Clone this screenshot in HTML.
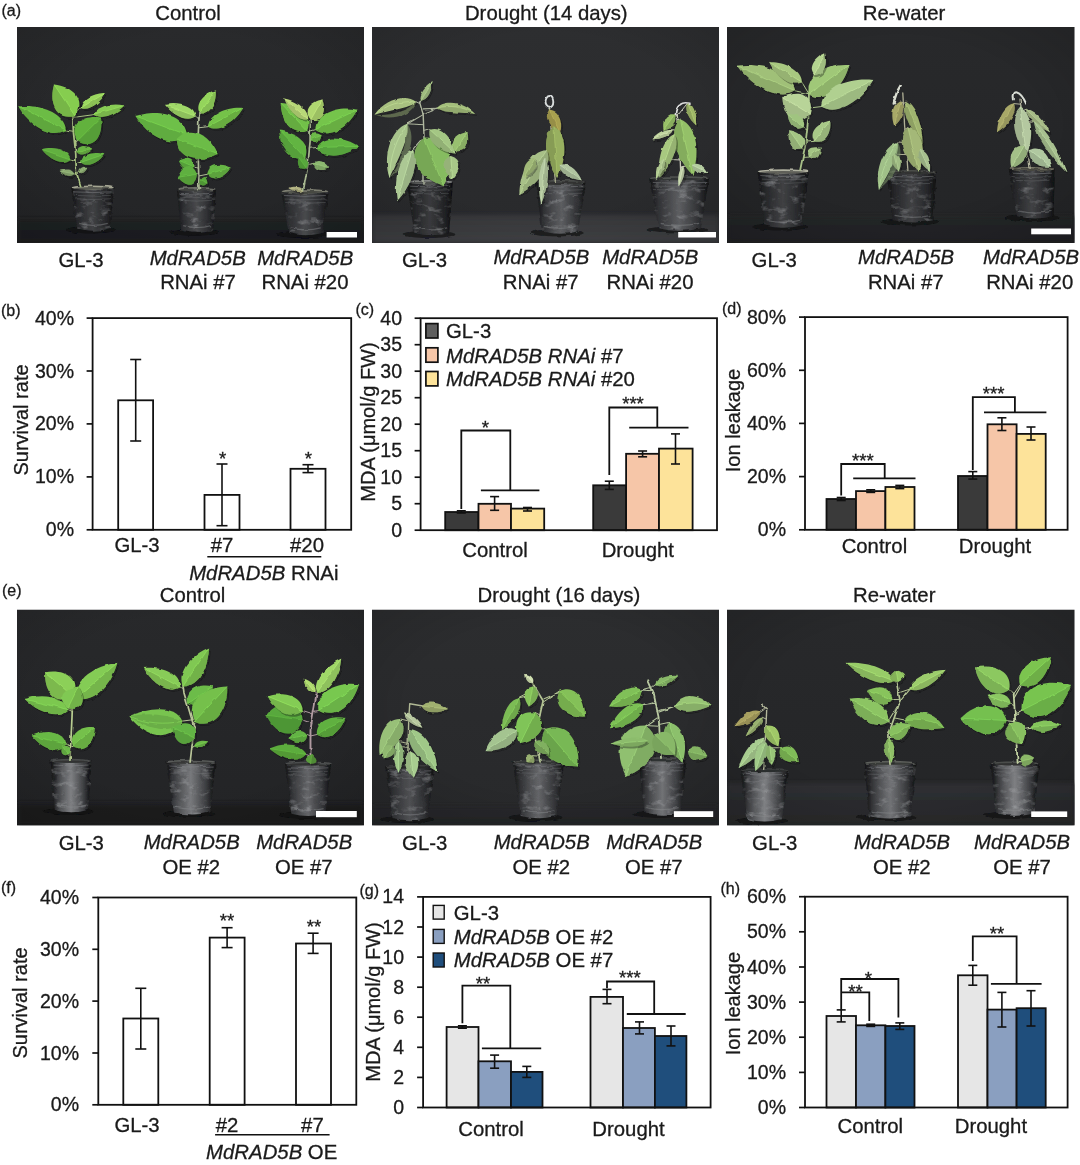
<!DOCTYPE html>
<html lang="en"><head><meta charset="utf-8"><title>MdRAD5B drought figure</title>
<style>html,body{margin:0;padding:0;background:#fff}body{width:1080px;height:1165px;overflow:hidden}svg{display:block}text{font-family:'Liberation Sans', Arial, Helvetica, sans-serif;fill:#1a1a1a;stroke:#1a1a1a;stroke-width:.3px}</style>
</head><body>
<svg width="1080" height="1165" viewBox="0 0 1080 1165">
<defs>
<filter id="soft" x="-5%" y="-5%" width="110%" height="110%"><feTurbulence type="fractalNoise" baseFrequency="0.11" numOctaves="2" seed="3" result="t"/><feDisplacementMap in="SourceGraphic" in2="t" scale="3.2" xChannelSelector="R" yChannelSelector="G" result="d"/><feGaussianBlur in="d" stdDeviation="0.7"/></filter>
<filter id="soft2" x="-2%" y="-20%" width="104%" height="140%"><feGaussianBlur stdDeviation="2.2"/></filter>
<filter id="crinkle" x="0" y="0" width="100%" height="100%"><feTurbulence type="fractalNoise" baseFrequency="0.09 0.16" numOctaves="3" seed="7" result="n"/><feColorMatrix in="n" type="matrix" values="0 0 0 0 0.62  0 0 0 0 0.63  0 0 0 0 0.65  2.4 0 0 0 -1.3" result="m"/><feComposite in="m" in2="SourceGraphic" operator="in"/></filter>
<linearGradient id="pot" x1="0" x2="1" y1="0" y2="0"><stop offset="0" stop-color="#151617"/><stop offset="0.15" stop-color="#2b2c2f"/><stop offset="0.5" stop-color="#48494c"/><stop offset="0.82" stop-color="#2a2b2e"/><stop offset="1" stop-color="#111213"/></linearGradient>
<linearGradient id="potHi" x1="0" x2="1" y1="0" y2="0"><stop offset="0.08" stop-color="#c8cacd" stop-opacity="0"/><stop offset="0.3" stop-color="#c8cacd" stop-opacity="0.3"/><stop offset="0.5" stop-color="#d0d2d5" stop-opacity="0.5"/><stop offset="0.72" stop-color="#c8cacd" stop-opacity="0.25"/><stop offset="0.94" stop-color="#c8cacd" stop-opacity="0"/></linearGradient>
<radialGradient id="vg" cx="0.5" cy="0.45" r="0.75"><stop offset="0.55" stop-color="#000" stop-opacity="0"/><stop offset="1" stop-color="#000" stop-opacity="0.16"/></radialGradient>
<linearGradient id="bg1" x1="0" x2="0" y1="0" y2="1"><stop offset="0" stop-color="#292a2c"/><stop offset="1" stop-color="#242527"/></linearGradient>
<linearGradient id="fl1" x1="0" x2="0" y1="0" y2="1"><stop offset="0" stop-color="#202123"/><stop offset="1" stop-color="#1d1e1f"/></linearGradient>
<clipPath id="cp1"><rect x="17" y="27" width="347" height="216"/></clipPath>
<linearGradient id="bg2" x1="0" x2="0" y1="0" y2="1"><stop offset="0" stop-color="#2d2e30"/><stop offset="1" stop-color="#292a2c"/></linearGradient>
<linearGradient id="fl2" x1="0" x2="0" y1="0" y2="1"><stop offset="0" stop-color="#37383b"/><stop offset="1" stop-color="#424346"/></linearGradient>
<clipPath id="cp2"><rect x="372" y="27" width="347" height="216"/></clipPath>
<linearGradient id="bg3" x1="0" x2="0" y1="0" y2="1"><stop offset="0" stop-color="#28292b"/><stop offset="1" stop-color="#242527"/></linearGradient>
<linearGradient id="fl3" x1="0" x2="0" y1="0" y2="1"><stop offset="0" stop-color="#252628"/><stop offset="1" stop-color="#212224"/></linearGradient>
<clipPath id="cp3"><rect x="727" y="27" width="347.7" height="216"/></clipPath>
<linearGradient id="bg4" x1="0" x2="0" y1="0" y2="1"><stop offset="0" stop-color="#28292b"/><stop offset="1" stop-color="#232426"/></linearGradient>
<linearGradient id="fl4" x1="0" x2="0" y1="0" y2="1"><stop offset="0" stop-color="#1e1f20"/><stop offset="1" stop-color="#1b1c1d"/></linearGradient>
<clipPath id="cp4"><rect x="17" y="609.5" width="347" height="216"/></clipPath>
<linearGradient id="bg5" x1="0" x2="0" y1="0" y2="1"><stop offset="0" stop-color="#2c2d2f"/><stop offset="1" stop-color="#28292b"/></linearGradient>
<linearGradient id="fl5" x1="0" x2="0" y1="0" y2="1"><stop offset="0" stop-color="#28292c"/><stop offset="1" stop-color="#232426"/></linearGradient>
<clipPath id="cp5"><rect x="372" y="609.5" width="347" height="216"/></clipPath>
<linearGradient id="bg6" x1="0" x2="0" y1="0" y2="1"><stop offset="0" stop-color="#28292b"/><stop offset="1" stop-color="#242527"/></linearGradient>
<linearGradient id="fl6" x1="0" x2="0" y1="0" y2="1"><stop offset="0" stop-color="#2e2f32"/><stop offset="1" stop-color="#28292b"/></linearGradient>
<clipPath id="cp6"><rect x="727" y="609.5" width="347.7" height="216"/></clipPath>
</defs>
<rect width="1080" height="1165" fill="#fff"/>
<g clip-path="url(#cp1)">
<rect x="17" y="27" width="347" height="216" fill="url(#bg1)"/>
<rect x="17" y="219" width="347" height="24" fill="url(#fl1)" filter="url(#soft2)"/>
<rect x="17" y="27" width="347" height="216" fill="url(#vg)"/>
<g filter="url(#soft)">
<ellipse cx="90.5" cy="229.9" rx="25.3" ry="3.4" fill="#0c0d0e" opacity="0.7"/>
<path d="M71.2 187.3L114.3 187.3L109.8 228.4Q93.5 232.9 77.1 228.4Z" fill="url(#pot)"/>
<path d="M71.2 187.3L114.3 187.3L109.8 228.4Q93.5 232.9 77.1 228.4Z" fill="#000" opacity="0.1"/>
<path d="M71.2 187.3L114.3 187.3L109.8 228.4Q93.5 232.9 77.1 228.4Z" fill="#808080" filter="url(#crinkle)" opacity="0.45"/>
<path d="M74 191.8Q92.7 193.4 111.5 191.8" stroke="#85878a" stroke-width="0.9" fill="none" opacity="0.55"/>
<path d="M74.6 195.3Q92.7 196.9 110.8 195.3" stroke="#6a6c70" stroke-width="0.9" fill="none" opacity="0.45"/>
<path d="M75.3 198.8Q92.7 200.4 110.2 198.8" stroke="#77797c" stroke-width="0.9" fill="none" opacity="0.4"/>
<path d="M79.1 223.4Q93.5 227.4 107.8 223.4" stroke="#8a8c8f" stroke-width="1.3" fill="none" opacity="0.45"/>
<ellipse cx="92.7" cy="187.6" rx="21" ry="2.1" fill="#a4a592"/>
<ellipse cx="92.7" cy="188.3" rx="18.5" ry="1.2" fill="#1c1d1e" opacity="0.55"/>
<path d="M80.9 186.6 L76.4 172.5 L75.7 153.2 L73.4 132.4 L72.7 116" fill="none" stroke="#a8c080" stroke-width="1.7" stroke-linecap="round" stroke-linejoin="round"/>
<path d="M73.3 131.3L66 130.1" stroke="#a8c080" stroke-width="1" fill="none" stroke-linecap="round"/>
<path d="M72.7 117.6L74.9 116" stroke="#a8c080" stroke-width="1" fill="none" stroke-linecap="round"/>
<path d="M72.7 117.5L80.9 107.9" stroke="#a8c080" stroke-width="1" fill="none" stroke-linecap="round"/>
<path d="M72.7 117.5L94.2 114.6" stroke="#a8c080" stroke-width="1" fill="none" stroke-linecap="round"/>
<path d="M74.4 143.1L77.1 141.3" stroke="#a8c080" stroke-width="1" fill="none" stroke-linecap="round"/>
<path d="M75.9 160.4L70.5 159.1" stroke="#a8c080" stroke-width="1" fill="none" stroke-linecap="round"/>
<path d="M76 164.1L80.9 162.4" stroke="#a8c080" stroke-width="1" fill="none" stroke-linecap="round"/>
<path d="M76.6 174.7L74.2 174" stroke="#a8c080" stroke-width="1" fill="none" stroke-linecap="round"/>
<path d="M76.7 174.8L79.4 172.5" stroke="#a8c080" stroke-width="1" fill="none" stroke-linecap="round"/>
<path d="M66 130.1C64.5 111.8 37.7 103.7 18.5 106.4C27.8 123.3 50.4 139.9 66 130.1Z" fill="#101112" opacity="0.35" transform="translate(1.6 2)"/>
<path d="M66 130.1C64.5 111.8 37.7 103.7 18.5 106.4C27.8 123.3 50.4 139.9 66 130.1Z" fill="#6cbc45"/>
<path d="M66 130.1C50.4 139.9 27.8 123.3 18.5 106.4C34.6 114.5 50.3 122.3 66 130.1Z" fill="#569637" opacity="0.55"/>
<path d="M66 130.1C50.3 122.3 34.6 114.5 18.5 106.4" stroke="#87eb56" stroke-opacity="0.7" stroke-width="0.6" fill="none"/>
<path d="M74.9 116C87.5 99.6 71.8 86.4 54.1 84.6C48.9 101.6 54.8 121.2 74.9 116Z" fill="#101112" opacity="0.35" transform="translate(1.6 2)"/>
<path d="M74.9 116C87.5 99.6 71.8 86.4 54.1 84.6C48.9 101.6 54.8 121.2 74.9 116Z" fill="#86cd50"/>
<path d="M74.9 116C54.8 121.2 48.9 101.6 54.1 84.6C61.2 95.3 68.1 105.6 74.9 116Z" fill="#6ba440" opacity="0.55"/>
<path d="M74.9 116C68.1 105.6 61.2 95.3 54.1 84.6" stroke="#a8ff64" stroke-opacity="0.7" stroke-width="0.6" fill="none"/>
<path d="M80.9 107.9C89.2 111.7 100.9 102 105.7 93C95.5 92.9 81.4 98.7 80.9 107.9Z" fill="#101112" opacity="0.35" transform="translate(1.6 2)"/>
<path d="M80.9 107.9C89.2 111.7 100.9 102 105.7 93C95.5 92.9 81.4 98.7 80.9 107.9Z" fill="#9cd860"/>
<path d="M80.9 107.9C89.2 111.7 100.9 102 105.7 93C97.2 98.1 89 103 80.9 107.9Z" fill="#7dad4d" opacity="0.55"/>
<path d="M80.9 107.9C89 103 97.2 98.1 105.7 93" stroke="#c3ff78" stroke-opacity="0.7" stroke-width="0.6" fill="none"/>
<path d="M94.2 114.6C101.9 120.7 116.8 113.8 124.2 105.6C113.6 102.9 97.3 105.2 94.2 114.6Z" fill="#101112" opacity="0.35" transform="translate(1.6 2)"/>
<path d="M94.2 114.6C101.9 120.7 116.8 113.8 124.2 105.6C113.6 102.9 97.3 105.2 94.2 114.6Z" fill="#88cc54"/>
<path d="M94.2 114.6C101.9 120.7 116.8 113.8 124.2 105.6C114 108.7 104.1 111.6 94.2 114.6Z" fill="#6da343" opacity="0.55"/>
<path d="M94.2 114.6C104.1 111.6 114 108.7 124.2 105.6" stroke="#aaff69" stroke-opacity="0.7" stroke-width="0.6" fill="none"/>
<path d="M77.1 141.3C95.3 150.9 103.5 134.4 100.9 117.5C84.1 115 67.6 123.1 77.1 141.3Z" fill="#101112" opacity="0.35" transform="translate(1.6 2)"/>
<path d="M77.1 141.3C95.3 150.9 103.5 134.4 100.9 117.5C84.1 115 67.6 123.1 77.1 141.3Z" fill="#62b23e"/>
<path d="M77.1 141.3C95.3 150.9 103.5 134.4 100.9 117.5C92.8 125.6 85 133.4 77.1 141.3Z" fill="#4e8e32" opacity="0.55"/>
<path d="M77.1 141.3C85 133.4 92.8 125.6 100.9 117.5" stroke="#7ade4e" stroke-opacity="0.7" stroke-width="0.6" fill="none"/>
<path d="M70.5 159.1C68.4 148.5 52.6 146.1 42 149.5C48.4 158.6 62.3 166.3 70.5 159.1Z" fill="#101112" opacity="0.35" transform="translate(1.6 2)"/>
<path d="M70.5 159.1C68.4 148.5 52.6 146.1 42 149.5C48.4 158.6 62.3 166.3 70.5 159.1Z" fill="#62b040"/>
<path d="M70.5 159.1C62.3 166.3 48.4 158.6 42 149.5C51.6 152.7 61.1 155.9 70.5 159.1Z" fill="#4e8d33" opacity="0.55"/>
<path d="M70.5 159.1C61.1 155.9 51.6 152.7 42 149.5" stroke="#7adc50" stroke-opacity="0.7" stroke-width="0.6" fill="none"/>
<path d="M76.4 151.4C80.4 157.4 88.8 154 93 148.7C87.3 145 78.4 144.5 76.4 151.4Z" fill="#101112" opacity="0.35" transform="translate(1.6 2)"/>
<path d="M76.4 151.4C80.4 157.4 88.8 154 93 148.7C87.3 145 78.4 144.5 76.4 151.4Z" fill="#6ab444"/>
<path d="M76.4 151.4C80.4 157.4 88.8 154 93 148.7C87.4 149.6 81.9 150.5 76.4 151.4Z" fill="#559036" opacity="0.55"/>
<path d="M76.4 151.4C81.9 150.5 87.4 149.6 93 148.7" stroke="#84e155" stroke-opacity="0.7" stroke-width="0.6" fill="none"/>
<path d="M80.9 162.4C87.7 168.6 99 162.1 104.2 154.4C95.3 151.4 82.4 153.3 80.9 162.4Z" fill="#101112" opacity="0.35" transform="translate(1.6 2)"/>
<path d="M80.9 162.4C87.7 168.6 99 162.1 104.2 154.4C95.3 151.4 82.4 153.3 80.9 162.4Z" fill="#64b242"/>
<path d="M80.9 162.4C87.7 168.6 99 162.1 104.2 154.4C96.3 157.1 88.6 159.7 80.9 162.4Z" fill="#508e35" opacity="0.55"/>
<path d="M80.9 162.4C88.6 159.7 96.3 157.1 104.2 154.4" stroke="#7dde52" stroke-opacity="0.7" stroke-width="0.6" fill="none"/>
<path d="M74.2 174C72.5 168.8 64.8 168.7 59.8 171C63.4 175.1 70.6 178 74.2 174Z" fill="#101112" opacity="0.35" transform="translate(1.6 2)"/>
<path d="M74.2 174C72.5 168.8 64.8 168.7 59.8 171C63.4 175.1 70.6 178 74.2 174Z" fill="#8aa870"/>
<path d="M74.2 174C70.6 178 63.4 175.1 59.8 171C64.7 172 69.4 173 74.2 174Z" fill="#6e865a" opacity="0.55"/>
<path d="M74.2 174C69.4 173 64.7 172 59.8 171" stroke="#acd28c" stroke-opacity="0.7" stroke-width="0.6" fill="none"/>
<path d="M79.4 172.5C82.5 174.6 86 171.4 87.1 168C83.6 167.3 79.1 168.7 79.4 172.5Z" fill="#101112" opacity="0.35" transform="translate(1.6 2)"/>
<path d="M79.4 172.5C82.5 174.6 86 171.4 87.1 168C83.6 167.3 79.1 168.7 79.4 172.5Z" fill="#8aa870"/>
<path d="M79.4 172.5C82.5 174.6 86 171.4 87.1 168C84.5 169.5 81.9 171 79.4 172.5Z" fill="#6e865a" opacity="0.55"/>
<path d="M79.4 172.5C81.9 171 84.5 169.5 87.1 168" stroke="#acd28c" stroke-opacity="0.7" stroke-width="0.6" fill="none"/>
<ellipse cx="194.2" cy="232.1" rx="25" ry="3.4" fill="#0c0d0e" opacity="0.7"/>
<path d="M176.8 188.8L216.1 188.8L213.1 230.6Q197.2 235.1 181.2 230.6Z" fill="url(#pot)"/>
<path d="M176.8 188.8L216.1 188.8L213.1 230.6Q197.2 235.1 181.2 230.6Z" fill="#808080" filter="url(#crinkle)" opacity="0.45"/>
<path d="M179.6 193.3Q196.4 194.9 213.3 193.3" stroke="#85878a" stroke-width="0.9" fill="none" opacity="0.55"/>
<path d="M180.2 196.8Q196.4 198.4 212.7 196.8" stroke="#6a6c70" stroke-width="0.9" fill="none" opacity="0.45"/>
<path d="M180.8 200.3Q196.4 201.9 212 200.3" stroke="#77797c" stroke-width="0.9" fill="none" opacity="0.4"/>
<path d="M183.2 225.6Q197.2 229.6 211.1 225.6" stroke="#8a8c8f" stroke-width="1.3" fill="none" opacity="0.45"/>
<ellipse cx="196.4" cy="189.1" rx="19.2" ry="2.1" fill="#6e6f68"/>
<ellipse cx="196.4" cy="189.8" rx="16.7" ry="1.2" fill="#1c1d1e" opacity="0.55"/>
<path d="M199 188.8 L198.3 159.1 L198.3 132.4 L199 117.5" fill="none" stroke="#b0bc98" stroke-width="1.7" stroke-linecap="round" stroke-linejoin="round"/>
<path d="M198.3 136.8L187.1 135.3" stroke="#b0bc98" stroke-width="1" fill="none" stroke-linecap="round"/>
<path d="M199 119L195.6 116.3" stroke="#b0bc98" stroke-width="1" fill="none" stroke-linecap="round"/>
<path d="M199 119L199.8 113.4" stroke="#b0bc98" stroke-width="1" fill="none" stroke-linecap="round"/>
<path d="M198.6 127.8L207.9 126.7" stroke="#b0bc98" stroke-width="1" fill="none" stroke-linecap="round"/>
<path d="M198.3 140.6L176.8 139.1" stroke="#b0bc98" stroke-width="1" fill="none" stroke-linecap="round"/>
<path d="M198.5 168.2L194.1 166.8" stroke="#b0bc98" stroke-width="1" fill="none" stroke-linecap="round"/>
<path d="M198.7 175.7L197.1 174.3" stroke="#b0bc98" stroke-width="1" fill="none" stroke-linecap="round"/>
<path d="M198.7 176L207.2 174.3" stroke="#b0bc98" stroke-width="1" fill="none" stroke-linecap="round"/>
<path d="M187.1 135.3C184.7 113.5 155.9 109 135.6 116C146.3 134.7 171 150.2 187.1 135.3Z" fill="#101112" opacity="0.35" transform="translate(1.6 2)"/>
<path d="M187.1 135.3C184.7 113.5 155.9 109 135.6 116C146.3 134.7 171 150.2 187.1 135.3Z" fill="#6ec048"/>
<path d="M187.1 135.3C171 150.2 146.3 134.7 135.6 116C153.1 122.6 170.1 129 187.1 135.3Z" fill="#589a3a" opacity="0.55"/>
<path d="M187.1 135.3C170.1 129 153.1 122.6 135.6 116" stroke="#8af05a" stroke-opacity="0.7" stroke-width="0.6" fill="none"/>
<path d="M195.6 116.3C193.5 105.5 176.7 102.2 165.3 104.9C172.1 114.5 186.8 123.1 195.6 116.3Z" fill="#101112" opacity="0.35" transform="translate(1.6 2)"/>
<path d="M195.6 116.3C193.5 105.5 176.7 102.2 165.3 104.9C172.1 114.5 186.8 123.1 195.6 116.3Z" fill="#a0d868"/>
<path d="M195.6 116.3C186.8 123.1 172.1 114.5 165.3 104.9C175.6 108.8 185.6 112.6 195.6 116.3Z" fill="#80ad53" opacity="0.55"/>
<path d="M195.6 116.3C185.6 112.6 175.6 108.8 165.3 104.9" stroke="#c8ff82" stroke-opacity="0.7" stroke-width="0.6" fill="none"/>
<path d="M199.8 113.4C211 115.1 216.8 101.4 215.7 90.5C205 93.3 194.3 103.4 199.8 113.4Z" fill="#101112" opacity="0.35" transform="translate(1.6 2)"/>
<path d="M199.8 113.4C211 115.1 216.8 101.4 215.7 90.5C205 93.3 194.3 103.4 199.8 113.4Z" fill="#94d45c"/>
<path d="M199.8 113.4C211 115.1 216.8 101.4 215.7 90.5C210.3 98.3 205 105.8 199.8 113.4Z" fill="#76aa4a" opacity="0.55"/>
<path d="M199.8 113.4C205 105.8 210.3 98.3 215.7 90.5" stroke="#b9ff73" stroke-opacity="0.7" stroke-width="0.6" fill="none"/>
<path d="M207.9 126.7C219.7 133.5 236.4 120.6 243.1 107.9C228.8 106.4 208.8 113.2 207.9 126.7Z" fill="#101112" opacity="0.35" transform="translate(1.6 2)"/>
<path d="M207.9 126.7C219.7 133.5 236.4 120.6 243.1 107.9C228.8 106.4 208.8 113.2 207.9 126.7Z" fill="#74c24a"/>
<path d="M207.9 126.7C219.7 133.5 236.4 120.6 243.1 107.9C231.2 114.3 219.6 120.5 207.9 126.7Z" fill="#5d9b3b" opacity="0.55"/>
<path d="M207.9 126.7C219.6 120.5 231.2 114.3 243.1 107.9" stroke="#91f25c" stroke-opacity="0.7" stroke-width="0.6" fill="none"/>
<path d="M176.8 139.1C177.2 160.8 200.5 162.8 217.6 153.9C210.2 136.1 191 122.7 176.8 139.1Z" fill="#101112" opacity="0.35" transform="translate(1.6 2)"/>
<path d="M176.8 139.1C177.2 160.8 200.5 162.8 217.6 153.9C210.2 136.1 191 122.7 176.8 139.1Z" fill="#6cbc46"/>
<path d="M176.8 139.1C177.2 160.8 200.5 162.8 217.6 153.9C203.7 148.9 190.2 144 176.8 139.1Z" fill="#569638" opacity="0.55"/>
<path d="M176.8 139.1C190.2 144 203.7 148.9 217.6 153.9" stroke="#87eb58" stroke-opacity="0.7" stroke-width="0.6" fill="none"/>
<path d="M194.1 166.8C194.5 158.2 185.5 157 178.7 160.3C181.1 167.5 188.2 173.1 194.1 166.8Z" fill="#101112" opacity="0.35" transform="translate(1.6 2)"/>
<path d="M194.1 166.8C194.5 158.2 185.5 157 178.7 160.3C181.1 167.5 188.2 173.1 194.1 166.8Z" fill="#62b442"/>
<path d="M194.1 166.8C188.2 173.1 181.1 167.5 178.7 160.3C183.9 162.5 189 164.7 194.1 166.8Z" fill="#4e9035" opacity="0.55"/>
<path d="M194.1 166.8C189 164.7 183.9 162.5 178.7 160.3" stroke="#7ae152" stroke-opacity="0.7" stroke-width="0.6" fill="none"/>
<path d="M197.1 174.3C191.4 160.3 182.1 166.2 177.9 177.2C185.3 186.5 195.9 189.3 197.1 174.3Z" fill="#101112" opacity="0.35" transform="translate(1.6 2)"/>
<path d="M197.1 174.3C191.4 160.3 182.1 166.2 177.9 177.2C185.3 186.5 195.9 189.3 197.1 174.3Z" fill="#5fb040"/>
<path d="M197.1 174.3C195.9 189.3 185.3 186.5 177.9 177.2C184.5 176.2 190.8 175.2 197.1 174.3Z" fill="#4c8d33" opacity="0.55"/>
<path d="M197.1 174.3C190.8 175.2 184.5 176.2 177.9 177.2" stroke="#77dc50" stroke-opacity="0.7" stroke-width="0.6" fill="none"/>
<path d="M207.2 174.3C214.1 182.9 225.4 176.6 230.5 167.7C221.6 162.8 208.6 163.3 207.2 174.3Z" fill="#101112" opacity="0.35" transform="translate(1.6 2)"/>
<path d="M207.2 174.3C214.1 182.9 225.4 176.6 230.5 167.7C221.6 162.8 208.6 163.3 207.2 174.3Z" fill="#66b644"/>
<path d="M207.2 174.3C214.1 182.9 225.4 176.6 230.5 167.7C222.6 169.9 214.9 172.1 207.2 174.3Z" fill="#529236" opacity="0.55"/>
<path d="M207.2 174.3C214.9 172.1 222.6 169.9 230.5 167.7" stroke="#80e455" stroke-opacity="0.7" stroke-width="0.6" fill="none"/>
<path d="M199.8 179.9C198.5 186.7 203.3 186.6 207.5 183.2C207 177.8 203.8 174.2 199.8 179.9Z" fill="#101112" opacity="0.35" transform="translate(1.6 2)"/>
<path d="M199.8 179.9C198.5 186.7 203.3 186.6 207.5 183.2C207 177.8 203.8 174.2 199.8 179.9Z" fill="#5aa83c"/>
<path d="M199.8 179.9C198.5 186.7 203.3 186.6 207.5 183.2C204.9 182.1 202.3 181 199.8 179.9Z" fill="#488630" opacity="0.55"/>
<path d="M199.8 179.9C202.3 181 204.9 182.1 207.5 183.2" stroke="#70d24b" stroke-opacity="0.7" stroke-width="0.6" fill="none"/>
<ellipse cx="302.6" cy="234.4" rx="26.1" ry="3.4" fill="#0c0d0e" opacity="0.7"/>
<path d="M281.1 191L328.7 191L322.7 232.9Q305.6 237.4 288.6 232.9Z" fill="url(#pot)"/>
<path d="M281.1 191L328.7 191L322.7 232.9Q305.6 237.4 288.6 232.9Z" fill="#808080" filter="url(#crinkle)" opacity="0.45"/>
<path d="M283.9 195.5Q304.9 197.1 325.8 195.5" stroke="#85878a" stroke-width="0.9" fill="none" opacity="0.55"/>
<path d="M284.6 199Q304.9 200.6 325.2 199" stroke="#6a6c70" stroke-width="0.9" fill="none" opacity="0.45"/>
<path d="M285.2 202.5Q304.9 204.1 324.6 202.5" stroke="#77797c" stroke-width="0.9" fill="none" opacity="0.4"/>
<path d="M290.6 227.9Q305.6 231.9 320.7 227.9" stroke="#8a8c8f" stroke-width="1.3" fill="none" opacity="0.45"/>
<ellipse cx="304.9" cy="191.3" rx="23.3" ry="2.1" fill="#7c7d70"/>
<ellipse cx="304.9" cy="192" rx="20.8" ry="1.2" fill="#1c1d1e" opacity="0.55"/>
<path d="M303.4 190.3 L307.9 165 L310.1 141.3 L310.1 120.5" fill="none" stroke="#a8b890" stroke-width="1.7" stroke-linecap="round" stroke-linejoin="round"/>
<path d="M310.1 132.4L307.1 130.9" stroke="#a8b890" stroke-width="1" fill="none" stroke-linecap="round"/>
<path d="M310.1 122L308.2 119.3" stroke="#a8b890" stroke-width="1" fill="none" stroke-linecap="round"/>
<path d="M310.1 131.2L315.3 129.7" stroke="#a8b890" stroke-width="1" fill="none" stroke-linecap="round"/>
<path d="M308.5 159.7L305.2 157.9" stroke="#a8b890" stroke-width="1" fill="none" stroke-linecap="round"/>
<path d="M309.6 148.3L316.8 147.5" stroke="#a8b890" stroke-width="1" fill="none" stroke-linecap="round"/>
<path d="M308.1 164.5L313.8 163.6" stroke="#a8b890" stroke-width="1" fill="none" stroke-linecap="round"/>
<path d="M307.1 130.9C314 114.9 296.8 103.7 280.8 103C280.6 119 290.8 136.8 307.1 130.9Z" fill="#101112" opacity="0.35" transform="translate(1.6 2)"/>
<path d="M307.1 130.9C314 114.9 296.8 103.7 280.8 103C280.6 119 290.8 136.8 307.1 130.9Z" fill="#72c04a"/>
<path d="M307.1 130.9C290.8 136.8 280.6 119 280.8 103C289.8 112.5 298.4 121.7 307.1 130.9Z" fill="#5b9a3b" opacity="0.55"/>
<path d="M307.1 130.9C298.4 121.7 289.8 112.5 280.8 103" stroke="#8ef05c" stroke-opacity="0.7" stroke-width="0.6" fill="none"/>
<path d="M308.2 119.3C309.2 109.5 295.3 100.5 284.4 98.5C287.8 109 298.5 121.7 308.2 119.3Z" fill="#101112" opacity="0.35" transform="translate(1.6 2)"/>
<path d="M308.2 119.3C309.2 109.5 295.3 100.5 284.4 98.5C287.8 109 298.5 121.7 308.2 119.3Z" fill="#b8d878"/>
<path d="M308.2 119.3C298.5 121.7 287.8 109 284.4 98.5C292.5 105.6 300.3 112.4 308.2 119.3Z" fill="#93ad60" opacity="0.55"/>
<path d="M308.2 119.3C300.3 112.4 292.5 105.6 284.4 98.5" stroke="#e6ff96" stroke-opacity="0.7" stroke-width="0.6" fill="none"/>
<path d="M310.8 119.8C323.4 122 326.2 109.6 322.3 99.4C311.5 101.4 302.4 110.2 310.8 119.8Z" fill="#101112" opacity="0.35" transform="translate(1.6 2)"/>
<path d="M310.8 119.8C323.4 122 326.2 109.6 322.3 99.4C311.5 101.4 302.4 110.2 310.8 119.8Z" fill="#b0d870"/>
<path d="M310.8 119.8C323.4 122 326.2 109.6 322.3 99.4C318.4 106.3 314.6 113 310.8 119.8Z" fill="#8dad5a" opacity="0.55"/>
<path d="M310.8 119.8C314.6 113 318.4 106.3 322.3 99.4" stroke="#dcff8c" stroke-opacity="0.7" stroke-width="0.6" fill="none"/>
<path d="M315.3 129.7C329.7 140.5 349.5 125.9 357.3 109.8C339.9 105.7 316 111.7 315.3 129.7Z" fill="#101112" opacity="0.35" transform="translate(1.6 2)"/>
<path d="M315.3 129.7C329.7 140.5 349.5 125.9 357.3 109.8C339.9 105.7 316 111.7 315.3 129.7Z" fill="#74c44c"/>
<path d="M315.3 129.7C329.7 140.5 349.5 125.9 357.3 109.8C343 116.6 329.2 123.1 315.3 129.7Z" fill="#5d9d3d" opacity="0.55"/>
<path d="M315.3 129.7C329.2 123.1 343 116.6 357.3 109.8" stroke="#91f55f" stroke-opacity="0.7" stroke-width="0.6" fill="none"/>
<path d="M305.2 157.9C311.2 142.9 294.5 131.8 279.3 130.6C279.7 145.8 289.9 163.1 305.2 157.9Z" fill="#101112" opacity="0.35" transform="translate(1.6 2)"/>
<path d="M305.2 157.9C311.2 142.9 294.5 131.8 279.3 130.6C279.7 145.8 289.9 163.1 305.2 157.9Z" fill="#62b442"/>
<path d="M305.2 157.9C289.9 163.1 279.7 145.8 279.3 130.6C288.1 139.9 296.7 148.9 305.2 157.9Z" fill="#4e9035" opacity="0.55"/>
<path d="M305.2 157.9C296.7 148.9 288.1 139.9 279.3 130.6" stroke="#7ae152" stroke-opacity="0.7" stroke-width="0.6" fill="none"/>
<path d="M316.8 147.5C324.6 160.7 346.3 156.1 358.7 146.5C345.9 137.5 324 134 316.8 147.5Z" fill="#101112" opacity="0.35" transform="translate(1.6 2)"/>
<path d="M316.8 147.5C324.6 160.7 346.3 156.1 358.7 146.5C345.9 137.5 324 134 316.8 147.5Z" fill="#62b643"/>
<path d="M316.8 147.5C324.6 160.7 346.3 156.1 358.7 146.5C344.4 146.8 330.6 147.2 316.8 147.5Z" fill="#4e9236" opacity="0.55"/>
<path d="M316.8 147.5C330.6 147.2 344.4 146.8 358.7 146.5" stroke="#7ae454" stroke-opacity="0.7" stroke-width="0.6" fill="none"/>
<path d="M310.8 140.1C315.9 146.4 320.5 141.8 321.5 135.3C316.1 131.8 309.6 132.1 310.8 140.1Z" fill="#101112" opacity="0.35" transform="translate(1.6 2)"/>
<path d="M310.8 140.1C315.9 146.4 320.5 141.8 321.5 135.3C316.1 131.8 309.6 132.1 310.8 140.1Z" fill="#6cba48"/>
<path d="M310.8 140.1C315.9 146.4 320.5 141.8 321.5 135.3C317.9 137 314.4 138.5 310.8 140.1Z" fill="#56953a" opacity="0.55"/>
<path d="M310.8 140.1C314.4 138.5 317.9 137 321.5 135.3" stroke="#87e85a" stroke-opacity="0.7" stroke-width="0.6" fill="none"/>
<path d="M306.4 168.3C311.4 161.8 305.5 157.5 298.7 157.3C296.5 163.8 298.6 170.8 306.4 168.3Z" fill="#101112" opacity="0.35" transform="translate(1.6 2)"/>
<path d="M306.4 168.3C311.4 161.8 305.5 157.5 298.7 157.3C296.5 163.8 298.6 170.8 306.4 168.3Z" fill="#58a83c"/>
<path d="M306.4 168.3C298.6 170.8 296.5 163.8 298.7 157.3C301.3 161.1 303.8 164.7 306.4 168.3Z" fill="#468630" opacity="0.55"/>
<path d="M306.4 168.3C303.8 164.7 301.3 161.1 298.7 157.3" stroke="#6ed24b" stroke-opacity="0.7" stroke-width="0.6" fill="none"/>
<path d="M313.8 163.6C314.5 170.9 323 171.4 329 168.3C325.8 162.4 318.6 157.9 313.8 163.6Z" fill="#101112" opacity="0.35" transform="translate(1.6 2)"/>
<path d="M313.8 163.6C314.5 170.9 323 171.4 329 168.3C325.8 162.4 318.6 157.9 313.8 163.6Z" fill="#8cb870"/>
<path d="M313.8 163.6C314.5 170.9 323 171.4 329 168.3C323.8 166.7 318.8 165.1 313.8 163.6Z" fill="#70935a" opacity="0.55"/>
<path d="M313.8 163.6C318.8 165.1 323.8 166.7 329 168.3" stroke="#afe68c" stroke-opacity="0.7" stroke-width="0.6" fill="none"/>
<path d="M303.4 190.3C301.3 186 293.4 186 288.6 188.1C292.6 191.5 300.2 193.8 303.4 190.3Z" fill="#101112" opacity="0.35" transform="translate(1.6 2)"/>
<path d="M303.4 190.3C301.3 186 293.4 186 288.6 188.1C292.6 191.5 300.2 193.8 303.4 190.3Z" fill="#b0b080"/>
<path d="M303.4 190.3C300.2 193.8 292.6 191.5 288.6 188.1C293.6 188.8 298.5 189.6 303.4 190.3Z" fill="#8d8d66" opacity="0.55"/>
<path d="M303.4 190.3C298.5 189.6 293.6 188.8 288.6 188.1" stroke="#dcdca0" stroke-opacity="0.7" stroke-width="0.6" fill="none"/>
</g>
<rect x="326.6" y="232" width="30.4" height="5.5" fill="#fff"/>
</g>
<g clip-path="url(#cp2)">
<rect x="372" y="27" width="347" height="216" fill="url(#bg2)"/>
<rect x="372" y="215" width="347" height="28" fill="url(#fl2)" filter="url(#soft2)"/>
<rect x="372" y="27" width="347" height="216" fill="url(#vg)"/>
<g filter="url(#soft)">
<ellipse cx="428.8" cy="234.4" rx="26.5" ry="3.4" fill="#0c0d0e" opacity="0.7"/>
<path d="M406.9 181.7L452.9 181.7L449.2 232.9Q431.8 237.4 414.3 232.9Z" fill="url(#pot)"/>
<path d="M406.9 181.7L452.9 181.7L449.2 232.9Q431.8 237.4 414.3 232.9Z" fill="#000" opacity="0.2"/>
<path d="M406.9 181.7L452.9 181.7L449.2 232.9Q431.8 237.4 414.3 232.9Z" fill="#808080" filter="url(#crinkle)" opacity="0.45"/>
<path d="M409.7 186.2Q429.9 187.8 450.1 186.2" stroke="#85878a" stroke-width="0.9" fill="none" opacity="0.55"/>
<path d="M410.3 189.7Q429.9 191.3 449.5 189.7" stroke="#6a6c70" stroke-width="0.9" fill="none" opacity="0.45"/>
<path d="M411 193.2Q429.9 194.8 448.9 193.2" stroke="#77797c" stroke-width="0.9" fill="none" opacity="0.4"/>
<path d="M416.3 227.9Q431.8 231.9 447.2 227.9" stroke="#8a8c8f" stroke-width="1.3" fill="none" opacity="0.45"/>
<ellipse cx="429.9" cy="182" rx="22.5" ry="2.1" fill="#8a8c8a"/>
<ellipse cx="429.9" cy="182.7" rx="20" ry="1.2" fill="#1c1d1e" opacity="0.55"/>
<path d="M424 182.9 L424 136.8 L423.2 114.6 L419.5 101.9" fill="none" stroke="#b0b8a0" stroke-width="1.4" stroke-linecap="round" stroke-linejoin="round"/>
<path d="M423.2 114.6 L407.6 123.8" fill="none" stroke="#b0b8a0" stroke-width="1.1" stroke-linecap="round"/>
<path d="M423.2 108.9 L437.3 108.3" fill="none" stroke="#b0b8a0" stroke-width="1.1" stroke-linecap="round"/>
<path d="M421 139.8 L412.1 150.2" fill="none" stroke="#b0b8a0" stroke-width="1.1" stroke-linecap="round"/>
<path d="M419.5 103.4L416.3 101.9" stroke="#b0b8a0" stroke-width="1" fill="none" stroke-linecap="round"/>
<path d="M419.5 103.4L421 100.7" stroke="#b0b8a0" stroke-width="1" fill="none" stroke-linecap="round"/>
<path d="M422.6 113.8L436.6 108.2" stroke="#b0b8a0" stroke-width="1" fill="none" stroke-linecap="round"/>
<path d="M423.5 124.7L407.3 123.8" stroke="#b0b8a0" stroke-width="1" fill="none" stroke-linecap="round"/>
<path d="M424 151.4L412.4 149.9" stroke="#b0b8a0" stroke-width="1" fill="none" stroke-linecap="round"/>
<path d="M423.7 131.4L429.9 129.7" stroke="#b0b8a0" stroke-width="1" fill="none" stroke-linecap="round"/>
<path d="M416.3 101.9C405.4 93.1 383.9 100.1 374.7 114.6C387.1 110.6 410 108.1 416.3 101.9Z" fill="#101112" opacity="0.35" transform="translate(1.6 2)"/>
<path d="M416.3 101.9C405.4 93.1 383.9 100.1 374.7 114.6C387.1 110.6 410 108.1 416.3 101.9Z" fill="#a8c080"/>
<path d="M416.3 101.9C412.1 115.3 390.4 121.4 374.7 114.6C390.6 116.1 404.3 111.8 416.3 101.9Z" fill="#869a66" opacity="0.55"/>
<path d="M416.3 101.9C400.8 100.4 387 104.4 374.7 114.6" stroke="#d2f0a0" stroke-opacity="0.7" stroke-width="0.6" fill="none"/>
<path d="M421 100.7C427.7 100.3 432.3 89.9 432.4 82.3C425.8 85.8 418.4 94.5 421 100.7Z" fill="#101112" opacity="0.35" transform="translate(1.6 2)"/>
<path d="M421 100.7C427.7 100.3 432.3 89.9 432.4 82.3C425.8 85.8 418.4 94.5 421 100.7Z" fill="#a0bc80"/>
<path d="M421 100.7C427.7 100.3 432.3 89.9 432.4 82.3C428.6 88.6 424.8 94.7 421 100.7Z" fill="#809666" opacity="0.55"/>
<path d="M421 100.7C424.8 94.7 428.6 88.6 432.4 82.3" stroke="#c8eba0" stroke-opacity="0.7" stroke-width="0.6" fill="none"/>
<path d="M436.6 108.2C442.9 113.2 463.3 112.2 474.8 113.8C464.8 102.1 445 98.7 436.6 108.2Z" fill="#101112" opacity="0.35" transform="translate(1.6 2)"/>
<path d="M436.6 108.2C442.9 113.2 463.3 112.2 474.8 113.8C464.8 102.1 445 98.7 436.6 108.2Z" fill="#a4be7c"/>
<path d="M436.6 108.2C442.9 113.2 463.3 112.2 474.8 113.8C462.6 106.5 450 104.8 436.6 108.2Z" fill="#839863" opacity="0.55"/>
<path d="M436.6 108.2C450 104.8 462.6 106.5 474.8 113.8" stroke="#cdee9b" stroke-opacity="0.7" stroke-width="0.6" fill="none"/>
<path d="M407.3 123.8C390.5 129 382.5 157.4 389.5 177.7C396.8 162.1 410.8 135.7 407.3 123.8Z" fill="#101112" opacity="0.35" transform="translate(1.6 2)"/>
<path d="M407.3 123.8C390.5 129 382.5 157.4 389.5 177.7C396.8 162.1 410.8 135.7 407.3 123.8Z" fill="#a8c48c"/>
<path d="M407.3 123.8C417.8 138 407.2 165.6 389.5 177.7C401.3 161.2 407 143.4 407.3 123.8Z" fill="#869d70" opacity="0.55"/>
<path d="M407.3 123.8C395.9 139.7 389.9 157.5 389.5 177.7" stroke="#d2f5af" stroke-opacity="0.7" stroke-width="0.6" fill="none"/>
<path d="M412.4 149.9C398.1 155.6 393.5 183.2 397 201C409.6 188.1 421.1 162.6 412.4 149.9Z" fill="#101112" opacity="0.35" transform="translate(1.6 2)"/>
<path d="M412.4 149.9C398.1 155.6 393.5 183.2 397 201C409.6 188.1 421.1 162.6 412.4 149.9Z" fill="#acc894"/>
<path d="M412.4 149.9C421.1 162.6 409.6 188.1 397 201C402.2 183.6 407.3 166.8 412.4 149.9Z" fill="#8aa076" opacity="0.55"/>
<path d="M412.4 149.9C407.3 166.8 402.2 183.6 397 201" stroke="#d7fab9" stroke-opacity="0.7" stroke-width="0.6" fill="none"/>
<path d="M424 137.6C402.7 156.3 420.3 178.6 443.6 186.1C455.1 164.5 452.4 136.3 424 137.6Z" fill="#101112" opacity="0.35" transform="translate(1.6 2)"/>
<path d="M424 137.6C402.7 156.3 420.3 178.6 443.6 186.1C455.1 164.5 452.4 136.3 424 137.6Z" fill="#86bc60"/>
<path d="M424 137.6C402.7 156.3 420.3 178.6 443.6 186.1C436.9 169.6 430.4 153.6 424 137.6Z" fill="#6b964d" opacity="0.55"/>
<path d="M424 137.6C430.4 153.6 436.9 169.6 443.6 186.1" stroke="#a8eb78" stroke-opacity="0.7" stroke-width="0.6" fill="none"/>
<path d="M429.9 129.7C426.3 142.8 442.1 152.5 455.5 153.5C453.5 140.2 442.7 125.2 429.9 129.7Z" fill="#101112" opacity="0.35" transform="translate(1.6 2)"/>
<path d="M429.9 129.7C426.3 142.8 442.1 152.5 455.5 153.5C453.5 140.2 442.7 125.2 429.9 129.7Z" fill="#a4c684"/>
<path d="M429.9 129.7C426.3 142.8 442.1 152.5 455.5 153.5C446.8 145.4 438.4 137.5 429.9 129.7Z" fill="#839e6a" opacity="0.55"/>
<path d="M429.9 129.7C438.4 137.5 446.8 145.4 455.5 153.5" stroke="#cdf8a5" stroke-opacity="0.7" stroke-width="0.6" fill="none"/>
<path d="M455.2 150.9C466.4 153.4 470 141.8 467.3 132.1C457.4 133.7 448.4 141.7 455.2 150.9Z" fill="#101112" opacity="0.35" transform="translate(1.6 2)"/>
<path d="M455.2 150.9C466.4 153.4 470 141.8 467.3 132.1C457.4 133.7 448.4 141.7 455.2 150.9Z" fill="#98c070"/>
<path d="M455.2 150.9C466.4 153.4 470 141.8 467.3 132.1C463.2 138.5 459.2 144.7 455.2 150.9Z" fill="#7a9a5a" opacity="0.55"/>
<path d="M455.2 150.9C459.2 144.7 463.2 138.5 467.3 132.1" stroke="#bef08c" stroke-opacity="0.7" stroke-width="0.6" fill="none"/>
<path d="M450.7 156.1C439 161.1 443.6 172.6 452.5 178.7C460.4 171.3 463 159.3 450.7 156.1Z" fill="#101112" opacity="0.35" transform="translate(1.6 2)"/>
<path d="M450.7 156.1C439 161.1 443.6 172.6 452.5 178.7C460.4 171.3 463 159.3 450.7 156.1Z" fill="#a8c888"/>
<path d="M450.7 156.1C439 161.1 443.6 172.6 452.5 178.7C451.9 171 451.3 163.6 450.7 156.1Z" fill="#86a06d" opacity="0.55"/>
<path d="M450.7 156.1C451.3 163.6 451.9 171 452.5 178.7" stroke="#d2faaa" stroke-opacity="0.7" stroke-width="0.6" fill="none"/>
<ellipse cx="556.8" cy="232.9" rx="26.8" ry="3.4" fill="#0c0d0e" opacity="0.7"/>
<path d="M536 181.7L586.5 181.7L577.6 231.4Q559.8 235.9 542 231.4Z" fill="url(#pot)"/>
<path d="M536 181.7L586.5 181.7L577.6 231.4Q559.8 235.9 542 231.4Z" fill="url(#potHi)" opacity="0.3"/>
<path d="M536 181.7L586.5 181.7L577.6 231.4Q559.8 235.9 542 231.4Z" fill="#808080" filter="url(#crinkle)" opacity="0.45"/>
<path d="M538.8 186.2Q561.3 187.8 583.7 186.2" stroke="#85878a" stroke-width="0.9" fill="none" opacity="0.55"/>
<path d="M539.5 189.7Q561.3 191.3 583.1 189.7" stroke="#6a6c70" stroke-width="0.9" fill="none" opacity="0.45"/>
<path d="M540.1 193.2Q561.3 194.8 582.5 193.2" stroke="#77797c" stroke-width="0.9" fill="none" opacity="0.4"/>
<path d="M544 226.4Q559.8 230.4 575.6 226.4" stroke="#8a8c8f" stroke-width="1.3" fill="none" opacity="0.45"/>
<ellipse cx="561.3" cy="182" rx="24.7" ry="2.1" fill="#4c4e4c"/>
<ellipse cx="561.3" cy="182.7" rx="22.2" ry="1.2" fill="#1c1d1e" opacity="0.55"/>
<path d="M555.3 181.4 L552.4 144.3 L549.4 108.6" fill="none" stroke="#b0b494" stroke-width="1.3" stroke-linecap="round" stroke-linejoin="round"/>
<ellipse cx="549.4" cy="101.9" rx="3.9" ry="5.9" fill="none" stroke="#d8dcdc" stroke-width="1.9"/>
<path d="M550.9 128.2L553.9 126.4" stroke="#b0b494" stroke-width="1" fill="none" stroke-linecap="round"/>
<path d="M552.8 151.2L546.7 150.2" stroke="#b0b494" stroke-width="1" fill="none" stroke-linecap="round"/>
<path d="M553.5 159.9L545 159.1" stroke="#b0b494" stroke-width="1" fill="none" stroke-linecap="round"/>
<path d="M554.1 167L559.8 165" stroke="#b0b494" stroke-width="1" fill="none" stroke-linecap="round"/>
<path d="M553.4 159.1L534.6 159.1" stroke="#b0b494" stroke-width="1" fill="none" stroke-linecap="round"/>
<path d="M549.4 109.8C542.6 118 550.8 128.9 560.1 133.1C563 123.3 560.1 110 549.4 109.8Z" fill="#101112" opacity="0.35" transform="translate(1.6 2)"/>
<path d="M549.4 109.8C542.6 118 550.8 128.9 560.1 133.1C563 123.3 560.1 110 549.4 109.8Z" fill="#a8a050"/>
<path d="M549.4 109.8C542.6 118 550.8 128.9 560.1 133.1C556.5 125.2 552.9 117.5 549.4 109.8Z" fill="#868040" opacity="0.55"/>
<path d="M549.4 109.8C552.9 117.5 556.5 125.2 560.1 133.1" stroke="#d2c864" stroke-opacity="0.7" stroke-width="0.6" fill="none"/>
<path d="M553.9 126.4C540.2 136.6 546.2 162.9 557.1 177.7C566.1 161.7 568.7 134.7 553.9 126.4Z" fill="#101112" opacity="0.35" transform="translate(1.6 2)"/>
<path d="M553.9 126.4C540.2 136.6 546.2 162.9 557.1 177.7C566.1 161.7 568.7 134.7 553.9 126.4Z" fill="#98b060"/>
<path d="M553.9 126.4C540.2 136.6 546.2 162.9 557.1 177.7C556 160.3 554.9 143.3 553.9 126.4Z" fill="#7a8d4d" opacity="0.55"/>
<path d="M553.9 126.4C554.9 143.3 556 160.3 557.1 177.7" stroke="#bedc78" stroke-opacity="0.7" stroke-width="0.6" fill="none"/>
<path d="M546.7 150.2C529.7 150.5 519.1 175.6 519.4 194C536.1 186.2 553.9 165.7 546.7 150.2Z" fill="#101112" opacity="0.35" transform="translate(1.6 2)"/>
<path d="M546.7 150.2C529.7 150.5 519.1 175.6 519.4 194C536.1 186.2 553.9 165.7 546.7 150.2Z" fill="#a8c088"/>
<path d="M546.7 150.2C553.9 165.7 536.1 186.2 519.4 194C528.7 179.1 537.7 164.7 546.7 150.2Z" fill="#869a6d" opacity="0.55"/>
<path d="M546.7 150.2C537.7 164.7 528.7 179.1 519.4 194" stroke="#d2f0aa" stroke-opacity="0.7" stroke-width="0.6" fill="none"/>
<path d="M545 159.1C537.5 166.6 537.6 190.1 541.2 204C547.1 190.9 551 167.7 545 159.1Z" fill="#101112" opacity="0.35" transform="translate(1.6 2)"/>
<path d="M545 159.1C537.5 166.6 537.6 190.1 541.2 204C547.1 190.9 551 167.7 545 159.1Z" fill="#b4c8a0"/>
<path d="M545 159.1C551 167.7 547.1 190.9 541.2 204C542.5 188.7 543.7 173.9 545 159.1Z" fill="#90a080" opacity="0.55"/>
<path d="M545 159.1C543.7 173.9 542.5 188.7 541.2 204" stroke="#e1fac8" stroke-opacity="0.7" stroke-width="0.6" fill="none"/>
<path d="M559.8 165C559.3 174.1 572 180.1 581.6 180.2C578.2 171.2 568.1 161.4 559.8 165Z" fill="#101112" opacity="0.35" transform="translate(1.6 2)"/>
<path d="M559.8 165C559.3 174.1 572 180.1 581.6 180.2C578.2 171.2 568.1 161.4 559.8 165Z" fill="#b0c4a0"/>
<path d="M559.8 165C559.3 174.1 572 180.1 581.6 180.2C574.2 175 567 170 559.8 165Z" fill="#8d9d80" opacity="0.55"/>
<path d="M559.8 165C567 170 574.2 175 581.6 180.2" stroke="#dcf5c8" stroke-opacity="0.7" stroke-width="0.6" fill="none"/>
<path d="M534.6 159.1C526 158.4 522.4 169 523.9 177.2C531.7 174.5 539.3 166.3 534.6 159.1Z" fill="#101112" opacity="0.35" transform="translate(1.6 2)"/>
<path d="M534.6 159.1C526 158.4 522.4 169 523.9 177.2C531.7 174.5 539.3 166.3 534.6 159.1Z" fill="#a0b878"/>
<path d="M534.6 159.1C539.3 166.3 531.7 174.5 523.9 177.2C527.5 171.1 531 165.1 534.6 159.1Z" fill="#809360" opacity="0.55"/>
<path d="M534.6 159.1C531 165.1 527.5 171.1 523.9 177.2" stroke="#c8e696" stroke-opacity="0.7" stroke-width="0.6" fill="none"/>
<ellipse cx="676.8" cy="229.9" rx="30.2" ry="3.4" fill="#0c0d0e" opacity="0.7"/>
<path d="M649 178L709.2 178L701 228.4Q679.8 232.9 658.7 228.4Z" fill="url(#pot)"/>
<path d="M649 178L709.2 178L701 228.4Q679.8 232.9 658.7 228.4Z" fill="url(#potHi)" opacity="0.3"/>
<path d="M649 178L709.2 178L701 228.4Q679.8 232.9 658.7 228.4Z" fill="#808080" filter="url(#crinkle)" opacity="0.45"/>
<path d="M651.8 182.5Q679.1 184.1 706.3 182.5" stroke="#85878a" stroke-width="0.9" fill="none" opacity="0.55"/>
<path d="M652.4 186Q679.1 187.6 705.7 186" stroke="#6a6c70" stroke-width="0.9" fill="none" opacity="0.45"/>
<path d="M653.1 189.5Q679.1 191.1 705.1 189.5" stroke="#77797c" stroke-width="0.9" fill="none" opacity="0.4"/>
<path d="M660.7 223.4Q679.8 227.4 699 223.4" stroke="#8a8c8f" stroke-width="1.3" fill="none" opacity="0.45"/>
<ellipse cx="679.1" cy="178.3" rx="29.6" ry="2.1" fill="#505250"/>
<ellipse cx="679.1" cy="179" rx="27.1" ry="1.2" fill="#1c1d1e" opacity="0.55"/>
<path d="M680.9 178.4 L679.5 141.3 L677.2 114.6" fill="none" stroke="#c8c8b8" stroke-width="1.3" stroke-linecap="round" stroke-linejoin="round"/>
<path d="M676.5 114.6Q677.2 100 689.9 103.4" fill="none" stroke="#dcdcdc" stroke-width="1.7" stroke-linecap="round"/>
<path d="M677.2 116.1L687.6 103" stroke="#c8c8b8" stroke-width="1" fill="none" stroke-linecap="round"/>
<path d="M677.2 116.1L674.6 114.6" stroke="#c8c8b8" stroke-width="1" fill="none" stroke-linecap="round"/>
<path d="M678.5 130.7L672.8 129.7" stroke="#c8c8b8" stroke-width="1" fill="none" stroke-linecap="round"/>
<path d="M677.6 121L680.2 119.3" stroke="#c8c8b8" stroke-width="1" fill="none" stroke-linecap="round"/>
<path d="M678.8 135.3L674.3 134.2" stroke="#c8c8b8" stroke-width="1" fill="none" stroke-linecap="round"/>
<path d="M680.4 167L692.1 165" stroke="#c8c8b8" stroke-width="1" fill="none" stroke-linecap="round"/>
<path d="M680.5 168.1L683.2 166.5" stroke="#c8c8b8" stroke-width="1" fill="none" stroke-linecap="round"/>
<path d="M680.1 160L663.9 159.1" stroke="#c8c8b8" stroke-width="1" fill="none" stroke-linecap="round"/>
<path d="M687.6 103C683.5 109.1 689.6 120.1 696.1 125.2C697.5 117.1 694.8 104.8 687.6 103Z" fill="#101112" opacity="0.35" transform="translate(1.6 2)"/>
<path d="M687.6 103C683.5 109.1 689.6 120.1 696.1 125.2C697.5 117.1 694.8 104.8 687.6 103Z" fill="#a0b868"/>
<path d="M687.6 103C683.5 109.1 689.6 120.1 696.1 125.2C693.2 117.7 690.4 110.3 687.6 103Z" fill="#809353" opacity="0.55"/>
<path d="M687.6 103C690.4 110.3 693.2 117.7 696.1 125.2" stroke="#c8e682" stroke-opacity="0.7" stroke-width="0.6" fill="none"/>
<path d="M674.6 114.6C665.3 112 661.8 121.5 663.6 129.7C672 128.9 679.9 122.6 674.6 114.6Z" fill="#101112" opacity="0.35" transform="translate(1.6 2)"/>
<path d="M674.6 114.6C665.3 112 661.8 121.5 663.6 129.7C672 128.9 679.9 122.6 674.6 114.6Z" fill="#98c068"/>
<path d="M674.6 114.6C679.9 122.6 672 128.9 663.6 129.7C667.3 124.6 670.9 119.6 674.6 114.6Z" fill="#7a9a53" opacity="0.55"/>
<path d="M674.6 114.6C670.9 119.6 667.3 124.6 663.6 129.7" stroke="#bef082" stroke-opacity="0.7" stroke-width="0.6" fill="none"/>
<path d="M672.8 129.7C666.9 126.8 656.5 133.1 651.7 139.2C659.5 139.6 671.1 136.1 672.8 129.7Z" fill="#101112" opacity="0.35" transform="translate(1.6 2)"/>
<path d="M672.8 129.7C666.9 126.8 656.5 133.1 651.7 139.2C659.5 139.6 671.1 136.1 672.8 129.7Z" fill="#c0d4a0"/>
<path d="M672.8 129.7C671.1 136.1 659.5 139.6 651.7 139.2C658.9 136 665.8 132.8 672.8 129.7Z" fill="#9aaa80" opacity="0.55"/>
<path d="M672.8 129.7C665.8 132.8 658.9 136 651.7 139.2" stroke="#f0ffc8" stroke-opacity="0.7" stroke-width="0.6" fill="none"/>
<path d="M680.2 119.3C666.6 132.7 677.7 160.4 692.4 174.6C699.8 155.5 698.2 125.8 680.2 119.3Z" fill="#101112" opacity="0.35" transform="translate(1.6 2)"/>
<path d="M680.2 119.3C666.6 132.7 677.7 160.4 692.4 174.6C699.8 155.5 698.2 125.8 680.2 119.3Z" fill="#94c068"/>
<path d="M680.2 119.3C666.6 132.7 677.7 160.4 692.4 174.6C688.2 155.8 684.2 137.5 680.2 119.3Z" fill="#769a53" opacity="0.55"/>
<path d="M680.2 119.3C684.2 137.5 688.2 155.8 692.4 174.6" stroke="#b9f082" stroke-opacity="0.7" stroke-width="0.6" fill="none"/>
<path d="M674.3 134.2C662.1 138.7 657 162.2 659.1 177.5C670.3 166.8 681 145.3 674.3 134.2Z" fill="#101112" opacity="0.35" transform="translate(1.6 2)"/>
<path d="M674.3 134.2C662.1 138.7 657 162.2 659.1 177.5C670.3 166.8 681 145.3 674.3 134.2Z" fill="#a8c880"/>
<path d="M674.3 134.2C681 145.3 670.3 166.8 659.1 177.5C664.3 162.8 669.3 148.5 674.3 134.2Z" fill="#86a066" opacity="0.55"/>
<path d="M674.3 134.2C669.3 148.5 664.3 162.8 659.1 177.5" stroke="#d2faa0" stroke-opacity="0.7" stroke-width="0.6" fill="none"/>
<path d="M692.1 165C692.3 171.9 701.3 174.3 708 172.8C705.1 166.6 697.6 161 692.1 165Z" fill="#101112" opacity="0.35" transform="translate(1.6 2)"/>
<path d="M692.1 165C692.3 171.9 701.3 174.3 708 172.8C705.1 166.6 697.6 161 692.1 165Z" fill="#b4cca0"/>
<path d="M692.1 165C692.3 171.9 701.3 174.3 708 172.8C702.6 170.1 697.3 167.6 692.1 165Z" fill="#90a380" opacity="0.55"/>
<path d="M692.1 165C697.3 167.6 702.6 170.1 708 172.8" stroke="#e1ffc8" stroke-opacity="0.7" stroke-width="0.6" fill="none"/>
<path d="M683.2 166.5C678.4 169.2 677.2 179.6 678.7 186.1C682.9 180.9 686.4 171 683.2 166.5Z" fill="#101112" opacity="0.35" transform="translate(1.6 2)"/>
<path d="M683.2 166.5C678.4 169.2 677.2 179.6 678.7 186.1C682.9 180.9 686.4 171 683.2 166.5Z" fill="#c0d0a8"/>
<path d="M683.2 166.5C686.4 171 682.9 180.9 678.7 186.1C680.2 179.5 681.7 173 683.2 166.5Z" fill="#9aa686" opacity="0.55"/>
<path d="M683.2 166.5C681.7 173 680.2 179.5 678.7 186.1" stroke="#f0ffd2" stroke-opacity="0.7" stroke-width="0.6" fill="none"/>
<path d="M663.9 159.1C657.7 160.8 655.1 171.5 656.1 178.7C661.8 174.1 667.2 164.5 663.9 159.1Z" fill="#101112" opacity="0.35" transform="translate(1.6 2)"/>
<path d="M663.9 159.1C657.7 160.8 655.1 171.5 656.1 178.7C661.8 174.1 667.2 164.5 663.9 159.1Z" fill="#b0c890"/>
<path d="M663.9 159.1C667.2 164.5 661.8 174.1 656.1 178.7C658.8 172 661.3 165.6 663.9 159.1Z" fill="#8da073" opacity="0.55"/>
<path d="M663.9 159.1C661.3 165.6 658.8 172 656.1 178.7" stroke="#dcfab4" stroke-opacity="0.7" stroke-width="0.6" fill="none"/>
</g>
<rect x="678.2" y="232" width="37.8" height="5.5" fill="#fff"/>
</g>
<g clip-path="url(#cp3)">
<rect x="727" y="27" width="347.7" height="216" fill="url(#bg3)"/>
<rect x="727" y="216" width="347.7" height="27" fill="url(#fl3)" filter="url(#soft2)"/>
<rect x="727" y="27" width="347.7" height="216" fill="url(#vg)"/>
<g filter="url(#soft)">
<ellipse cx="780.2" cy="226.9" rx="27.7" ry="3.4" fill="#0c0d0e" opacity="0.7"/>
<path d="M757.5 171.1L808.9 171.1L801.9 225.4Q783.2 229.9 764.5 225.4Z" fill="url(#pot)"/>
<path d="M757.5 171.1L808.9 171.1L801.9 225.4Q783.2 229.9 764.5 225.4Z" fill="#000" opacity="0.1"/>
<path d="M757.5 171.1L808.9 171.1L801.9 225.4Q783.2 229.9 764.5 225.4Z" fill="#808080" filter="url(#crinkle)" opacity="0.45"/>
<path d="M760.3 175.6Q783.2 177.2 806.1 175.6" stroke="#85878a" stroke-width="0.9" fill="none" opacity="0.55"/>
<path d="M760.9 179.1Q783.2 180.7 805.5 179.1" stroke="#6a6c70" stroke-width="0.9" fill="none" opacity="0.45"/>
<path d="M761.6 182.6Q783.2 184.2 804.8 182.6" stroke="#77797c" stroke-width="0.9" fill="none" opacity="0.4"/>
<path d="M766.5 220.4Q783.2 224.4 799.9 220.4" stroke="#8a8c8f" stroke-width="1.3" fill="none" opacity="0.45"/>
<ellipse cx="783.2" cy="171.4" rx="25.2" ry="2.1" fill="#b0b0a0"/>
<ellipse cx="783.2" cy="172.1" rx="22.7" ry="1.2" fill="#1c1d1e" opacity="0.55"/>
<path d="M800.2 169.8 L805.4 144.6 L808.9 113.2 L808.9 92.3" fill="none" stroke="#a8c088" stroke-width="1.8" stroke-linecap="round" stroke-linejoin="round"/>
<path d="M808.9 93.8L795.3 90.9" stroke="#a8c088" stroke-width="1" fill="none" stroke-linecap="round"/>
<path d="M808.9 93.8L801.9 82.2" stroke="#a8c088" stroke-width="1" fill="none" stroke-linecap="round"/>
<path d="M808.9 93.8L814.1 75.2" stroke="#a8c088" stroke-width="1" fill="none" stroke-linecap="round"/>
<path d="M808.9 108.1L821.1 106.6" stroke="#a8c088" stroke-width="1" fill="none" stroke-linecap="round"/>
<path d="M807.3 129L803.7 127.1" stroke="#a8c088" stroke-width="1" fill="none" stroke-linecap="round"/>
<path d="M805.9 142L814.1 141.4" stroke="#a8c088" stroke-width="1" fill="none" stroke-linecap="round"/>
<path d="M804.5 150.4L801.9 148.4" stroke="#a8c088" stroke-width="1" fill="none" stroke-linecap="round"/>
<path d="M803.1 157.4L808.9 157.1" stroke="#a8c088" stroke-width="1" fill="none" stroke-linecap="round"/>
<path d="M795.3 90.9C791.6 70.6 759.3 62.3 737.1 65.8C749.8 84.4 778 102.2 795.3 90.9Z" fill="#101112" opacity="0.35" transform="translate(1.6 2)"/>
<path d="M795.3 90.9C791.6 70.6 759.3 62.3 737.1 65.8C749.8 84.4 778 102.2 795.3 90.9Z" fill="#a0c078"/>
<path d="M795.3 90.9C778 102.2 749.8 84.4 737.1 65.8C756.9 74.3 776.1 82.6 795.3 90.9Z" fill="#809a60" opacity="0.55"/>
<path d="M795.3 90.9C776.1 82.6 756.9 74.3 737.1 65.8" stroke="#c8f096" stroke-opacity="0.7" stroke-width="0.6" fill="none"/>
<path d="M801.9 82.2C801.8 69.2 783.2 61.7 769.4 62.3C775.1 74.9 790.3 88 801.9 82.2Z" fill="#101112" opacity="0.35" transform="translate(1.6 2)"/>
<path d="M801.9 82.2C801.8 69.2 783.2 61.7 769.4 62.3C775.1 74.9 790.3 88 801.9 82.2Z" fill="#a8c880"/>
<path d="M801.9 82.2C790.3 88 775.1 74.9 769.4 62.3C780.4 69.1 791.2 75.6 801.9 82.2Z" fill="#86a066" opacity="0.55"/>
<path d="M801.9 82.2C791.2 75.6 780.4 69.1 769.4 62.3" stroke="#d2faa0" stroke-opacity="0.7" stroke-width="0.6" fill="none"/>
<path d="M808.9 94.4C827.7 104.3 845.3 83.9 849.4 64.1C829.2 62.4 804.7 73.6 808.9 94.4Z" fill="#101112" opacity="0.35" transform="translate(1.6 2)"/>
<path d="M808.9 94.4C827.7 104.3 845.3 83.9 849.4 64.1C829.2 62.4 804.7 73.6 808.9 94.4Z" fill="#a0c878"/>
<path d="M808.9 94.4C827.7 104.3 845.3 83.9 849.4 64.1C835.6 74.4 822.3 84.4 808.9 94.4Z" fill="#80a060" opacity="0.55"/>
<path d="M808.9 94.4C822.3 84.4 835.6 74.4 849.4 64.1" stroke="#c8fa96" stroke-opacity="0.7" stroke-width="0.6" fill="none"/>
<path d="M814.1 75.2C824.6 75.6 827.7 63.1 825 53.6C815.8 57.1 807.6 67.1 814.1 75.2Z" fill="#101112" opacity="0.35" transform="translate(1.6 2)"/>
<path d="M814.1 75.2C824.6 75.6 827.7 63.1 825 53.6C815.8 57.1 807.6 67.1 814.1 75.2Z" fill="#b4d490"/>
<path d="M814.1 75.2C824.6 75.6 827.7 63.1 825 53.6C821.3 60.9 817.7 68.1 814.1 75.2Z" fill="#90aa73" opacity="0.55"/>
<path d="M814.1 75.2C817.7 68.1 821.3 60.9 825 53.6" stroke="#e1ffb4" stroke-opacity="0.7" stroke-width="0.6" fill="none"/>
<path d="M821.1 106.6C838.3 117.1 862.9 98.7 873.1 80.1C852 77.3 822.7 86.5 821.1 106.6Z" fill="#101112" opacity="0.35" transform="translate(1.6 2)"/>
<path d="M821.1 106.6C838.3 117.1 862.9 98.7 873.1 80.1C852 77.3 822.7 86.5 821.1 106.6Z" fill="#b0d090"/>
<path d="M821.1 106.6C838.3 117.1 862.9 98.7 873.1 80.1C855.4 89.1 838.3 97.8 821.1 106.6Z" fill="#8da673" opacity="0.55"/>
<path d="M821.1 106.6C838.3 97.8 855.4 89.1 873.1 80.1" stroke="#dcffb4" stroke-opacity="0.7" stroke-width="0.6" fill="none"/>
<path d="M809.8 114.1C815.7 93.4 798.3 89.9 782.4 97.2C783 114.6 794 128.6 809.8 114.1Z" fill="#101112" opacity="0.35" transform="translate(1.6 2)"/>
<path d="M809.8 114.1C815.7 93.4 798.3 89.9 782.4 97.2C783 114.6 794 128.6 809.8 114.1Z" fill="#b8d498"/>
<path d="M809.8 114.1C794 128.6 783 114.6 782.4 97.2C791.7 102.9 800.8 108.5 809.8 114.1Z" fill="#93aa7a" opacity="0.55"/>
<path d="M809.8 114.1C800.8 108.5 791.7 102.9 782.4 97.2" stroke="#e6ffbe" stroke-opacity="0.7" stroke-width="0.6" fill="none"/>
<path d="M803.7 127.1C806.7 117.4 796.6 113.1 787.7 114.6C788.4 123.6 794.9 132.4 803.7 127.1Z" fill="#101112" opacity="0.35" transform="translate(1.6 2)"/>
<path d="M803.7 127.1C806.7 117.4 796.6 113.1 787.7 114.6C788.4 123.6 794.9 132.4 803.7 127.1Z" fill="#a0c480"/>
<path d="M803.7 127.1C794.9 132.4 788.4 123.6 787.7 114.6C793.1 118.9 798.4 123 803.7 127.1Z" fill="#809d66" opacity="0.55"/>
<path d="M803.7 127.1C798.4 123 793.1 118.9 787.7 114.6" stroke="#c8f5a0" stroke-opacity="0.7" stroke-width="0.6" fill="none"/>
<path d="M814.1 141.4C825.8 144.5 831.5 131.6 830.2 120.7C819.3 122.2 808.3 131 814.1 141.4Z" fill="#101112" opacity="0.35" transform="translate(1.6 2)"/>
<path d="M814.1 141.4C825.8 144.5 831.5 131.6 830.2 120.7C819.3 122.2 808.3 131 814.1 141.4Z" fill="#a8c888"/>
<path d="M814.1 141.4C825.8 144.5 831.5 131.6 830.2 120.7C824.7 127.7 819.4 134.6 814.1 141.4Z" fill="#86a06d" opacity="0.55"/>
<path d="M814.1 141.4C819.4 134.6 824.7 127.7 830.2 120.7" stroke="#d2faaa" stroke-opacity="0.7" stroke-width="0.6" fill="none"/>
<path d="M801.9 148.4C808.8 138.9 799.5 131.3 789.4 130.3C786.8 140.1 790.6 151.4 801.9 148.4Z" fill="#101112" opacity="0.35" transform="translate(1.6 2)"/>
<path d="M801.9 148.4C808.8 138.9 799.5 131.3 789.4 130.3C786.8 140.1 790.6 151.4 801.9 148.4Z" fill="#a4c484"/>
<path d="M801.9 148.4C790.6 151.4 786.8 140.1 789.4 130.3C793.7 136.4 797.8 142.4 801.9 148.4Z" fill="#839d6a" opacity="0.55"/>
<path d="M801.9 148.4C797.8 142.4 793.7 136.4 789.4 130.3" stroke="#cdf5a5" stroke-opacity="0.7" stroke-width="0.6" fill="none"/>
<path d="M808.9 157.1C816.5 162.2 820.9 155.3 820.6 147.7C813.3 145.8 805.5 148.6 808.9 157.1Z" fill="#101112" opacity="0.35" transform="translate(1.6 2)"/>
<path d="M808.9 157.1C816.5 162.2 820.9 155.3 820.6 147.7C813.3 145.8 805.5 148.6 808.9 157.1Z" fill="#a4c484"/>
<path d="M808.9 157.1C816.5 162.2 820.9 155.3 820.6 147.7C816.6 150.9 812.8 154 808.9 157.1Z" fill="#839d6a" opacity="0.55"/>
<path d="M808.9 157.1C812.8 154 816.6 150.9 820.6 147.7" stroke="#cdf5a5" stroke-opacity="0.7" stroke-width="0.6" fill="none"/>
<ellipse cx="910" cy="221.8" rx="29.4" ry="3.4" fill="#0c0d0e" opacity="0.7"/>
<path d="M887.6 171.8L936.4 171.8L933.4 220.3Q913 224.8 892.6 220.3Z" fill="url(#pot)"/>
<path d="M887.6 171.8L936.4 171.8L933.4 220.3Q913 224.8 892.6 220.3Z" fill="#000" opacity="0.1"/>
<path d="M887.6 171.8L936.4 171.8L933.4 220.3Q913 224.8 892.6 220.3Z" fill="#808080" filter="url(#crinkle)" opacity="0.45"/>
<path d="M890.4 176.3Q912 177.9 933.6 176.3" stroke="#85878a" stroke-width="0.9" fill="none" opacity="0.55"/>
<path d="M891 179.8Q912 181.4 933 179.8" stroke="#6a6c70" stroke-width="0.9" fill="none" opacity="0.45"/>
<path d="M891.6 183.3Q912 184.9 932.4 183.3" stroke="#77797c" stroke-width="0.9" fill="none" opacity="0.4"/>
<path d="M894.6 215.3Q913 219.3 931.4 215.3" stroke="#8a8c8f" stroke-width="1.3" fill="none" opacity="0.45"/>
<ellipse cx="912" cy="172.1" rx="23.9" ry="2.1" fill="#4c4e4a"/>
<ellipse cx="912" cy="172.8" rx="21.4" ry="1.2" fill="#1c1d1e" opacity="0.55"/>
<path d="M907.9 170.4 L904.9 129.6 L902.8 93" fill="none" stroke="#b0b096" stroke-width="1.3" stroke-linecap="round" stroke-linejoin="round"/>
<path d="M900.8 85.2Q895.7 93 893.7 103.6" fill="none" stroke="#d8dcd0" stroke-width="2.4" stroke-linecap="round"/>
<path d="M903.3 102.5L900.8 101.1" stroke="#b0b096" stroke-width="1" fill="none" stroke-linecap="round"/>
<path d="M903.3 102.8L905.9 101.1" stroke="#b0b096" stroke-width="1" fill="none" stroke-linecap="round"/>
<path d="M905.7 142.8L897.7 141.9" stroke="#b0b096" stroke-width="1" fill="none" stroke-linecap="round"/>
<path d="M904.8 129.3L907.9 127.6" stroke="#b0b096" stroke-width="1" fill="none" stroke-linecap="round"/>
<path d="M906.5 152.5L920.1 150" stroke="#b0b096" stroke-width="1" fill="none" stroke-linecap="round"/>
<path d="M906.6 154.7L894.7 154.1" stroke="#b0b096" stroke-width="1" fill="none" stroke-linecap="round"/>
<path d="M900.8 101.1C891.6 103.5 890.6 117 894.3 126C901.9 120 907.7 107.7 900.8 101.1Z" fill="#101112" opacity="0.35" transform="translate(1.6 2)"/>
<path d="M900.8 101.1C891.6 103.5 890.6 117 894.3 126C901.9 120 907.7 107.7 900.8 101.1Z" fill="#a8a868"/>
<path d="M900.8 101.1C907.7 107.7 901.9 120 894.3 126C896.5 117.5 898.6 109.3 900.8 101.1Z" fill="#868653" opacity="0.55"/>
<path d="M900.8 101.1C898.6 109.3 896.5 117.5 894.3 126" stroke="#d2d282" stroke-opacity="0.7" stroke-width="0.6" fill="none"/>
<path d="M905.9 101.1C901.1 111.9 912.1 133.4 922.6 144.3C923 129.2 916.7 105.9 905.9 101.1Z" fill="#101112" opacity="0.35" transform="translate(1.6 2)"/>
<path d="M905.9 101.1C901.1 111.9 912.1 133.4 922.6 144.3C923 129.2 916.7 105.9 905.9 101.1Z" fill="#a0b470"/>
<path d="M905.9 101.1C901.1 111.9 912.1 133.4 922.6 144.3C916.9 129.6 911.4 115.4 905.9 101.1Z" fill="#80905a" opacity="0.55"/>
<path d="M905.9 101.1C911.4 115.4 916.9 129.6 922.6 144.3" stroke="#c8e18c" stroke-opacity="0.7" stroke-width="0.6" fill="none"/>
<path d="M897.7 141.9C882.8 145.9 874.4 171.4 879 189.7C887.1 176.3 900.8 153 897.7 141.9Z" fill="#101112" opacity="0.35" transform="translate(1.6 2)"/>
<path d="M897.7 141.9C882.8 145.9 874.4 171.4 879 189.7C887.1 176.3 900.8 153 897.7 141.9Z" fill="#a0c088"/>
<path d="M897.7 141.9C905.9 155 894.8 179.3 879 189.7C889.6 175.1 895.7 159.3 897.7 141.9Z" fill="#809a6d" opacity="0.55"/>
<path d="M897.7 141.9C887.4 156 881.2 171.8 879 189.7" stroke="#c8f0aa" stroke-opacity="0.7" stroke-width="0.6" fill="none"/>
<path d="M907.9 127.6C894.8 139.1 904.8 160.8 918.5 171.4C925.9 155.7 924.9 131.8 907.9 127.6Z" fill="#101112" opacity="0.35" transform="translate(1.6 2)"/>
<path d="M907.9 127.6C894.8 139.1 904.8 160.8 918.5 171.4C925.9 155.7 924.9 131.8 907.9 127.6Z" fill="#a4b878"/>
<path d="M907.9 127.6C894.8 139.1 904.8 160.8 918.5 171.4C914.9 156.5 911.4 142 907.9 127.6Z" fill="#839360" opacity="0.55"/>
<path d="M907.9 127.6C911.4 142 914.9 156.5 918.5 171.4" stroke="#cde696" stroke-opacity="0.7" stroke-width="0.6" fill="none"/>
<path d="M920.1 150C915.5 156.7 922.4 166.6 929.7 170.8C931.3 162.5 928.2 150.8 920.1 150Z" fill="#101112" opacity="0.35" transform="translate(1.6 2)"/>
<path d="M920.1 150C915.5 156.7 922.4 166.6 929.7 170.8C931.3 162.5 928.2 150.8 920.1 150Z" fill="#a8c090"/>
<path d="M920.1 150C915.5 156.7 922.4 166.6 929.7 170.8C926.5 163.7 923.3 156.9 920.1 150Z" fill="#869a73" opacity="0.55"/>
<path d="M920.1 150C923.3 156.9 926.5 163.7 929.7 170.8" stroke="#d2f0b4" stroke-opacity="0.7" stroke-width="0.6" fill="none"/>
<path d="M894.7 154.1C888.9 158.7 893 167.3 898.8 171.4C902.1 165.1 902 155.7 894.7 154.1Z" fill="#101112" opacity="0.35" transform="translate(1.6 2)"/>
<path d="M894.7 154.1C888.9 158.7 893 167.3 898.8 171.4C902.1 165.1 902 155.7 894.7 154.1Z" fill="#a0bc84"/>
<path d="M894.7 154.1C888.9 158.7 893 167.3 898.8 171.4C897.4 165.5 896 159.8 894.7 154.1Z" fill="#80966a" opacity="0.55"/>
<path d="M894.7 154.1C896 159.8 897.4 165.5 898.8 171.4" stroke="#c8eba5" stroke-opacity="0.7" stroke-width="0.6" fill="none"/>
<ellipse cx="1032.2" cy="217.7" rx="27.3" ry="3.4" fill="#0c0d0e" opacity="0.7"/>
<path d="M1008.8 168.7L1054.6 168.7L1053.6 216.2Q1035.2 220.7 1016.9 216.2Z" fill="url(#pot)"/>
<path d="M1008.8 168.7L1054.6 168.7L1053.6 216.2Q1035.2 220.7 1016.9 216.2Z" fill="#000" opacity="0.1"/>
<path d="M1008.8 168.7L1054.6 168.7L1053.6 216.2Q1035.2 220.7 1016.9 216.2Z" fill="#808080" filter="url(#crinkle)" opacity="0.45"/>
<path d="M1011.6 173.2Q1031.7 174.8 1051.8 173.2" stroke="#85878a" stroke-width="0.9" fill="none" opacity="0.55"/>
<path d="M1012.2 176.7Q1031.7 178.3 1051.2 176.7" stroke="#6a6c70" stroke-width="0.9" fill="none" opacity="0.45"/>
<path d="M1012.8 180.2Q1031.7 181.8 1050.5 180.2" stroke="#77797c" stroke-width="0.9" fill="none" opacity="0.4"/>
<path d="M1018.9 211.2Q1035.2 215.2 1051.6 211.2" stroke="#8a8c8f" stroke-width="1.3" fill="none" opacity="0.45"/>
<ellipse cx="1031.7" cy="169" rx="22.4" ry="2.1" fill="#7a7868"/>
<ellipse cx="1031.7" cy="169.7" rx="19.9" ry="1.2" fill="#1c1d1e" opacity="0.55"/>
<path d="M1029.1 168.3 L1024 131.7 L1020 99.1" fill="none" stroke="#b4b49c" stroke-width="1.3" stroke-linecap="round" stroke-linejoin="round"/>
<path d="M1013.9 99.5C1011.8 88.9 1020 89.9 1026.1 103.6" fill="none" stroke="#d8dcd4" stroke-width="2.0" stroke-linecap="round"/>
<path d="M1020.4 104.2L1013.9 103.6" stroke="#b4b49c" stroke-width="1" fill="none" stroke-linecap="round"/>
<path d="M1021.3 111.4L1026.1 109.3" stroke="#b4b49c" stroke-width="1" fill="none" stroke-linecap="round"/>
<path d="M1022.9 124.4L1034.2 121.5" stroke="#b4b49c" stroke-width="1" fill="none" stroke-linecap="round"/>
<path d="M1026 147.2L1024 145.9" stroke="#b4b49c" stroke-width="1" fill="none" stroke-linecap="round"/>
<path d="M1026.7 152L1030.1 150" stroke="#b4b49c" stroke-width="1" fill="none" stroke-linecap="round"/>
<path d="M1013.9 103.6C1003.7 104.5 997.1 120.6 997.1 132.1C1007.2 126.5 1018 112.9 1013.9 103.6Z" fill="#101112" opacity="0.35" transform="translate(1.6 2)"/>
<path d="M1013.9 103.6C1003.7 104.5 997.1 120.6 997.1 132.1C1007.2 126.5 1018 112.9 1013.9 103.6Z" fill="#a8a868"/>
<path d="M1013.9 103.6C1018 112.9 1007.2 126.5 997.1 132.1C1002.8 122.4 1008.3 113 1013.9 103.6Z" fill="#868653" opacity="0.55"/>
<path d="M1013.9 103.6C1008.3 113 1002.8 122.4 997.1 132.1" stroke="#d2d282" stroke-opacity="0.7" stroke-width="0.6" fill="none"/>
<path d="M1020 107.2C1008.5 117.6 1015.7 141.9 1026.5 155.1C1033.4 139.5 1033.8 114.1 1020 107.2Z" fill="#101112" opacity="0.35" transform="translate(1.6 2)"/>
<path d="M1020 107.2C1008.5 117.6 1015.7 141.9 1026.5 155.1C1033.4 139.5 1033.8 114.1 1020 107.2Z" fill="#b4c8a0"/>
<path d="M1020 107.2C1008.5 117.6 1015.7 141.9 1026.5 155.1C1024.3 138.8 1022.1 123 1020 107.2Z" fill="#90a080" opacity="0.55"/>
<path d="M1020 107.2C1022.1 123 1024.3 138.8 1026.5 155.1" stroke="#e1fac8" stroke-opacity="0.7" stroke-width="0.6" fill="none"/>
<path d="M1026.1 109.3C1026.1 117.8 1039.8 128.4 1049.9 132.1C1045.8 122.1 1034.6 108.9 1026.1 109.3Z" fill="#101112" opacity="0.35" transform="translate(1.6 2)"/>
<path d="M1026.1 109.3C1026.1 117.8 1039.8 128.4 1049.9 132.1C1045.8 122.1 1034.6 108.9 1026.1 109.3Z" fill="#a8bc88"/>
<path d="M1026.1 109.3C1026.1 117.8 1039.8 128.4 1049.9 132.1C1041.8 124.3 1033.9 116.8 1026.1 109.3Z" fill="#86966d" opacity="0.55"/>
<path d="M1026.1 109.3C1033.9 116.8 1041.8 124.3 1049.9 132.1" stroke="#d2ebaa" stroke-opacity="0.7" stroke-width="0.6" fill="none"/>
<path d="M1034.2 121.5C1034.1 134.3 1052.5 159.5 1066.2 172C1060.7 154.2 1045.9 126.8 1034.2 121.5Z" fill="#101112" opacity="0.35" transform="translate(1.6 2)"/>
<path d="M1034.2 121.5C1034.1 134.3 1052.5 159.5 1066.2 172C1060.7 154.2 1045.9 126.8 1034.2 121.5Z" fill="#a8c090"/>
<path d="M1034.2 121.5C1034.1 134.3 1052.5 159.5 1066.2 172C1055.3 154.8 1044.8 138.2 1034.2 121.5Z" fill="#869a73" opacity="0.55"/>
<path d="M1034.2 121.5C1044.8 138.2 1055.3 154.8 1066.2 172" stroke="#d2f0b4" stroke-opacity="0.7" stroke-width="0.6" fill="none"/>
<path d="M1024 145.9C1012.2 144.4 1008.5 157.5 1011.4 167.9C1021.9 165.2 1031.3 155.4 1024 145.9Z" fill="#101112" opacity="0.35" transform="translate(1.6 2)"/>
<path d="M1024 145.9C1012.2 144.4 1008.5 157.5 1011.4 167.9C1021.9 165.2 1031.3 155.4 1024 145.9Z" fill="#a4c088"/>
<path d="M1024 145.9C1031.3 155.4 1021.9 165.2 1011.4 167.9C1015.7 160.4 1019.9 153.2 1024 145.9Z" fill="#839a6d" opacity="0.55"/>
<path d="M1024 145.9C1019.9 153.2 1015.7 160.4 1011.4 167.9" stroke="#cdf0aa" stroke-opacity="0.7" stroke-width="0.6" fill="none"/>
<path d="M1030.1 150C1027 161.6 1039.9 167.7 1050.9 166.7C1049.5 155.7 1040.8 144.4 1030.1 150Z" fill="#101112" opacity="0.35" transform="translate(1.6 2)"/>
<path d="M1030.1 150C1027 161.6 1039.9 167.7 1050.9 166.7C1049.5 155.7 1040.8 144.4 1030.1 150Z" fill="#b0c8a0"/>
<path d="M1030.1 150C1027 161.6 1039.9 167.7 1050.9 166.7C1043.9 161 1037 155.5 1030.1 150Z" fill="#8da080" opacity="0.55"/>
<path d="M1030.1 150C1037 155.5 1043.9 161 1050.9 166.7" stroke="#dcfac8" stroke-opacity="0.7" stroke-width="0.6" fill="none"/>
</g>
<rect x="1031.2" y="228.5" width="39.8" height="5.8" fill="#fff"/>
</g>
<g clip-path="url(#cp4)">
<rect x="17" y="609.5" width="347" height="216" fill="url(#bg4)"/>
<rect x="17" y="803" width="347" height="22.5" fill="url(#fl4)" filter="url(#soft2)"/>
<rect x="17" y="609.5" width="347" height="216" fill="url(#vg)"/>
<g filter="url(#soft)">
<ellipse cx="68.5" cy="811.6" rx="25.8" ry="3.4" fill="#0c0d0e" opacity="0.7"/>
<path d="M50.6 760.6L91.4 760.6L88.3 810.1Q71.5 814.6 54.7 810.1Z" fill="url(#pot)"/>
<path d="M50.6 760.6L91.4 760.6L88.3 810.1Q71.5 814.6 54.7 810.1Z" fill="url(#potHi)" opacity="0.8"/>
<path d="M50.6 760.6L91.4 760.6L88.3 810.1Q71.5 814.6 54.7 810.1Z" fill="#808080" filter="url(#crinkle)" opacity="0.45"/>
<path d="M53.4 765.1Q71 766.7 88.5 765.1" stroke="#85878a" stroke-width="0.9" fill="none" opacity="0.55"/>
<path d="M54.1 768.6Q71 770.2 87.9 768.6" stroke="#6a6c70" stroke-width="0.9" fill="none" opacity="0.45"/>
<path d="M54.7 772.1Q71 773.7 87.3 772.1" stroke="#77797c" stroke-width="0.9" fill="none" opacity="0.4"/>
<path d="M56.7 805.1Q71.5 809.1 86.3 805.1" stroke="#8a8c8f" stroke-width="1.3" fill="none" opacity="0.45"/>
<ellipse cx="71" cy="760.9" rx="19.9" ry="2.1" fill="#4a4c4c"/>
<ellipse cx="71" cy="761.6" rx="17.4" ry="1.2" fill="#1c1d1e" opacity="0.55"/>
<path d="M70 760.2 L72 717.4 L73 690.9" fill="none" stroke="#b8cc90" stroke-width="1.7" stroke-linecap="round" stroke-linejoin="round"/>
<path d="M72.3 711.3L68.3 709.7" stroke="#b8cc90" stroke-width="1" fill="none" stroke-linecap="round"/>
<path d="M72.7 699.4L76.1 698.1" stroke="#b8cc90" stroke-width="1" fill="none" stroke-linecap="round"/>
<path d="M72.3 709.9L67.9 708.2" stroke="#b8cc90" stroke-width="1" fill="none" stroke-linecap="round"/>
<path d="M70.7 746L66.3 744.3" stroke="#b8cc90" stroke-width="1" fill="none" stroke-linecap="round"/>
<path d="M70.6 747.7L73 746.3" stroke="#b8cc90" stroke-width="1" fill="none" stroke-linecap="round"/>
<path d="M68.3 709.7C63.5 695.2 40 693.5 24.7 699.1C35.7 711 57.4 720.3 68.3 709.7Z" fill="#101112" opacity="0.35" transform="translate(1.6 2)"/>
<path d="M68.3 709.7C63.5 695.2 40 693.5 24.7 699.1C35.7 711 57.4 720.3 68.3 709.7Z" fill="#7cc850"/>
<path d="M68.3 709.7C57.4 720.3 35.7 711 24.7 699.1C39.6 702.7 53.9 706.2 68.3 709.7Z" fill="#63a040" opacity="0.55"/>
<path d="M68.3 709.7C53.9 706.2 39.6 702.7 24.7 699.1" stroke="#9bfa64" stroke-opacity="0.7" stroke-width="0.6" fill="none"/>
<path d="M72.4 696C80.7 676.6 62.5 668.7 45.1 672.2C44.1 689.9 54.3 706.9 72.4 696Z" fill="#101112" opacity="0.35" transform="translate(1.6 2)"/>
<path d="M72.4 696C80.7 676.6 62.5 668.7 45.1 672.2C44.1 689.9 54.3 706.9 72.4 696Z" fill="#8cd058"/>
<path d="M72.4 696C54.3 706.9 44.1 689.9 45.1 672.2C54.4 680.3 63.4 688.2 72.4 696Z" fill="#70a646" opacity="0.55"/>
<path d="M72.4 696C63.4 688.2 54.4 680.3 45.1 672.2" stroke="#afff6e" stroke-opacity="0.7" stroke-width="0.6" fill="none"/>
<path d="M76.1 698.1C94.2 704.3 112.4 682.3 117.2 663C97.4 664.7 72.8 679.2 76.1 698.1Z" fill="#101112" opacity="0.35" transform="translate(1.6 2)"/>
<path d="M76.1 698.1C94.2 704.3 112.4 682.3 117.2 663C97.4 664.7 72.8 679.2 76.1 698.1Z" fill="#84cc54"/>
<path d="M76.1 698.1C94.2 704.3 112.4 682.3 117.2 663C103.2 674.9 89.7 686.5 76.1 698.1Z" fill="#6aa343" opacity="0.55"/>
<path d="M76.1 698.1C89.7 686.5 103.2 674.9 117.2 663" stroke="#a5ff69" stroke-opacity="0.7" stroke-width="0.6" fill="none"/>
<path d="M67.9 708.2C84.7 711.5 85.7 698 78.5 686.4C65 687.9 55 697.1 67.9 708.2Z" fill="#101112" opacity="0.35" transform="translate(1.6 2)"/>
<path d="M67.9 708.2C84.7 711.5 85.7 698 78.5 686.4C65 687.9 55 697.1 67.9 708.2Z" fill="#80c852"/>
<path d="M67.9 708.2C84.7 711.5 85.7 698 78.5 686.4C74.9 693.9 71.4 701 67.9 708.2Z" fill="#66a042" opacity="0.55"/>
<path d="M67.9 708.2C71.4 701 74.9 693.9 78.5 686.4" stroke="#a0fa66" stroke-opacity="0.7" stroke-width="0.6" fill="none"/>
<path d="M66.3 744.3C63.2 730.2 44.4 729.5 31.9 735.7C40 747.1 57 755.3 66.3 744.3Z" fill="#101112" opacity="0.35" transform="translate(1.6 2)"/>
<path d="M66.3 744.3C63.2 730.2 44.4 729.5 31.9 735.7C40 747.1 57 755.3 66.3 744.3Z" fill="#68b844"/>
<path d="M66.3 744.3C57 755.3 40 747.1 31.9 735.7C43.6 738.6 54.9 741.5 66.3 744.3Z" fill="#539336" opacity="0.55"/>
<path d="M66.3 744.3C54.9 741.5 43.6 738.6 31.9 735.7" stroke="#82e655" stroke-opacity="0.7" stroke-width="0.6" fill="none"/>
<path d="M73 746.3C86.2 753.4 94.7 740.3 94.8 727.2C81.8 725.6 67.7 732.4 73 746.3Z" fill="#101112" opacity="0.35" transform="translate(1.6 2)"/>
<path d="M73 746.3C86.2 753.4 94.7 740.3 94.8 727.2C81.8 725.6 67.7 732.4 73 746.3Z" fill="#74c04c"/>
<path d="M73 746.3C86.2 753.4 94.7 740.3 94.8 727.2C87.4 733.7 80.2 740 73 746.3Z" fill="#5d9a3d" opacity="0.55"/>
<path d="M73 746.3C80.2 740 87.4 733.7 94.8 727.2" stroke="#91f05f" stroke-opacity="0.7" stroke-width="0.6" fill="none"/>
<path d="M68.9 754.5C73.9 748.4 68.6 745.1 62.4 745.5C60.1 751.3 61.7 757.3 68.9 754.5Z" fill="#101112" opacity="0.35" transform="translate(1.6 2)"/>
<path d="M68.9 754.5C73.9 748.4 68.6 745.1 62.4 745.5C60.1 751.3 61.7 757.3 68.9 754.5Z" fill="#6cb848"/>
<path d="M68.9 754.5C61.7 757.3 60.1 751.3 62.4 745.5C64.6 748.6 66.8 751.5 68.9 754.5Z" fill="#56933a" opacity="0.55"/>
<path d="M68.9 754.5C66.8 751.5 64.6 748.6 62.4 745.5" stroke="#87e65a" stroke-opacity="0.7" stroke-width="0.6" fill="none"/>
<ellipse cx="189.2" cy="813.7" rx="27.3" ry="3.4" fill="#0c0d0e" opacity="0.7"/>
<path d="M165.7 761.6L215.6 761.6L210.5 812.2Q192.2 816.7 173.9 812.2Z" fill="url(#pot)"/>
<path d="M165.7 761.6L215.6 761.6L210.5 812.2Q192.2 816.7 173.9 812.2Z" fill="url(#potHi)" opacity="0.7"/>
<path d="M165.7 761.6L215.6 761.6L210.5 812.2Q192.2 816.7 173.9 812.2Z" fill="#808080" filter="url(#crinkle)" opacity="0.45"/>
<path d="M168.5 766.1Q190.7 767.7 212.8 766.1" stroke="#85878a" stroke-width="0.9" fill="none" opacity="0.55"/>
<path d="M169.1 769.6Q190.7 771.2 212.2 769.6" stroke="#6a6c70" stroke-width="0.9" fill="none" opacity="0.45"/>
<path d="M169.8 773.1Q190.7 774.7 211.5 773.1" stroke="#77797c" stroke-width="0.9" fill="none" opacity="0.4"/>
<path d="M175.9 807.2Q192.2 811.2 208.5 807.2" stroke="#8a8c8f" stroke-width="1.3" fill="none" opacity="0.45"/>
<ellipse cx="190.7" cy="761.9" rx="24.5" ry="2.1" fill="#5a5c5a"/>
<ellipse cx="190.7" cy="762.6" rx="22" ry="1.2" fill="#1c1d1e" opacity="0.55"/>
<path d="M190.1 762.2 L194.2 727.6 L184 693 L183 684.8" fill="none" stroke="#b8c498" stroke-width="1.7" stroke-linecap="round" stroke-linejoin="round"/>
<path d="M191.5 719.9L182.4 721.1" stroke="#b8c498" stroke-width="1" fill="none" stroke-linecap="round"/>
<path d="M183.3 688.4L180.4 687.3" stroke="#b8c498" stroke-width="1" fill="none" stroke-linecap="round"/>
<path d="M192.7 723.8L194.2 721.9" stroke="#b8c498" stroke-width="1" fill="none" stroke-linecap="round"/>
<path d="M193 739.5L194.6 738.2" stroke="#b8c498" stroke-width="1" fill="none" stroke-linecap="round"/>
<path d="M192 747.6L194.2 746.3" stroke="#b8c498" stroke-width="1" fill="none" stroke-linecap="round"/>
<path d="M182.4 721.1C174.4 703.6 146.3 708.9 129.6 716.4C143.8 736.9 170.8 743.6 182.4 721.1Z" fill="#101112" opacity="0.35" transform="translate(1.6 2)"/>
<path d="M182.4 721.1C174.4 703.6 146.3 708.9 129.6 716.4C143.8 736.9 170.8 743.6 182.4 721.1Z" fill="#78c450"/>
<path d="M182.4 721.1C171.4 736.8 144.7 726.7 129.6 716.4C148.1 712.4 165.5 714.1 182.4 721.1Z" fill="#609d40" opacity="0.55"/>
<path d="M182.4 721.1C164.5 725 147.1 723.5 129.6 716.4" stroke="#96f564" stroke-opacity="0.7" stroke-width="0.6" fill="none"/>
<path d="M180.4 687.3C179.8 672.4 159 665.9 143.9 668.1C150.6 681.9 167.8 695.2 180.4 687.3Z" fill="#101112" opacity="0.35" transform="translate(1.6 2)"/>
<path d="M180.4 687.3C179.8 672.4 159 665.9 143.9 668.1C150.6 681.9 167.8 695.2 180.4 687.3Z" fill="#88cc58"/>
<path d="M180.4 687.3C167.8 695.2 150.6 681.9 143.9 668.1C156.3 674.6 168.3 680.9 180.4 687.3Z" fill="#6da346" opacity="0.55"/>
<path d="M180.4 687.3C168.3 680.9 156.3 674.6 143.9 668.1" stroke="#aaff6e" stroke-opacity="0.7" stroke-width="0.6" fill="none"/>
<path d="M183 686.4C199.3 687.2 209.3 664.8 208.9 647.7C193 653.9 176.1 671.7 183 686.4Z" fill="#101112" opacity="0.35" transform="translate(1.6 2)"/>
<path d="M183 686.4C199.3 687.2 209.3 664.8 208.9 647.7C193 653.9 176.1 671.7 183 686.4Z" fill="#80c852"/>
<path d="M183 686.4C199.3 687.2 209.3 664.8 208.9 647.7C200.1 660.9 191.6 673.7 183 686.4Z" fill="#66a042" opacity="0.55"/>
<path d="M183 686.4C191.6 673.7 200.1 660.9 208.9 647.7" stroke="#a0fa66" stroke-opacity="0.7" stroke-width="0.6" fill="none"/>
<path d="M188.1 703.6C200.9 712.6 211.3 700.1 213 686.4C199.7 683.1 184.2 688.4 188.1 703.6Z" fill="#101112" opacity="0.35" transform="translate(1.6 2)"/>
<path d="M188.1 703.6C200.9 712.6 211.3 700.1 213 686.4C199.7 683.1 184.2 688.4 188.1 703.6Z" fill="#6cbc48"/>
<path d="M188.1 703.6C200.9 712.6 211.3 700.1 213 686.4C204.5 692.3 196.3 697.9 188.1 703.6Z" fill="#56963a" opacity="0.55"/>
<path d="M188.1 703.6C196.3 697.9 204.5 692.3 213 686.4" stroke="#87eb5a" stroke-opacity="0.7" stroke-width="0.6" fill="none"/>
<path d="M194.2 721.9C216.2 730.4 228.5 707.5 227.2 686.4C206.1 686.6 184.2 700.6 194.2 721.9Z" fill="#101112" opacity="0.35" transform="translate(1.6 2)"/>
<path d="M194.2 721.9C216.2 730.4 228.5 707.5 227.2 686.4C206.1 686.6 184.2 700.6 194.2 721.9Z" fill="#74c04c"/>
<path d="M194.2 721.9C216.2 730.4 228.5 707.5 227.2 686.4C216 698.5 205.1 710.2 194.2 721.9Z" fill="#5d9a3d" opacity="0.55"/>
<path d="M194.2 721.9C205.1 710.2 216 698.5 227.2 686.4" stroke="#91f05f" stroke-opacity="0.7" stroke-width="0.6" fill="none"/>
<path d="M194.6 738.2C198 721.4 184.2 720.1 172.4 727.2C174 740.8 183.3 751 194.6 738.2Z" fill="#101112" opacity="0.35" transform="translate(1.6 2)"/>
<path d="M194.6 738.2C198 721.4 184.2 720.1 172.4 727.2C174 740.8 183.3 751 194.6 738.2Z" fill="#64b444"/>
<path d="M194.6 738.2C183.3 751 174 740.8 172.4 727.2C180 730.9 187.3 734.6 194.6 738.2Z" fill="#509036" opacity="0.55"/>
<path d="M194.6 738.2C187.3 734.6 180 730.9 172.4 727.2" stroke="#7de155" stroke-opacity="0.7" stroke-width="0.6" fill="none"/>
<path d="M194.2 746.3C198.3 749.8 204.9 746 207.9 741.4C202.7 739.8 195.1 741.1 194.2 746.3Z" fill="#101112" opacity="0.35" transform="translate(1.6 2)"/>
<path d="M194.2 746.3C198.3 749.8 204.9 746 207.9 741.4C202.7 739.8 195.1 741.1 194.2 746.3Z" fill="#6cb848"/>
<path d="M194.2 746.3C198.3 749.8 204.9 746 207.9 741.4C203.2 743.1 198.7 744.7 194.2 746.3Z" fill="#56933a" opacity="0.55"/>
<path d="M194.2 746.3C198.7 744.7 203.2 743.1 207.9 741.4" stroke="#87e65a" stroke-opacity="0.7" stroke-width="0.6" fill="none"/>
<ellipse cx="305.5" cy="815.2" rx="26.2" ry="3.4" fill="#0c0d0e" opacity="0.7"/>
<path d="M284.9 763.3L331.2 763.3L325.6 813.7Q308.5 818.2 291.3 813.7Z" fill="url(#pot)"/>
<path d="M284.9 763.3L331.2 763.3L325.6 813.7Q308.5 818.2 291.3 813.7Z" fill="url(#potHi)" opacity="0.4"/>
<path d="M284.9 763.3L331.2 763.3L325.6 813.7Q308.5 818.2 291.3 813.7Z" fill="#808080" filter="url(#crinkle)" opacity="0.45"/>
<path d="M287.7 767.8Q308.1 769.4 328.4 767.8" stroke="#85878a" stroke-width="0.9" fill="none" opacity="0.55"/>
<path d="M288.4 771.3Q308.1 772.9 327.8 771.3" stroke="#6a6c70" stroke-width="0.9" fill="none" opacity="0.45"/>
<path d="M289 774.8Q308.1 776.4 327.2 774.8" stroke="#77797c" stroke-width="0.9" fill="none" opacity="0.4"/>
<path d="M293.3 808.7Q308.5 812.7 323.6 808.7" stroke="#8a8c8f" stroke-width="1.3" fill="none" opacity="0.45"/>
<ellipse cx="308.1" cy="763.6" rx="22.7" ry="2.1" fill="#4c4e4e"/>
<ellipse cx="308.1" cy="764.3" rx="20.2" ry="1.2" fill="#1c1d1e" opacity="0.55"/>
<path d="M310.5 762.2 L310.5 729.4 L316.9 692.7" fill="none" stroke="#b09aa0" stroke-width="1.9" stroke-linecap="round" stroke-linejoin="round"/>
<path d="M311.8 723.2L302.8 720.2" stroke="#b09aa0" stroke-width="1" fill="none" stroke-linecap="round"/>
<path d="M313.4 713.9L302.8 710.6" stroke="#b09aa0" stroke-width="1" fill="none" stroke-linecap="round"/>
<path d="M316.8 694.8L315.3 693" stroke="#b09aa0" stroke-width="1" fill="none" stroke-linecap="round"/>
<path d="M313.9 711.3L318.4 710.6" stroke="#b09aa0" stroke-width="1" fill="none" stroke-linecap="round"/>
<path d="M310.5 736L316.9 734.5" stroke="#b09aa0" stroke-width="1" fill="none" stroke-linecap="round"/>
<path d="M310.5 736L307.3 734.5" stroke="#b09aa0" stroke-width="1" fill="none" stroke-linecap="round"/>
<path d="M310.5 756L306 754.5" stroke="#b09aa0" stroke-width="1" fill="none" stroke-linecap="round"/>
<path d="M310.5 763.7L310.5 763.8" stroke="#b09aa0" stroke-width="1" fill="none" stroke-linecap="round"/>
<path d="M302.8 720.2C299.6 695.3 279.5 699.8 266.2 715.1C274.9 733.4 292.9 743.2 302.8 720.2Z" fill="#101112" opacity="0.35" transform="translate(1.6 2)"/>
<path d="M302.8 720.2C299.6 695.3 279.5 699.8 266.2 715.1C274.9 733.4 292.9 743.2 302.8 720.2Z" fill="#58a83c"/>
<path d="M302.8 720.2C292.9 743.2 274.9 733.4 266.2 715.1C278.7 716.8 290.7 718.5 302.8 720.2Z" fill="#468630" opacity="0.55"/>
<path d="M302.8 720.2C290.7 718.5 278.7 716.8 266.2 715.1" stroke="#6ed24b" stroke-opacity="0.7" stroke-width="0.6" fill="none"/>
<path d="M302.8 710.6C301.9 694.8 282.1 691.3 267.8 696.4C274.5 709.9 291.1 721.3 302.8 710.6Z" fill="#101112" opacity="0.35" transform="translate(1.6 2)"/>
<path d="M302.8 710.6C301.9 694.8 282.1 691.3 267.8 696.4C274.5 709.9 291.1 721.3 302.8 710.6Z" fill="#84cc54"/>
<path d="M302.8 710.6C291.1 721.3 274.5 709.9 267.8 696.4C279.7 701.2 291.3 705.9 302.8 710.6Z" fill="#6aa343" opacity="0.55"/>
<path d="M302.8 710.6C291.3 705.9 279.7 701.2 267.8 696.4" stroke="#a5ff69" stroke-opacity="0.7" stroke-width="0.6" fill="none"/>
<path d="M316.9 693C330.6 693.5 340.4 673.8 341.1 658.8C327.3 664.4 311.8 680.2 316.9 693Z" fill="#101112" opacity="0.35" transform="translate(1.6 2)"/>
<path d="M316.9 693C330.6 693.5 340.4 673.8 341.1 658.8C327.3 664.4 311.8 680.2 316.9 693Z" fill="#a0d868"/>
<path d="M316.9 693C330.6 693.5 340.4 673.8 341.1 658.8C332.9 670.5 324.9 681.7 316.9 693Z" fill="#80ad53" opacity="0.55"/>
<path d="M316.9 693C324.9 681.7 332.9 670.5 341.1 658.8" stroke="#c8ff82" stroke-opacity="0.7" stroke-width="0.6" fill="none"/>
<path d="M315.3 693C317.8 686.8 310.4 680.5 303.8 678.8C304 685.7 308.6 694.2 315.3 693Z" fill="#101112" opacity="0.35" transform="translate(1.6 2)"/>
<path d="M315.3 693C317.8 686.8 310.4 680.5 303.8 678.8C304 685.7 308.6 694.2 315.3 693Z" fill="#b0dc70"/>
<path d="M315.3 693C308.6 694.2 304 685.7 303.8 678.8C307.7 683.6 311.5 688.3 315.3 693Z" fill="#8db05a" opacity="0.55"/>
<path d="M315.3 693C311.5 688.3 307.7 683.6 303.8 678.8" stroke="#dcff8c" stroke-opacity="0.7" stroke-width="0.6" fill="none"/>
<path d="M318.4 710.6C335.8 721.4 353.8 703.2 358.9 684.4C339.7 681.4 315.6 690.3 318.4 710.6Z" fill="#101112" opacity="0.35" transform="translate(1.6 2)"/>
<path d="M318.4 710.6C335.8 721.4 353.8 703.2 358.9 684.4C339.7 681.4 315.6 690.3 318.4 710.6Z" fill="#78c850"/>
<path d="M318.4 710.6C335.8 721.4 353.8 703.2 358.9 684.4C345.1 693.3 331.8 701.9 318.4 710.6Z" fill="#60a040" opacity="0.55"/>
<path d="M318.4 710.6C331.8 701.9 345.1 693.3 358.9 684.4" stroke="#96fa64" stroke-opacity="0.7" stroke-width="0.6" fill="none"/>
<path d="M316.9 734.5C328.5 742.7 341.3 730.7 345.3 717.9C332.2 715.1 315.4 720.4 316.9 734.5Z" fill="#101112" opacity="0.35" transform="translate(1.6 2)"/>
<path d="M316.9 734.5C328.5 742.7 341.3 730.7 345.3 717.9C332.2 715.1 315.4 720.4 316.9 734.5Z" fill="#60b040"/>
<path d="M316.9 734.5C328.5 742.7 341.3 730.7 345.3 717.9C335.6 723.6 326.2 729.1 316.9 734.5Z" fill="#4d8d33" opacity="0.55"/>
<path d="M316.9 734.5C326.2 729.1 335.6 723.6 345.3 717.9" stroke="#78dc50" stroke-opacity="0.7" stroke-width="0.6" fill="none"/>
<path d="M307.3 734.5C301.4 725.6 292.4 731 288.6 739.3C295.9 744.8 306.4 745.2 307.3 734.5Z" fill="#101112" opacity="0.35" transform="translate(1.6 2)"/>
<path d="M307.3 734.5C301.4 725.6 292.4 731 288.6 739.3C295.9 744.8 306.4 745.2 307.3 734.5Z" fill="#64b444"/>
<path d="M307.3 734.5C306.4 745.2 295.9 744.8 288.6 739.3C294.9 737.7 301.1 736.1 307.3 734.5Z" fill="#509036" opacity="0.55"/>
<path d="M307.3 734.5C301.1 736.1 294.9 737.7 288.6 739.3" stroke="#7de155" stroke-opacity="0.7" stroke-width="0.6" fill="none"/>
<path d="M306 754.5C301.2 742.1 281.7 742.4 269.4 748.6C279.1 758.3 297.6 764.8 306 754.5Z" fill="#101112" opacity="0.35" transform="translate(1.6 2)"/>
<path d="M306 754.5C301.2 742.1 281.7 742.4 269.4 748.6C279.1 758.3 297.6 764.8 306 754.5Z" fill="#5cac3c"/>
<path d="M306 754.5C297.6 764.8 279.1 758.3 269.4 748.6C281.9 750.6 293.9 752.6 306 754.5Z" fill="#4a8a30" opacity="0.55"/>
<path d="M306 754.5C293.9 752.6 281.9 750.6 269.4 748.6" stroke="#73d74b" stroke-opacity="0.7" stroke-width="0.6" fill="none"/>
<path d="M310.5 763.8C319 763.7 317.4 758.7 312.1 755C305.8 756.6 302.5 760.7 310.5 763.8Z" fill="#101112" opacity="0.35" transform="translate(1.6 2)"/>
<path d="M310.5 763.8C319 763.7 317.4 758.7 312.1 755C305.8 756.6 302.5 760.7 310.5 763.8Z" fill="#5a9c3c"/>
<path d="M310.5 763.8C319 763.7 317.4 758.7 312.1 755C311.5 758 311 760.9 310.5 763.8Z" fill="#487d30" opacity="0.55"/>
<path d="M310.5 763.8C311 760.9 311.5 758 312.1 755" stroke="#70c34b" stroke-opacity="0.7" stroke-width="0.6" fill="none"/>
</g>
<rect x="316" y="811" width="40.8" height="6.2" fill="#fff"/>
</g>
<g clip-path="url(#cp5)">
<rect x="372" y="609.5" width="347" height="216" fill="url(#bg5)"/>
<rect x="372" y="806" width="347" height="19.5" fill="url(#fl5)" filter="url(#soft2)"/>
<rect x="372" y="609.5" width="347" height="216" fill="url(#vg)"/>
<g filter="url(#soft)">
<ellipse cx="407.2" cy="819.4" rx="26.8" ry="3.4" fill="#0c0d0e" opacity="0.7"/>
<path d="M385.2 766.3L434.1 766.3L428 817.9Q410.2 822.4 392.4 817.9Z" fill="url(#pot)"/>
<path d="M385.2 766.3L434.1 766.3L428 817.9Q410.2 822.4 392.4 817.9Z" fill="url(#potHi)" opacity="0.1"/>
<path d="M385.2 766.3L434.1 766.3L428 817.9Q410.2 822.4 392.4 817.9Z" fill="#808080" filter="url(#crinkle)" opacity="0.45"/>
<path d="M388.1 770.8Q409.7 772.4 431.3 770.8" stroke="#85878a" stroke-width="0.9" fill="none" opacity="0.55"/>
<path d="M388.7 774.3Q409.7 775.9 430.7 774.3" stroke="#6a6c70" stroke-width="0.9" fill="none" opacity="0.45"/>
<path d="M389.3 777.8Q409.7 779.4 430.1 777.8" stroke="#77797c" stroke-width="0.9" fill="none" opacity="0.4"/>
<path d="M394.4 812.9Q410.2 816.9 426 812.9" stroke="#8a8c8f" stroke-width="1.3" fill="none" opacity="0.45"/>
<ellipse cx="409.7" cy="766.6" rx="23.9" ry="2.1" fill="#3c3e3e"/>
<ellipse cx="409.7" cy="767.3" rx="21.4" ry="1.2" fill="#1c1d1e" opacity="0.55"/>
<path d="M407.6 765.9 L408.7 721.1 L409.7 703.8 L422.9 706" fill="none" stroke="#b0b894" stroke-width="1.4" stroke-linecap="round" stroke-linejoin="round"/>
<path d="M409.1 715.7L404.6 714" stroke="#b0b894" stroke-width="1" fill="none" stroke-linecap="round"/>
<path d="M408.8 721L400.9 719.1" stroke="#b0b894" stroke-width="1" fill="none" stroke-linecap="round"/>
<path d="M408.2 743.2L398.5 741.5" stroke="#b0b894" stroke-width="1" fill="none" stroke-linecap="round"/>
<path d="M408 753.1L410.7 751.7" stroke="#b0b894" stroke-width="1" fill="none" stroke-linecap="round"/>
<path d="M408.1 747.4L392.4 745.6" stroke="#b0b894" stroke-width="1" fill="none" stroke-linecap="round"/>
<path d="M421.9 706.4C425.9 714.3 439.5 713.4 447.8 708.9C440.5 703 427.3 699.5 421.9 706.4Z" fill="#101112" opacity="0.35" transform="translate(1.6 2)"/>
<path d="M421.9 706.4C425.9 714.3 439.5 713.4 447.8 708.9C440.5 703 427.3 699.5 421.9 706.4Z" fill="#a0b070"/>
<path d="M421.9 706.4C425.9 714.3 439.5 713.4 447.8 708.9C439 708.1 430.4 707.3 421.9 706.4Z" fill="#808d5a" opacity="0.55"/>
<path d="M421.9 706.4C430.4 707.3 439 708.1 447.8 708.9" stroke="#c8dc8c" stroke-opacity="0.7" stroke-width="0.6" fill="none"/>
<path d="M404.6 714C404.6 720.5 414.8 726.4 422.3 727.6C419.2 720.7 410.9 712.3 404.6 714Z" fill="#101112" opacity="0.35" transform="translate(1.6 2)"/>
<path d="M404.6 714C404.6 720.5 414.8 726.4 422.3 727.6C419.2 720.7 410.9 712.3 404.6 714Z" fill="#b8c8a0"/>
<path d="M404.6 714C404.6 720.5 414.8 726.4 422.3 727.6C416.3 723 410.4 718.5 404.6 714Z" fill="#93a080" opacity="0.55"/>
<path d="M404.6 714C410.4 718.5 416.3 723 422.3 727.6" stroke="#e6fac8" stroke-opacity="0.7" stroke-width="0.6" fill="none"/>
<path d="M400.9 719.1C384.5 718 377.3 738.8 379.7 754.7C394.9 749.3 409.7 733 400.9 719.1Z" fill="#101112" opacity="0.35" transform="translate(1.6 2)"/>
<path d="M400.9 719.1C384.5 718 377.3 738.8 379.7 754.7C394.9 749.3 409.7 733 400.9 719.1Z" fill="#98c078"/>
<path d="M400.9 719.1C409.7 733 394.9 749.3 379.7 754.7C386.9 742.6 393.9 730.8 400.9 719.1Z" fill="#7a9a60" opacity="0.55"/>
<path d="M400.9 719.1C393.9 730.8 386.9 742.6 379.7 754.7" stroke="#bef096" stroke-opacity="0.7" stroke-width="0.6" fill="none"/>
<path d="M398.5 741.5C391 747.1 393.3 763.2 398.5 772.4C403.7 763.2 405.9 747.1 398.5 741.5Z" fill="#101112" opacity="0.35" transform="translate(1.6 2)"/>
<path d="M398.5 741.5C391 747.1 393.3 763.2 398.5 772.4C403.7 763.2 405.9 747.1 398.5 741.5Z" fill="#a0c888"/>
<path d="M398.5 741.5C405.9 747.1 403.7 763.2 398.5 772.4C398.5 761.9 398.5 751.7 398.5 741.5Z" fill="#80a06d" opacity="0.55"/>
<path d="M398.5 741.5C398.5 751.7 398.5 761.9 398.5 772.4" stroke="#c8faaa" stroke-opacity="0.7" stroke-width="0.6" fill="none"/>
<path d="M409.7 729.3C403.7 744.1 421.5 764 437.6 771.6C436.9 753.8 425.7 729.6 409.7 729.3Z" fill="#101112" opacity="0.35" transform="translate(1.6 2)"/>
<path d="M409.7 729.3C403.7 744.1 421.5 764 437.6 771.6C436.9 753.8 425.7 729.6 409.7 729.3Z" fill="#a0c888"/>
<path d="M409.7 729.3C403.7 744.1 421.5 764 437.6 771.6C428.1 757.2 418.9 743.2 409.7 729.3Z" fill="#80a06d" opacity="0.55"/>
<path d="M409.7 729.3C418.9 743.2 428.1 757.2 437.6 771.6" stroke="#c8faaa" stroke-opacity="0.7" stroke-width="0.6" fill="none"/>
<path d="M410.7 751.7C400.9 757.3 405.2 770.6 413.1 777.7C419.6 769.2 421.4 755.4 410.7 751.7Z" fill="#101112" opacity="0.35" transform="translate(1.6 2)"/>
<path d="M410.7 751.7C400.9 757.3 405.2 770.6 413.1 777.7C419.6 769.2 421.4 755.4 410.7 751.7Z" fill="#a8cc90"/>
<path d="M410.7 751.7C400.9 757.3 405.2 770.6 413.1 777.7C412.3 768.9 411.5 760.3 410.7 751.7Z" fill="#86a373" opacity="0.55"/>
<path d="M410.7 751.7C411.5 760.3 412.3 768.9 413.1 777.7" stroke="#d2ffb4" stroke-opacity="0.7" stroke-width="0.6" fill="none"/>
<path d="M392.4 745.6C383.5 742.8 381.2 750.9 383.8 758.2C391.5 757.9 398.2 752.8 392.4 745.6Z" fill="#101112" opacity="0.35" transform="translate(1.6 2)"/>
<path d="M392.4 745.6C383.5 742.8 381.2 750.9 383.8 758.2C391.5 757.9 398.2 752.8 392.4 745.6Z" fill="#90b870"/>
<path d="M392.4 745.6C398.2 752.8 391.5 757.9 383.8 758.2C386.7 753.9 389.5 749.7 392.4 745.6Z" fill="#73935a" opacity="0.55"/>
<path d="M392.4 745.6C389.5 749.7 386.7 753.9 383.8 758.2" stroke="#b4e68c" stroke-opacity="0.7" stroke-width="0.6" fill="none"/>
<ellipse cx="535.5" cy="817.4" rx="26.8" ry="3.4" fill="#0c0d0e" opacity="0.7"/>
<path d="M512.6 761.2L564.5 761.2L556.4 815.9Q538.5 820.4 520.7 815.9Z" fill="url(#pot)"/>
<path d="M512.6 761.2L564.5 761.2L556.4 815.9Q538.5 820.4 520.7 815.9Z" fill="url(#potHi)" opacity="0.4"/>
<path d="M512.6 761.2L564.5 761.2L556.4 815.9Q538.5 820.4 520.7 815.9Z" fill="#808080" filter="url(#crinkle)" opacity="0.45"/>
<path d="M515.4 765.7Q538.5 767.3 561.7 765.7" stroke="#85878a" stroke-width="0.9" fill="none" opacity="0.55"/>
<path d="M516 769.2Q538.5 770.8 561.1 769.2" stroke="#6a6c70" stroke-width="0.9" fill="none" opacity="0.45"/>
<path d="M516.6 772.7Q538.5 774.3 560.4 772.7" stroke="#77797c" stroke-width="0.9" fill="none" opacity="0.4"/>
<path d="M522.7 810.9Q538.5 814.9 554.4 810.9" stroke="#8a8c8f" stroke-width="1.3" fill="none" opacity="0.45"/>
<ellipse cx="538.5" cy="761.5" rx="25.5" ry="2.1" fill="#505250"/>
<ellipse cx="538.5" cy="762.2" rx="23" ry="1.2" fill="#1c1d1e" opacity="0.55"/>
<path d="M540.1 761.9 L535 737.4 L543.1 700.7 L528.9 677.3" fill="none" stroke="#b4c494" stroke-width="1.7" stroke-linecap="round" stroke-linejoin="round"/>
<path d="M544.1 698.7 L562.5 691" fill="none" stroke="#b4c494" stroke-width="1.1" stroke-linecap="round"/>
<path d="M539 694.6 L518.7 698.7" fill="none" stroke="#b4c494" stroke-width="1.1" stroke-linecap="round"/>
<path d="M543.1 702.2L559.4 691" stroke="#b4c494" stroke-width="1" fill="none" stroke-linecap="round"/>
<path d="M535.5 689.8L519.1 698.3" stroke="#b4c494" stroke-width="1" fill="none" stroke-linecap="round"/>
<path d="M540.2 715.1L535.4 712.6" stroke="#b4c494" stroke-width="1" fill="none" stroke-linecap="round"/>
<path d="M535.6 735.9L517 730.3" stroke="#b4c494" stroke-width="1" fill="none" stroke-linecap="round"/>
<path d="M537.3 728.6L545.1 728.9" stroke="#b4c494" stroke-width="1" fill="none" stroke-linecap="round"/>
<path d="M538.5 756.1L532.9 755.7" stroke="#b4c494" stroke-width="1" fill="none" stroke-linecap="round"/>
<path d="M532.9 682.8C535.1 678.2 530.1 674.4 525.4 673.9C525.2 678.6 528 684.2 532.9 682.8Z" fill="#101112" opacity="0.35" transform="translate(1.6 2)"/>
<path d="M532.9 682.8C535.1 678.2 530.1 674.4 525.4 673.9C525.2 678.6 528 684.2 532.9 682.8Z" fill="#d0e0b0"/>
<path d="M532.9 682.8C528 684.2 525.2 678.6 525.4 673.9C528 676.9 530.4 679.9 532.9 682.8Z" fill="#a6b38d" opacity="0.55"/>
<path d="M532.9 682.8C530.4 679.9 528 676.9 525.4 673.9" stroke="#ffffdc" stroke-opacity="0.7" stroke-width="0.6" fill="none"/>
<path d="M532.9 686.5C522.2 688 523.1 699 528.9 706.4C537.1 701.9 542.2 692.1 532.9 686.5Z" fill="#101112" opacity="0.35" transform="translate(1.6 2)"/>
<path d="M532.9 686.5C522.2 688 523.1 699 528.9 706.4C537.1 701.9 542.2 692.1 532.9 686.5Z" fill="#88c45c"/>
<path d="M532.9 686.5C542.2 692.1 537.1 701.9 528.9 706.4C530.2 699.7 531.6 693.1 532.9 686.5Z" fill="#6d9d4a" opacity="0.55"/>
<path d="M532.9 686.5C531.6 693.1 530.2 699.7 528.9 706.4" stroke="#aaf573" stroke-opacity="0.7" stroke-width="0.6" fill="none"/>
<path d="M559.4 691C551.9 707.6 568.8 717.3 584.9 716.6C585.7 700.5 576.1 683.6 559.4 691Z" fill="#101112" opacity="0.35" transform="translate(1.6 2)"/>
<path d="M559.4 691C551.9 707.6 568.8 717.3 584.9 716.6C585.7 700.5 576.1 683.6 559.4 691Z" fill="#84c058"/>
<path d="M559.4 691C551.9 707.6 568.8 717.3 584.9 716.6C576.2 707.9 567.8 699.4 559.4 691Z" fill="#6a9a46" opacity="0.55"/>
<path d="M559.4 691C567.8 699.4 576.2 707.9 584.9 716.6" stroke="#a5f06e" stroke-opacity="0.7" stroke-width="0.6" fill="none"/>
<path d="M519.1 698.3C507.8 699.5 501.4 717.1 502 729.7C512.8 723.4 524.2 708.4 519.1 698.3Z" fill="#101112" opacity="0.35" transform="translate(1.6 2)"/>
<path d="M519.1 698.3C507.8 699.5 501.4 717.1 502 729.7C512.8 723.4 524.2 708.4 519.1 698.3Z" fill="#7cbc54"/>
<path d="M519.1 698.3C524.2 708.4 512.8 723.4 502 729.7C507.8 719 513.4 708.6 519.1 698.3Z" fill="#639643" opacity="0.55"/>
<path d="M519.1 698.3C513.4 708.6 507.8 719 502 729.7" stroke="#9beb69" stroke-opacity="0.7" stroke-width="0.6" fill="none"/>
<path d="M535.4 712.6C514.7 709.2 512.2 727.7 520.3 743.1C537.4 740.2 550.7 726.9 535.4 712.6Z" fill="#101112" opacity="0.35" transform="translate(1.6 2)"/>
<path d="M535.4 712.6C514.7 709.2 512.2 727.7 520.3 743.1C537.4 740.2 550.7 726.9 535.4 712.6Z" fill="#80c458"/>
<path d="M535.4 712.6C550.7 726.9 537.4 740.2 520.3 743.1C525.4 732.7 530.4 722.6 535.4 712.6Z" fill="#669d46" opacity="0.55"/>
<path d="M535.4 712.6C530.4 722.6 525.4 732.7 520.3 743.1" stroke="#a0f56e" stroke-opacity="0.7" stroke-width="0.6" fill="none"/>
<path d="M517 730.3C504.5 722.9 490.3 736.5 485.7 750C499.9 751.8 518.3 744.8 517 730.3Z" fill="#101112" opacity="0.35" transform="translate(1.6 2)"/>
<path d="M517 730.3C504.5 722.9 490.3 736.5 485.7 750C499.9 751.8 518.3 744.8 517 730.3Z" fill="#a4c490"/>
<path d="M517 730.3C518.3 744.8 499.9 751.8 485.7 750C496.3 743.3 506.7 736.8 517 730.3Z" fill="#839d73" opacity="0.55"/>
<path d="M517 730.3C506.7 736.8 496.3 743.3 485.7 750" stroke="#cdf5b4" stroke-opacity="0.7" stroke-width="0.6" fill="none"/>
<path d="M545.1 728.9C533.1 751.2 555.6 766.7 578.1 767.6C580.9 745.2 569.1 720.5 545.1 728.9Z" fill="#101112" opacity="0.35" transform="translate(1.6 2)"/>
<path d="M545.1 728.9C533.1 751.2 555.6 766.7 578.1 767.6C580.9 745.2 569.1 720.5 545.1 728.9Z" fill="#78b854"/>
<path d="M545.1 728.9C533.1 751.2 555.6 766.7 578.1 767.6C566.9 754.4 556 741.6 545.1 728.9Z" fill="#609343" opacity="0.55"/>
<path d="M545.1 728.9C556 741.6 566.9 754.4 578.1 767.6" stroke="#96e669" stroke-opacity="0.7" stroke-width="0.6" fill="none"/>
<path d="M535 741.5C531.5 750.8 541 755.3 549.6 754.1C549.5 745.4 543.7 736.7 535 741.5Z" fill="#101112" opacity="0.35" transform="translate(1.6 2)"/>
<path d="M535 741.5C531.5 750.8 541 755.3 549.6 754.1C549.5 745.4 543.7 736.7 535 741.5Z" fill="#80b060"/>
<path d="M535 741.5C531.5 750.8 541 755.3 549.6 754.1C544.6 749.8 539.8 745.6 535 741.5Z" fill="#668d4d" opacity="0.55"/>
<path d="M535 741.5C539.8 745.6 544.6 749.8 549.6 754.1" stroke="#a0dc78" stroke-opacity="0.7" stroke-width="0.6" fill="none"/>
<path d="M532.9 755.7C526.8 751.8 525.1 756.5 526.8 761.9C532.2 763.6 536.9 761.9 532.9 755.7Z" fill="#101112" opacity="0.35" transform="translate(1.6 2)"/>
<path d="M532.9 755.7C526.8 751.8 525.1 756.5 526.8 761.9C532.2 763.6 536.9 761.9 532.9 755.7Z" fill="#98b070"/>
<path d="M532.9 755.7C536.9 761.9 532.2 763.6 526.8 761.9C528.9 759.8 530.9 757.8 532.9 755.7Z" fill="#7a8d5a" opacity="0.55"/>
<path d="M532.9 755.7C530.9 757.8 528.9 759.8 526.8 761.9" stroke="#bedc8c" stroke-opacity="0.7" stroke-width="0.6" fill="none"/>
<ellipse cx="659.5" cy="814.1" rx="27.1" ry="3.4" fill="#0c0d0e" opacity="0.7"/>
<path d="M638.3 759L686.6 759L680.6 812.6Q662.5 817.1 644.4 812.6Z" fill="url(#pot)"/>
<path d="M638.3 759L686.6 759L680.6 812.6Q662.5 817.1 644.4 812.6Z" fill="url(#potHi)" opacity="0.6"/>
<path d="M638.3 759L686.6 759L680.6 812.6Q662.5 817.1 644.4 812.6Z" fill="#808080" filter="url(#crinkle)" opacity="0.45"/>
<path d="M641.1 763.5Q662.5 765.1 683.8 763.5" stroke="#85878a" stroke-width="0.9" fill="none" opacity="0.55"/>
<path d="M641.8 767Q662.5 768.6 683.2 767" stroke="#6a6c70" stroke-width="0.9" fill="none" opacity="0.45"/>
<path d="M642.4 770.5Q662.5 772.1 682.6 770.5" stroke="#77797c" stroke-width="0.9" fill="none" opacity="0.4"/>
<path d="M646.4 807.6Q662.5 811.6 678.6 807.6" stroke="#8a8c8f" stroke-width="1.3" fill="none" opacity="0.45"/>
<ellipse cx="662.5" cy="759.3" rx="23.7" ry="2.1" fill="#484a4a"/>
<ellipse cx="662.5" cy="760" rx="21.2" ry="1.2" fill="#1c1d1e" opacity="0.55"/>
<path d="M661 758 L658.7 717.9 L653.4 692.3 L648.1 680.2" fill="none" stroke="#b8c8a0" stroke-width="1.8" stroke-linecap="round" stroke-linejoin="round"/>
<path d="M652.7 690.8 L641.3 690" fill="none" stroke="#b8c8a0" stroke-width="1.1" stroke-linecap="round"/>
<path d="M654.9 701.3 L642.8 704.7" fill="none" stroke="#b8c8a0" stroke-width="1.1" stroke-linecap="round"/>
<path d="M659.2 711.9 L674.6 706.2" fill="none" stroke="#b8c8a0" stroke-width="1.1" stroke-linecap="round"/>
<path d="M657.2 717.9 L645.9 725.8" fill="none" stroke="#b8c8a0" stroke-width="1.1" stroke-linecap="round"/>
<path d="M650.7 687.6L641.6 690" stroke="#b8c8a0" stroke-width="1" fill="none" stroke-linecap="round"/>
<path d="M651 688.2L654.9 685" stroke="#b8c8a0" stroke-width="1" fill="none" stroke-linecap="round"/>
<path d="M655.4 703.3L643.1 704.4" stroke="#b8c8a0" stroke-width="1" fill="none" stroke-linecap="round"/>
<path d="M657 711.3L674.6 706.2" stroke="#b8c8a0" stroke-width="1" fill="none" stroke-linecap="round"/>
<path d="M659.1 726.3L646.2 725.5" stroke="#b8c8a0" stroke-width="1" fill="none" stroke-linecap="round"/>
<path d="M660 741.7L647.7 740.9" stroke="#b8c8a0" stroke-width="1" fill="none" stroke-linecap="round"/>
<path d="M659 724.5L668.5 722.5" stroke="#b8c8a0" stroke-width="1" fill="none" stroke-linecap="round"/>
<path d="M659.6 735.8L654.9 734.6" stroke="#b8c8a0" stroke-width="1" fill="none" stroke-linecap="round"/>
<path d="M641.6 690C630.4 682 615.2 693.7 609.3 706.2C622.8 709 641.3 703.9 641.6 690Z" fill="#101112" opacity="0.35" transform="translate(1.6 2)"/>
<path d="M641.6 690C630.4 682 615.2 693.7 609.3 706.2C622.8 709 641.3 703.9 641.6 690Z" fill="#80c058"/>
<path d="M641.6 690C641.3 703.9 622.8 709 609.3 706.2C620.3 700.7 631 695.3 641.6 690Z" fill="#669a46" opacity="0.55"/>
<path d="M641.6 690C631 695.3 620.3 700.7 609.3 706.2" stroke="#a0f06e" stroke-opacity="0.7" stroke-width="0.6" fill="none"/>
<path d="M654.9 685C661.3 689.1 672.5 682.8 677.9 676.1C669.4 674.8 656.8 677.7 654.9 685Z" fill="#101112" opacity="0.35" transform="translate(1.6 2)"/>
<path d="M654.9 685C661.3 689.1 672.5 682.8 677.9 676.1C669.4 674.8 656.8 677.7 654.9 685Z" fill="#88b868"/>
<path d="M654.9 685C661.3 689.1 672.5 682.8 677.9 676.1C670.1 679.1 662.5 682.1 654.9 685Z" fill="#6d9353" opacity="0.55"/>
<path d="M654.9 685C662.5 682.1 670.1 679.1 677.9 676.1" stroke="#aae682" stroke-opacity="0.7" stroke-width="0.6" fill="none"/>
<path d="M643.1 704.4C630.1 698.7 615 714 610.1 728.1C625 727.9 644.3 718.6 643.1 704.4Z" fill="#101112" opacity="0.35" transform="translate(1.6 2)"/>
<path d="M643.1 704.4C630.1 698.7 615 714 610.1 728.1C625 727.9 644.3 718.6 643.1 704.4Z" fill="#7cc054"/>
<path d="M643.1 704.4C644.3 718.6 625 727.9 610.1 728.1C621.3 720 632.2 712.2 643.1 704.4Z" fill="#639a43" opacity="0.55"/>
<path d="M643.1 704.4C632.2 712.2 621.3 720 610.1 728.1" stroke="#9bf069" stroke-opacity="0.7" stroke-width="0.6" fill="none"/>
<path d="M674.6 706.2C681.3 715.9 700.2 710.8 711.1 705.6C699.9 693.6 680.9 691.5 674.6 706.2Z" fill="#101112" opacity="0.35" transform="translate(1.6 2)"/>
<path d="M674.6 706.2C681.3 715.9 700.2 710.8 711.1 705.6C699.9 693.6 680.9 691.5 674.6 706.2Z" fill="#98c474"/>
<path d="M674.6 706.2C681.3 715.9 700.2 710.8 711.1 705.6C698.6 701.9 686.5 702.2 674.6 706.2Z" fill="#7a9d5d" opacity="0.55"/>
<path d="M674.6 706.2C686.5 702.2 698.6 701.9 711.1 705.6" stroke="#bef591" stroke-opacity="0.7" stroke-width="0.6" fill="none"/>
<path d="M646.2 725.5C617.2 724.5 614.3 753.8 625.9 776.1C649.7 768 667.8 744.7 646.2 725.5Z" fill="#101112" opacity="0.35" transform="translate(1.6 2)"/>
<path d="M646.2 725.5C617.2 724.5 614.3 753.8 625.9 776.1C649.7 768 667.8 744.7 646.2 725.5Z" fill="#90c070"/>
<path d="M646.2 725.5C667.8 744.7 649.7 768 625.9 776.1C632.8 758.9 639.5 742.2 646.2 725.5Z" fill="#739a5a" opacity="0.55"/>
<path d="M646.2 725.5C639.5 742.2 632.8 758.9 625.9 776.1" stroke="#b4f08c" stroke-opacity="0.7" stroke-width="0.6" fill="none"/>
<path d="M647.7 740.9C640.5 734.5 621.5 738 610.8 743.6C622.2 747.6 641.6 748.3 647.7 740.9Z" fill="#101112" opacity="0.35" transform="translate(1.6 2)"/>
<path d="M647.7 740.9C640.5 734.5 621.5 738 610.8 743.6C622.2 747.6 641.6 748.3 647.7 740.9Z" fill="#8cbc6c"/>
<path d="M647.7 740.9C641.6 748.3 622.2 747.6 610.8 743.6C623.4 742.7 635.5 741.8 647.7 740.9Z" fill="#709656" opacity="0.55"/>
<path d="M647.7 740.9C635.5 741.8 623.4 742.7 610.8 743.6" stroke="#afeb87" stroke-opacity="0.7" stroke-width="0.6" fill="none"/>
<path d="M668.5 722.5C657 734.6 668.4 753.9 682.4 762.5C688.1 747.1 685.1 724.8 668.5 722.5Z" fill="#101112" opacity="0.35" transform="translate(1.6 2)"/>
<path d="M668.5 722.5C657 734.6 668.4 753.9 682.4 762.5C688.1 747.1 685.1 724.8 668.5 722.5Z" fill="#8cc06c"/>
<path d="M668.5 722.5C657 734.6 668.4 753.9 682.4 762.5C677.7 748.9 673.1 735.7 668.5 722.5Z" fill="#709a56" opacity="0.55"/>
<path d="M668.5 722.5C673.1 735.7 677.7 748.9 682.4 762.5" stroke="#aff087" stroke-opacity="0.7" stroke-width="0.6" fill="none"/>
<path d="M654.9 734.6C646.1 750.5 660.2 757.2 674.9 754.5C677.6 739.8 670.9 725.7 654.9 734.6Z" fill="#101112" opacity="0.35" transform="translate(1.6 2)"/>
<path d="M654.9 734.6C646.1 750.5 660.2 757.2 674.9 754.5C677.6 739.8 670.9 725.7 654.9 734.6Z" fill="#88b868"/>
<path d="M654.9 734.6C646.1 750.5 660.2 757.2 674.9 754.5C668.1 747.7 661.5 741.1 654.9 734.6Z" fill="#6d9353" opacity="0.55"/>
<path d="M654.9 734.6C661.5 741.1 668.1 747.7 674.9 754.5" stroke="#aae682" stroke-opacity="0.7" stroke-width="0.6" fill="none"/>
<path d="M688.1 751.5C689.1 762.9 699.8 762.1 707.3 756C703.3 747.2 694.1 741.7 688.1 751.5Z" fill="#101112" opacity="0.35" transform="translate(1.6 2)"/>
<path d="M688.1 751.5C689.1 762.9 699.8 762.1 707.3 756C703.3 747.2 694.1 741.7 688.1 751.5Z" fill="#84b464"/>
<path d="M688.1 751.5C689.1 762.9 699.8 762.1 707.3 756C700.8 754.5 694.5 753 688.1 751.5Z" fill="#6a9050" opacity="0.55"/>
<path d="M688.1 751.5C694.5 753 700.8 754.5 707.3 756" stroke="#a5e17d" stroke-opacity="0.7" stroke-width="0.6" fill="none"/>
</g>
<rect x="673.9" y="811.2" width="39.3" height="5.8" fill="#fff"/>
</g>
<g clip-path="url(#cp6)">
<rect x="727" y="609.5" width="347.7" height="216" fill="url(#bg6)"/>
<rect x="727" y="783" width="347.7" height="42.5" fill="url(#fl6)" filter="url(#soft2)"/>
<rect x="727" y="609.5" width="347.7" height="216" fill="url(#vg)"/>
<g filter="url(#soft)">
<ellipse cx="761.7" cy="820.8" rx="26.3" ry="3.4" fill="#0c0d0e" opacity="0.7"/>
<path d="M740.2 769.8L789.1 769.8L782 819.3Q764.7 823.8 747.4 819.3Z" fill="url(#pot)"/>
<path d="M740.2 769.8L789.1 769.8L782 819.3Q764.7 823.8 747.4 819.3Z" fill="url(#potHi)" opacity="0.8"/>
<path d="M740.2 769.8L789.1 769.8L782 819.3Q764.7 823.8 747.4 819.3Z" fill="#808080" filter="url(#crinkle)" opacity="0.45"/>
<path d="M743.1 774.3Q764.7 775.9 786.3 774.3" stroke="#85878a" stroke-width="0.9" fill="none" opacity="0.55"/>
<path d="M743.7 777.8Q764.7 779.4 785.7 777.8" stroke="#6a6c70" stroke-width="0.9" fill="none" opacity="0.45"/>
<path d="M744.3 781.3Q764.7 782.9 785.1 781.3" stroke="#77797c" stroke-width="0.9" fill="none" opacity="0.4"/>
<path d="M749.4 814.3Q764.7 818.3 780 814.3" stroke="#8a8c8f" stroke-width="1.3" fill="none" opacity="0.45"/>
<ellipse cx="764.7" cy="770.1" rx="23.9" ry="2.1" fill="#3e4040"/>
<ellipse cx="764.7" cy="770.8" rx="21.4" ry="1.2" fill="#1c1d1e" opacity="0.55"/>
<path d="M763.7 768.3 L765.7 731.7 L766.7 709.3 L762.6 705.2" fill="none" stroke="#b4b89c" stroke-width="1.4" stroke-linecap="round" stroke-linejoin="round"/>
<path d="M764.4 708.4L760 711.3" stroke="#b4b89c" stroke-width="1" fill="none" stroke-linecap="round"/>
<path d="M766.3 719.1L762.6 717.4" stroke="#b4b89c" stroke-width="1" fill="none" stroke-linecap="round"/>
<path d="M766 727L767.7 725.6" stroke="#b4b89c" stroke-width="1" fill="none" stroke-linecap="round"/>
<path d="M764.9 748.2L780.4 747.6" stroke="#b4b89c" stroke-width="1" fill="none" stroke-linecap="round"/>
<path d="M764.9 747.2L769.8 745.9" stroke="#b4b89c" stroke-width="1" fill="none" stroke-linecap="round"/>
<path d="M760 711.3C751.7 707.5 739.7 717 734.7 726C744.9 726.1 759.2 720.4 760 711.3Z" fill="#101112" opacity="0.35" transform="translate(1.6 2)"/>
<path d="M760 711.3C751.7 707.5 739.7 717 734.7 726C744.9 726.1 759.2 720.4 760 711.3Z" fill="#a8a060"/>
<path d="M760 711.3C759.2 720.4 744.9 726.1 734.7 726C743.3 721 751.7 716.1 760 711.3Z" fill="#86804d" opacity="0.55"/>
<path d="M760 711.3C751.7 716.1 743.3 721 734.7 726" stroke="#d2c878" stroke-opacity="0.7" stroke-width="0.6" fill="none"/>
<path d="M762.6 717.4C755.8 717.3 748.3 728.1 745.9 736.1C753.7 732.9 763.5 724.2 762.6 717.4Z" fill="#101112" opacity="0.35" transform="translate(1.6 2)"/>
<path d="M762.6 717.4C755.8 717.3 748.3 728.1 745.9 736.1C753.7 732.9 763.5 724.2 762.6 717.4Z" fill="#98b070"/>
<path d="M762.6 717.4C763.5 724.2 753.7 732.9 745.9 736.1C751.6 729.8 757.1 723.6 762.6 717.4Z" fill="#7a8d5a" opacity="0.55"/>
<path d="M762.6 717.4C757.1 723.6 751.6 729.8 745.9 736.1" stroke="#bedc8c" stroke-opacity="0.7" stroke-width="0.6" fill="none"/>
<path d="M767.7 725.6C760.4 734 768.7 743.4 778.3 746.3C781.6 736.8 778.8 724.6 767.7 725.6Z" fill="#101112" opacity="0.35" transform="translate(1.6 2)"/>
<path d="M767.7 725.6C760.4 734 768.7 743.4 778.3 746.3C781.6 736.8 778.8 724.6 767.7 725.6Z" fill="#a0c868"/>
<path d="M767.7 725.6C760.4 734 768.7 743.4 778.3 746.3C774.7 739.3 771.2 732.4 767.7 725.6Z" fill="#80a053" opacity="0.55"/>
<path d="M767.7 725.6C771.2 732.4 774.7 739.3 778.3 746.3" stroke="#c8fa82" stroke-opacity="0.7" stroke-width="0.6" fill="none"/>
<path d="M764.1 737.8C752.7 737.5 741.6 754.9 738.8 767.9C751.2 762.9 766.3 748.9 764.1 737.8Z" fill="#101112" opacity="0.35" transform="translate(1.6 2)"/>
<path d="M764.1 737.8C752.7 737.5 741.6 754.9 738.8 767.9C751.2 762.9 766.3 748.9 764.1 737.8Z" fill="#a8cc90"/>
<path d="M764.1 737.8C766.3 748.9 751.2 762.9 738.8 767.9C747.4 757.7 755.7 747.7 764.1 737.8Z" fill="#86a373" opacity="0.55"/>
<path d="M764.1 737.8C755.7 747.7 747.4 757.7 738.8 767.9" stroke="#d2ffb4" stroke-opacity="0.7" stroke-width="0.6" fill="none"/>
<path d="M765.7 741.9C755.5 744.1 752.7 760 755.5 770.8C764.4 764.2 772.3 750 765.7 741.9Z" fill="#101112" opacity="0.35" transform="translate(1.6 2)"/>
<path d="M765.7 741.9C755.5 744.1 752.7 760 755.5 770.8C764.4 764.2 772.3 750 765.7 741.9Z" fill="#a0c888"/>
<path d="M765.7 741.9C772.3 750 764.4 764.2 755.5 770.8C759 760.9 762.3 751.4 765.7 741.9Z" fill="#80a06d" opacity="0.55"/>
<path d="M765.7 741.9C762.3 751.4 759 760.9 755.5 770.8" stroke="#c8faaa" stroke-opacity="0.7" stroke-width="0.6" fill="none"/>
<path d="M780.4 747.6C776.5 759.4 788.1 764 798.7 761.8C798.3 751 790.9 740.8 780.4 747.6Z" fill="#101112" opacity="0.35" transform="translate(1.6 2)"/>
<path d="M780.4 747.6C776.5 759.4 788.1 764 798.7 761.8C798.3 751 790.9 740.8 780.4 747.6Z" fill="#80bc58"/>
<path d="M780.4 747.6C776.5 759.4 788.1 764 798.7 761.8C792.5 757 786.4 752.3 780.4 747.6Z" fill="#669646" opacity="0.55"/>
<path d="M780.4 747.6C786.4 752.3 792.5 757 798.7 761.8" stroke="#a0eb6e" stroke-opacity="0.7" stroke-width="0.6" fill="none"/>
<path d="M769.8 745.9C762.7 750.1 766 759.6 771.8 764.7C776.4 758.5 777.6 748.5 769.8 745.9Z" fill="#101112" opacity="0.35" transform="translate(1.6 2)"/>
<path d="M769.8 745.9C762.7 750.1 766 759.6 771.8 764.7C776.4 758.5 777.6 748.5 769.8 745.9Z" fill="#98c478"/>
<path d="M769.8 745.9C762.7 750.1 766 759.6 771.8 764.7C771.1 758.3 770.5 752.1 769.8 745.9Z" fill="#7a9d60" opacity="0.55"/>
<path d="M769.8 745.9C770.5 752.1 771.1 758.3 771.8 764.7" stroke="#bef596" stroke-opacity="0.7" stroke-width="0.6" fill="none"/>
<ellipse cx="886.5" cy="817.7" rx="29.9" ry="3.4" fill="#0c0d0e" opacity="0.7"/>
<path d="M864.5 762.6L916.4 762.6L910.3 816.2Q889.5 820.7 868.6 816.2Z" fill="url(#pot)"/>
<path d="M864.5 762.6L916.4 762.6L910.3 816.2Q889.5 820.7 868.6 816.2Z" fill="url(#potHi)" opacity="0.6"/>
<path d="M864.5 762.6L916.4 762.6L910.3 816.2Q889.5 820.7 868.6 816.2Z" fill="#808080" filter="url(#crinkle)" opacity="0.45"/>
<path d="M867.3 767.1Q890.5 768.7 913.6 767.1" stroke="#85878a" stroke-width="0.9" fill="none" opacity="0.55"/>
<path d="M867.9 770.6Q890.5 772.2 913 770.6" stroke="#6a6c70" stroke-width="0.9" fill="none" opacity="0.45"/>
<path d="M868.6 774.1Q890.5 775.7 912.4 774.1" stroke="#77797c" stroke-width="0.9" fill="none" opacity="0.4"/>
<path d="M870.6 811.2Q889.5 815.2 908.3 811.2" stroke="#8a8c8f" stroke-width="1.3" fill="none" opacity="0.45"/>
<ellipse cx="890.5" cy="762.9" rx="25.5" ry="2.1" fill="#5c5e5a"/>
<ellipse cx="890.5" cy="763.6" rx="23" ry="1.2" fill="#1c1d1e" opacity="0.55"/>
<path d="M890 764.3 L887.9 735.7 L900.1 701.1 L896.1 680.7" fill="none" stroke="#b4c494" stroke-width="1.7" stroke-linecap="round" stroke-linejoin="round"/>
<path d="M900.1 701.1 L910.3 688.9" fill="none" stroke="#b4c494" stroke-width="1.1" stroke-linecap="round"/>
<path d="M898.1 705.2 L887.9 721.5" fill="none" stroke="#b4c494" stroke-width="1.1" stroke-linecap="round"/>
<path d="M896.1 682.3L894.4 681.1" stroke="#b4c494" stroke-width="1" fill="none" stroke-linecap="round"/>
<path d="M896.3 683.6L898.1 681.8" stroke="#b4c494" stroke-width="1" fill="none" stroke-linecap="round"/>
<path d="M898.2 693L909.3 689.3" stroke="#b4c494" stroke-width="1" fill="none" stroke-linecap="round"/>
<path d="M899.5 699.6L892.4 699.5" stroke="#b4c494" stroke-width="1" fill="none" stroke-linecap="round"/>
<path d="M892.3 724.8L888.3 721.9" stroke="#b4c494" stroke-width="1" fill="none" stroke-linecap="round"/>
<path d="M894.7 718L904.2 719.9" stroke="#b4c494" stroke-width="1" fill="none" stroke-linecap="round"/>
<path d="M888 737.8L890 736.1" stroke="#b4c494" stroke-width="1" fill="none" stroke-linecap="round"/>
<path d="M894.4 681.1C889.6 667.5 863.1 661.2 845.8 663C857.6 675.7 881.8 688.3 894.4 681.1Z" fill="#101112" opacity="0.35" transform="translate(1.6 2)"/>
<path d="M894.4 681.1C889.6 667.5 863.1 661.2 845.8 663C857.6 675.7 881.8 688.3 894.4 681.1Z" fill="#98cc68"/>
<path d="M894.4 681.1C881.8 688.3 857.6 675.7 845.8 663C862.3 669.2 878.4 675.2 894.4 681.1Z" fill="#7aa353" opacity="0.55"/>
<path d="M894.4 681.1C878.4 675.2 862.3 669.2 845.8 663" stroke="#beff82" stroke-opacity="0.7" stroke-width="0.6" fill="none"/>
<path d="M898.1 681.8C908.7 677.7 904.3 672.3 896.1 670.1C889 675 886.8 681.6 898.1 681.8Z" fill="#101112" opacity="0.35" transform="translate(1.6 2)"/>
<path d="M898.1 681.8C908.7 677.7 904.3 672.3 896.1 670.1C889 675 886.8 681.6 898.1 681.8Z" fill="#94c864"/>
<path d="M898.1 681.8C886.8 681.6 889 675 896.1 670.1C896.8 674.1 897.4 677.9 898.1 681.8Z" fill="#76a050" opacity="0.55"/>
<path d="M898.1 681.8C897.4 677.9 896.8 674.1 896.1 670.1" stroke="#b9fa7d" stroke-opacity="0.7" stroke-width="0.6" fill="none"/>
<path d="M909.3 689.3C920.2 694.1 937.6 681.7 945.4 670.1C931.5 670.1 911.4 677.6 909.3 689.3Z" fill="#101112" opacity="0.35" transform="translate(1.6 2)"/>
<path d="M909.3 689.3C920.2 694.1 937.6 681.7 945.4 670.1C931.5 670.1 911.4 677.6 909.3 689.3Z" fill="#9ccc6c"/>
<path d="M909.3 689.3C920.2 694.1 937.6 681.7 945.4 670.1C933.1 676.7 921.2 683 909.3 689.3Z" fill="#7da356" opacity="0.55"/>
<path d="M909.3 689.3C921.2 683 933.1 676.7 945.4 670.1" stroke="#c3ff87" stroke-opacity="0.7" stroke-width="0.6" fill="none"/>
<path d="M892.4 699.5C892 685.7 877.6 684.9 867.1 690.9C871.8 702 883.7 710.2 892.4 699.5Z" fill="#101112" opacity="0.35" transform="translate(1.6 2)"/>
<path d="M892.4 699.5C892 685.7 877.6 684.9 867.1 690.9C871.8 702 883.7 710.2 892.4 699.5Z" fill="#88c45c"/>
<path d="M892.4 699.5C883.7 710.2 871.8 702 867.1 690.9C875.7 693.8 884.1 696.7 892.4 699.5Z" fill="#6d9d4a" opacity="0.55"/>
<path d="M892.4 699.5C884.1 696.7 875.7 693.8 867.1 690.9" stroke="#aaf573" stroke-opacity="0.7" stroke-width="0.6" fill="none"/>
<path d="M888.3 721.9C889.9 703.6 867.3 695.7 849.8 698.7C855.4 715.5 872.9 731.8 888.3 721.9Z" fill="#101112" opacity="0.35" transform="translate(1.6 2)"/>
<path d="M888.3 721.9C889.9 703.6 867.3 695.7 849.8 698.7C855.4 715.5 872.9 731.8 888.3 721.9Z" fill="#8cc464"/>
<path d="M888.3 721.9C872.9 731.8 855.4 715.5 849.8 698.7C862.9 706.6 875.6 714.2 888.3 721.9Z" fill="#709d50" opacity="0.55"/>
<path d="M888.3 721.9C875.6 714.2 862.9 706.6 849.8 698.7" stroke="#aff57d" stroke-opacity="0.7" stroke-width="0.6" fill="none"/>
<path d="M904.2 719.9C909.5 731 931.4 729.9 944.4 728C935 712.2 914.6 705.7 904.2 719.9Z" fill="#101112" opacity="0.35" transform="translate(1.6 2)"/>
<path d="M904.2 719.9C909.5 731 931.4 729.9 944.4 728C935 712.2 914.6 705.7 904.2 719.9Z" fill="#80bc58"/>
<path d="M904.2 719.9C909.5 731 931.4 729.9 944.4 728C931.7 720.3 918.4 717.7 904.2 719.9Z" fill="#669646" opacity="0.55"/>
<path d="M904.2 719.9C918.4 717.7 931.7 720.3 944.4 728" stroke="#a0eb6e" stroke-opacity="0.7" stroke-width="0.6" fill="none"/>
<path d="M890 736.1C899.7 745.6 908.7 736.4 910.7 725.1C900.3 720.5 887.7 722.8 890 736.1Z" fill="#101112" opacity="0.35" transform="translate(1.6 2)"/>
<path d="M890 736.1C899.7 745.6 908.7 736.4 910.7 725.1C900.3 720.5 887.7 722.8 890 736.1Z" fill="#88c060"/>
<path d="M890 736.1C899.7 745.6 908.7 736.4 910.7 725.1C903.7 728.9 896.8 732.5 890 736.1Z" fill="#6d9a4d" opacity="0.55"/>
<path d="M890 736.1C896.8 732.5 903.7 728.9 910.7 725.1" stroke="#aaf078" stroke-opacity="0.7" stroke-width="0.6" fill="none"/>
<path d="M887.9 737.8C881.1 743.3 885.1 755.9 891.4 762.6C895.6 754.4 896 741.2 887.9 737.8Z" fill="#101112" opacity="0.35" transform="translate(1.6 2)"/>
<path d="M887.9 737.8C881.1 743.3 885.1 755.9 891.4 762.6C895.6 754.4 896 741.2 887.9 737.8Z" fill="#90c068"/>
<path d="M887.9 737.8C881.1 743.3 885.1 755.9 891.4 762.6C890.2 754.2 889.1 746 887.9 737.8Z" fill="#739a53" opacity="0.55"/>
<path d="M887.9 737.8C889.1 746 890.2 754.2 891.4 762.6" stroke="#b4f082" stroke-opacity="0.7" stroke-width="0.6" fill="none"/>
<ellipse cx="1012.2" cy="815.1" rx="28.2" ry="3.4" fill="#0c0d0e" opacity="0.7"/>
<path d="M990.5 763.2L1039.2 763.2L1034.4 813.6Q1015.2 818.1 996.1 813.6Z" fill="url(#pot)"/>
<path d="M990.5 763.2L1039.2 763.2L1034.4 813.6Q1015.2 818.1 996.1 813.6Z" fill="url(#potHi)" opacity="0.8"/>
<path d="M990.5 763.2L1039.2 763.2L1034.4 813.6Q1015.2 818.1 996.1 813.6Z" fill="#808080" filter="url(#crinkle)" opacity="0.45"/>
<path d="M993.3 767.7Q1014.8 769.3 1036.4 767.7" stroke="#85878a" stroke-width="0.9" fill="none" opacity="0.55"/>
<path d="M993.9 771.2Q1014.8 772.8 1035.7 771.2" stroke="#6a6c70" stroke-width="0.9" fill="none" opacity="0.45"/>
<path d="M994.6 774.7Q1014.8 776.3 1035.1 774.7" stroke="#77797c" stroke-width="0.9" fill="none" opacity="0.4"/>
<path d="M998.1 808.6Q1015.2 812.6 1032.4 808.6" stroke="#8a8c8f" stroke-width="1.3" fill="none" opacity="0.45"/>
<ellipse cx="1014.8" cy="763.5" rx="23.8" ry="2.1" fill="#4c4e4c"/>
<ellipse cx="1014.8" cy="764.2" rx="21.3" ry="1.2" fill="#1c1d1e" opacity="0.55"/>
<path d="M1017.6 762.9 L1015.2 719.8 L1013.6 692.7" fill="none" stroke="#c0d0a0" stroke-width="1.8" stroke-linecap="round" stroke-linejoin="round"/>
<path d="M1014.4 697.5 L1021.6 684.7" fill="none" stroke="#c0d0a0" stroke-width="1.1" stroke-linecap="round"/>
<path d="M1015.2 715 L1023.2 708.6" fill="none" stroke="#c0d0a0" stroke-width="1.1" stroke-linecap="round"/>
<path d="M1013.6 694.2L1009.2 689.8" stroke="#c0d0a0" stroke-width="1" fill="none" stroke-linecap="round"/>
<path d="M1013.6 694.2L1020 685" stroke="#c0d0a0" stroke-width="1" fill="none" stroke-linecap="round"/>
<path d="M1014.7 712.5L1021.6 710.5" stroke="#c0d0a0" stroke-width="1" fill="none" stroke-linecap="round"/>
<path d="M1015.2 721.6L1006.8 720.6" stroke="#c0d0a0" stroke-width="1" fill="none" stroke-linecap="round"/>
<path d="M1014.3 705.5L1010.8 704.2" stroke="#c0d0a0" stroke-width="1" fill="none" stroke-linecap="round"/>
<path d="M1015.7 729.7L1031.2 727.3" stroke="#c0d0a0" stroke-width="1" fill="none" stroke-linecap="round"/>
<path d="M1015.4 724.5L1010.4 723.3" stroke="#c0d0a0" stroke-width="1" fill="none" stroke-linecap="round"/>
<path d="M1017.5 762.9L1020 761.3" stroke="#c0d0a0" stroke-width="1" fill="none" stroke-linecap="round"/>
<path d="M1009.2 689.8C1013.1 670.3 992.3 663.4 975 667.6C978.2 685.2 992.9 701.4 1009.2 689.8Z" fill="#101112" opacity="0.35" transform="translate(1.6 2)"/>
<path d="M1009.2 689.8C1013.1 670.3 992.3 663.4 975 667.6C978.2 685.2 992.9 701.4 1009.2 689.8Z" fill="#8cc860"/>
<path d="M1009.2 689.8C992.9 701.4 978.2 685.2 975 667.6C986.6 675.2 997.9 682.5 1009.2 689.8Z" fill="#70a04d" opacity="0.55"/>
<path d="M1009.2 689.8C997.9 682.5 986.6 675.2 975 667.6" stroke="#affa78" stroke-opacity="0.7" stroke-width="0.6" fill="none"/>
<path d="M1020 685C1036.1 691.7 1048.9 673.7 1050.7 657.2C1034.1 657.4 1015 668.4 1020 685Z" fill="#101112" opacity="0.35" transform="translate(1.6 2)"/>
<path d="M1020 685C1036.1 691.7 1048.9 673.7 1050.7 657.2C1034.1 657.4 1015 668.4 1020 685Z" fill="#7cc450"/>
<path d="M1020 685C1036.1 691.7 1048.9 673.7 1050.7 657.2C1040.2 666.7 1030.1 675.8 1020 685Z" fill="#639d40" opacity="0.55"/>
<path d="M1020 685C1030.1 675.8 1040.2 666.7 1050.7 657.2" stroke="#9bf564" stroke-opacity="0.7" stroke-width="0.6" fill="none"/>
<path d="M1021.6 710.5C1041.3 727.7 1063.6 708.5 1070.8 686C1048.5 678.2 1019.7 684.5 1021.6 710.5Z" fill="#101112" opacity="0.35" transform="translate(1.6 2)"/>
<path d="M1021.6 710.5C1041.3 727.7 1063.6 708.5 1070.8 686C1048.5 678.2 1019.7 684.5 1021.6 710.5Z" fill="#78c450"/>
<path d="M1021.6 710.5C1041.3 727.7 1063.6 708.5 1070.8 686C1054.1 694.3 1037.8 702.4 1021.6 710.5Z" fill="#609d40" opacity="0.55"/>
<path d="M1021.6 710.5C1037.8 702.4 1054.1 694.3 1070.8 686" stroke="#96f564" stroke-opacity="0.7" stroke-width="0.6" fill="none"/>
<path d="M1006.8 720.6C999.6 697.4 975.3 703 960.6 718.2C973.7 734.8 997.3 742.9 1006.8 720.6Z" fill="#101112" opacity="0.35" transform="translate(1.6 2)"/>
<path d="M1006.8 720.6C999.6 697.4 975.3 703 960.6 718.2C973.7 734.8 997.3 742.9 1006.8 720.6Z" fill="#74c050"/>
<path d="M1006.8 720.6C997.3 742.9 973.7 734.8 960.6 718.2C976.3 719 991.5 719.8 1006.8 720.6Z" fill="#5d9a40" opacity="0.55"/>
<path d="M1006.8 720.6C991.5 719.8 976.3 719 960.6 718.2" stroke="#91f064" stroke-opacity="0.7" stroke-width="0.6" fill="none"/>
<path d="M1010.8 704.2C1010.1 693.2 997.1 691.7 987.8 695.9C992.3 705 1003.2 712.2 1010.8 704.2Z" fill="#101112" opacity="0.35" transform="translate(1.6 2)"/>
<path d="M1010.8 704.2C1010.1 693.2 997.1 691.7 987.8 695.9C992.3 705 1003.2 712.2 1010.8 704.2Z" fill="#8cc864"/>
<path d="M1010.8 704.2C1003.2 712.2 992.3 705 987.8 695.9C995.6 698.7 1003.2 701.4 1010.8 704.2Z" fill="#70a050" opacity="0.55"/>
<path d="M1010.8 704.2C1003.2 701.4 995.6 698.7 987.8 695.9" stroke="#affa7d" stroke-opacity="0.7" stroke-width="0.6" fill="none"/>
<path d="M1031.2 727.3C1037.4 735.5 1052.6 731.5 1061 724.6C1051.5 719.3 1035.8 718.1 1031.2 727.3Z" fill="#101112" opacity="0.35" transform="translate(1.6 2)"/>
<path d="M1031.2 727.3C1037.4 735.5 1052.6 731.5 1061 724.6C1051.5 719.3 1035.8 718.1 1031.2 727.3Z" fill="#84c45c"/>
<path d="M1031.2 727.3C1037.4 735.5 1052.6 731.5 1061 724.6C1050.9 725.5 1041 726.4 1031.2 727.3Z" fill="#6a9d4a" opacity="0.55"/>
<path d="M1031.2 727.3C1041 726.4 1050.9 725.5 1061 724.6" stroke="#a5f573" stroke-opacity="0.7" stroke-width="0.6" fill="none"/>
<path d="M1010.4 723.3C998.7 734.7 1008.9 743.2 1021.9 744.1C1028.1 732.5 1026.3 719.4 1010.4 723.3Z" fill="#101112" opacity="0.35" transform="translate(1.6 2)"/>
<path d="M1010.4 723.3C998.7 734.7 1008.9 743.2 1021.9 744.1C1028.1 732.5 1026.3 719.4 1010.4 723.3Z" fill="#88c060"/>
<path d="M1010.4 723.3C998.7 734.7 1008.9 743.2 1021.9 744.1C1018 737 1014.2 730.2 1010.4 723.3Z" fill="#6d9a4d" opacity="0.55"/>
<path d="M1010.4 723.3C1014.2 730.2 1018 737 1021.9 744.1" stroke="#aaf078" stroke-opacity="0.7" stroke-width="0.6" fill="none"/>
<path d="M1020 761.3C1024.5 769.2 1031.6 765 1034.7 758.1C1029 753.1 1020.8 752.2 1020 761.3Z" fill="#101112" opacity="0.35" transform="translate(1.6 2)"/>
<path d="M1020 761.3C1024.5 769.2 1031.6 765 1034.7 758.1C1029 753.1 1020.8 752.2 1020 761.3Z" fill="#8cb868"/>
<path d="M1020 761.3C1024.5 769.2 1031.6 765 1034.7 758.1C1029.7 759.2 1024.9 760.3 1020 761.3Z" fill="#709353" opacity="0.55"/>
<path d="M1020 761.3C1024.9 760.3 1029.7 759.2 1034.7 758.1" stroke="#afe682" stroke-opacity="0.7" stroke-width="0.6" fill="none"/>
</g>
<rect x="1031.2" y="811.4" width="36" height="5.6" fill="#fff"/>
</g>
<text x="1.5" y="16.3" font-size="16" text-anchor="start">(a)</text>
<text x="1" y="315.5" font-size="16" text-anchor="start">(b)</text>
<text x="355.5" y="315" font-size="16" text-anchor="start">(c)</text>
<text x="722" y="314" font-size="16" text-anchor="start">(d)</text>
<text x="2" y="595.5" font-size="16" text-anchor="start">(e)</text>
<text x="1" y="893" font-size="16" text-anchor="start">(f)</text>
<text x="359.5" y="896" font-size="16" text-anchor="start">(g)</text>
<text x="720.5" y="893.5" font-size="16" text-anchor="start">(h)</text>
<text x="188" y="20.2" font-size="20.34" text-anchor="middle">Control</text>
<text x="546.3" y="20.2" font-size="20.34" text-anchor="middle">Drought (14 days)</text>
<text x="904.1" y="20.2" font-size="20.34" text-anchor="middle">Re-water</text>
<text x="192.5" y="602.2" font-size="20.34" text-anchor="middle">Control</text>
<text x="558.9" y="602.2" font-size="20.34" text-anchor="middle">Drought (16 days)</text>
<text x="894.2" y="602.2" font-size="20.34" text-anchor="middle">Re-water</text>
<text x="81" y="267.3" font-size="20.34" text-anchor="middle">GL-3</text>
<text x="197.7" y="264.5" font-size="20.34" text-anchor="middle" font-style="italic">MdRAD5B</text>
<text x="198" y="289" font-size="20.34" text-anchor="middle">RNAi #7</text>
<text x="305.2" y="264.5" font-size="20.34" text-anchor="middle" font-style="italic">MdRAD5B</text>
<text x="305" y="289" font-size="20.34" text-anchor="middle">RNAi #20</text>
<text x="424.5" y="267" font-size="20.34" text-anchor="middle">GL-3</text>
<text x="541.4" y="264.3" font-size="20.34" text-anchor="middle" font-style="italic">MdRAD5B</text>
<text x="540.7" y="288.8" font-size="20.34" text-anchor="middle">RNAi #7</text>
<text x="650.2" y="264.3" font-size="20.34" text-anchor="middle" font-style="italic">MdRAD5B</text>
<text x="650" y="288.8" font-size="20.34" text-anchor="middle">RNAi #20</text>
<text x="774.2" y="267.3" font-size="20.34" text-anchor="middle">GL-3</text>
<text x="906.1" y="264.2" font-size="20.34" text-anchor="middle" font-style="italic">MdRAD5B</text>
<text x="905.8" y="289.2" font-size="20.34" text-anchor="middle">RNAi #7</text>
<text x="1031" y="264.2" font-size="20.34" text-anchor="middle" font-style="italic">MdRAD5B</text>
<text x="1029.7" y="289.2" font-size="20.34" text-anchor="middle">RNAi #20</text>
<text x="81.3" y="849.5" font-size="20.34" text-anchor="middle">GL-3</text>
<text x="191.7" y="848.5" font-size="20.34" text-anchor="middle" font-style="italic">MdRAD5B</text>
<text x="191.3" y="873.5" font-size="20.34" text-anchor="middle">OE #2</text>
<text x="304.2" y="848.5" font-size="20.34" text-anchor="middle" font-style="italic">MdRAD5B</text>
<text x="303.8" y="873.5" font-size="20.34" text-anchor="middle">OE #7</text>
<text x="424.7" y="850" font-size="20.34" text-anchor="middle">GL-3</text>
<text x="541.7" y="849.2" font-size="20.34" text-anchor="middle" font-style="italic">MdRAD5B</text>
<text x="541.3" y="874.2" font-size="20.34" text-anchor="middle">OE #2</text>
<text x="654.2" y="849.2" font-size="20.34" text-anchor="middle" font-style="italic">MdRAD5B</text>
<text x="653.8" y="874.2" font-size="20.34" text-anchor="middle">OE #7</text>
<text x="774.7" y="850" font-size="20.34" text-anchor="middle">GL-3</text>
<text x="902" y="849.2" font-size="20.34" text-anchor="middle" font-style="italic">MdRAD5B</text>
<text x="901.7" y="874.2" font-size="20.34" text-anchor="middle">OE #2</text>
<text x="1022" y="849.2" font-size="20.34" text-anchor="middle" font-style="italic">MdRAD5B</text>
<text x="1022" y="874.2" font-size="20.34" text-anchor="middle">OE #7</text>
<line x1="86.6" y1="529.8" x2="92.6" y2="529.8" stroke="#111" stroke-width="1.7"/>
<text x="74" y="536.3" font-size="19.53" text-anchor="end">0%</text>
<line x1="86.6" y1="476.9" x2="92.6" y2="476.9" stroke="#111" stroke-width="1.7"/>
<text x="74" y="483.4" font-size="19.53" text-anchor="end">10%</text>
<line x1="86.6" y1="423.9" x2="92.6" y2="423.9" stroke="#111" stroke-width="1.7"/>
<text x="74" y="430.4" font-size="19.53" text-anchor="end">20%</text>
<line x1="86.6" y1="371" x2="92.6" y2="371" stroke="#111" stroke-width="1.7"/>
<text x="74" y="377.5" font-size="19.53" text-anchor="end">30%</text>
<line x1="86.6" y1="318.1" x2="92.6" y2="318.1" stroke="#111" stroke-width="1.7"/>
<text x="74" y="324.6" font-size="19.53" text-anchor="end">40%</text>
<text transform="translate(20.5 420) rotate(-90)" font-size="20" text-anchor="middle" y="7.2">Survival rate</text>
<rect x="118.2" y="400.3" width="34.9" height="129.5" fill="#fff" stroke="#111" stroke-width="1.8"/>
<rect x="204.5" y="494.9" width="35" height="34.9" fill="#fff" stroke="#111" stroke-width="1.8"/>
<rect x="290.5" y="468.8" width="35" height="61" fill="#fff" stroke="#111" stroke-width="1.8"/>
<rect x="92.6" y="318.1" width="258.6" height="211.7" fill="none" stroke="#111" stroke-width="1.8"/>
<line x1="135.7" y1="359.5" x2="135.7" y2="441" stroke="#111" stroke-width="1.6"/>
<line x1="130.2" y1="359.5" x2="141.2" y2="359.5" stroke="#111" stroke-width="1.6"/>
<line x1="130.2" y1="441" x2="141.2" y2="441" stroke="#111" stroke-width="1.6"/>
<line x1="222" y1="464" x2="222" y2="525.7" stroke="#111" stroke-width="1.6"/>
<line x1="216.5" y1="464" x2="227.5" y2="464" stroke="#111" stroke-width="1.6"/>
<line x1="216.5" y1="525.7" x2="227.5" y2="525.7" stroke="#111" stroke-width="1.6"/>
<line x1="308" y1="464.7" x2="308" y2="472.6" stroke="#111" stroke-width="1.6"/>
<line x1="302.5" y1="464.7" x2="313.5" y2="464.7" stroke="#111" stroke-width="1.6"/>
<line x1="302.5" y1="472.6" x2="313.5" y2="472.6" stroke="#111" stroke-width="1.6"/>
<text x="222.7" y="464.7" font-size="18.6" text-anchor="middle" stroke-width="0.45">*</text>
<text x="308.3" y="464.7" font-size="18.6" text-anchor="middle" stroke-width="0.45">*</text>
<text x="137" y="552" font-size="20.34" text-anchor="middle">GL-3</text>
<text x="222" y="552" font-size="20.34" text-anchor="middle">#7</text>
<text x="307" y="552" font-size="20.34" text-anchor="middle">#20</text>
<line x1="207.3" y1="556.8" x2="321.3" y2="556.8" stroke="#111" stroke-width="1.5"/>
<text x="263.8" y="580" font-size="20.35" text-anchor="middle"><tspan font-style="italic">MdRAD5B</tspan> RNAi</text>
<line x1="414.6" y1="530.2" x2="420.6" y2="530.2" stroke="#111" stroke-width="1.7"/>
<text x="402" y="536.7" font-size="19.53" text-anchor="end">0</text>
<line x1="414.6" y1="503.7" x2="420.6" y2="503.7" stroke="#111" stroke-width="1.7"/>
<text x="402" y="510.2" font-size="19.53" text-anchor="end">5</text>
<line x1="414.6" y1="477.2" x2="420.6" y2="477.2" stroke="#111" stroke-width="1.7"/>
<text x="402" y="483.7" font-size="19.53" text-anchor="end">10</text>
<line x1="414.6" y1="450.7" x2="420.6" y2="450.7" stroke="#111" stroke-width="1.7"/>
<text x="402" y="457.2" font-size="19.53" text-anchor="end">15</text>
<line x1="414.6" y1="424.2" x2="420.6" y2="424.2" stroke="#111" stroke-width="1.7"/>
<text x="402" y="430.7" font-size="19.53" text-anchor="end">20</text>
<line x1="414.6" y1="397.7" x2="420.6" y2="397.7" stroke="#111" stroke-width="1.7"/>
<text x="402" y="404.2" font-size="19.53" text-anchor="end">25</text>
<line x1="414.6" y1="371.2" x2="420.6" y2="371.2" stroke="#111" stroke-width="1.7"/>
<text x="402" y="377.7" font-size="19.53" text-anchor="end">30</text>
<line x1="414.6" y1="344.7" x2="420.6" y2="344.7" stroke="#111" stroke-width="1.7"/>
<text x="402" y="351.2" font-size="19.53" text-anchor="end">35</text>
<line x1="414.6" y1="318.2" x2="420.6" y2="318.2" stroke="#111" stroke-width="1.7"/>
<text x="402" y="324.7" font-size="19.53" text-anchor="end">40</text>
<text transform="translate(367.5 422) rotate(-90)" font-size="20" text-anchor="middle" y="7.2">MDA (μmol/g FW)</text>
<rect x="445.2" y="512" width="33.3" height="18.2" fill="#3a3a3a" stroke="#111" stroke-width="1.8"/>
<rect x="478.5" y="503.8" width="32.5" height="26.4" fill="#f6c6a8" stroke="#111" stroke-width="1.8"/>
<rect x="511" y="508.6" width="33.2" height="21.6" fill="#fde39a" stroke="#111" stroke-width="1.8"/>
<rect x="593.2" y="485.3" width="32.9" height="44.9" fill="#3a3a3a" stroke="#111" stroke-width="1.8"/>
<rect x="626.1" y="453.8" width="32.9" height="76.4" fill="#f6c6a8" stroke="#111" stroke-width="1.8"/>
<rect x="659" y="448.6" width="33.6" height="81.6" fill="#fde39a" stroke="#111" stroke-width="1.8"/>
<rect x="420.6" y="318.2" width="296.4" height="212" fill="none" stroke="#111" stroke-width="1.8"/>
<line x1="461.3" y1="510.8" x2="461.3" y2="513" stroke="#111" stroke-width="1.6"/>
<line x1="456.8" y1="510.8" x2="465.8" y2="510.8" stroke="#111" stroke-width="1.6"/>
<line x1="456.8" y1="513" x2="465.8" y2="513" stroke="#111" stroke-width="1.6"/>
<line x1="494.6" y1="496.6" x2="494.6" y2="510.3" stroke="#111" stroke-width="1.6"/>
<line x1="490.1" y1="496.6" x2="499.1" y2="496.6" stroke="#111" stroke-width="1.6"/>
<line x1="490.1" y1="510.3" x2="499.1" y2="510.3" stroke="#111" stroke-width="1.6"/>
<line x1="527.5" y1="507.5" x2="527.5" y2="511" stroke="#111" stroke-width="1.6"/>
<line x1="523" y1="507.5" x2="532" y2="507.5" stroke="#111" stroke-width="1.6"/>
<line x1="523" y1="511" x2="532" y2="511" stroke="#111" stroke-width="1.6"/>
<line x1="609.3" y1="481.2" x2="609.3" y2="489.4" stroke="#111" stroke-width="1.6"/>
<line x1="604.8" y1="481.2" x2="613.8" y2="481.2" stroke="#111" stroke-width="1.6"/>
<line x1="604.8" y1="489.4" x2="613.8" y2="489.4" stroke="#111" stroke-width="1.6"/>
<line x1="642.6" y1="451" x2="642.6" y2="456.8" stroke="#111" stroke-width="1.6"/>
<line x1="638.1" y1="451" x2="647.1" y2="451" stroke="#111" stroke-width="1.6"/>
<line x1="638.1" y1="456.8" x2="647.1" y2="456.8" stroke="#111" stroke-width="1.6"/>
<line x1="675.5" y1="433.9" x2="675.5" y2="464" stroke="#111" stroke-width="1.6"/>
<line x1="671" y1="433.9" x2="680" y2="433.9" stroke="#111" stroke-width="1.6"/>
<line x1="671" y1="464" x2="680" y2="464" stroke="#111" stroke-width="1.6"/>
<polyline points="461.3,509 461.3,430.5 510.3,430.5 510.3,490.4" fill="none" stroke="#111" stroke-width="1.8"/>
<line x1="480.9" y1="490.4" x2="539.4" y2="490.4" stroke="#111" stroke-width="1.8"/>
<text x="485.3" y="433.8" font-size="18.6" text-anchor="middle" stroke-width="0.45">*</text>
<polyline points="609.3,475 609.3,407.5 657.3,407.5 657.3,427.7" fill="none" stroke="#111" stroke-width="1.8"/>
<line x1="629.2" y1="427.7" x2="688.5" y2="427.7" stroke="#111" stroke-width="1.8"/>
<text x="633" y="409.9" font-size="18.6" text-anchor="middle" stroke-width="0.45">***</text>
<rect x="425.9" y="323.6" width="12" height="14.4" fill="#5e5e5e" stroke="#111" stroke-width="1.7"/>
<rect x="425.9" y="347.8" width="12" height="14.4" fill="#f6c6a8" stroke="#111" stroke-width="1.7"/>
<rect x="425.9" y="371.5" width="12" height="14.4" fill="#fde39a" stroke="#111" stroke-width="1.7"/>
<text x="446" y="338" font-size="20.34" text-anchor="start">GL-3</text>
<text x="446" y="362.5" font-size="20.35" text-anchor="start"><tspan font-style="italic">MdRAD5B RNAi</tspan> #7</text>
<text x="446" y="386" font-size="20.35" text-anchor="start"><tspan font-style="italic">MdRAD5B RNAi</tspan> #20</text>
<text x="495" y="556.5" font-size="20.34" text-anchor="middle">Control</text>
<text x="637.8" y="556.5" font-size="20.34" text-anchor="middle">Drought</text>
<line x1="799" y1="529.8" x2="805" y2="529.8" stroke="#111" stroke-width="1.7"/>
<text x="786" y="536.3" font-size="19.53" text-anchor="end">0%</text>
<line x1="799" y1="476.6" x2="805" y2="476.6" stroke="#111" stroke-width="1.7"/>
<text x="786" y="483.1" font-size="19.53" text-anchor="end">20%</text>
<line x1="799" y1="423.4" x2="805" y2="423.4" stroke="#111" stroke-width="1.7"/>
<text x="786" y="429.9" font-size="19.53" text-anchor="end">40%</text>
<line x1="799" y1="370.3" x2="805" y2="370.3" stroke="#111" stroke-width="1.7"/>
<text x="786" y="376.8" font-size="19.53" text-anchor="end">60%</text>
<line x1="799" y1="317.1" x2="805" y2="317.1" stroke="#111" stroke-width="1.7"/>
<text x="786" y="323.6" font-size="19.53" text-anchor="end">80%</text>
<text transform="translate(732.7 420.5) rotate(-90)" font-size="20" text-anchor="middle" y="7.2">Ion leakage</text>
<rect x="826.5" y="499" width="29.5" height="30.8" fill="#3a3a3a" stroke="#111" stroke-width="1.8"/>
<rect x="856" y="491.1" width="29.4" height="38.7" fill="#f6c6a8" stroke="#111" stroke-width="1.8"/>
<rect x="885.4" y="487" width="29.1" height="42.8" fill="#fde39a" stroke="#111" stroke-width="1.8"/>
<rect x="958" y="476" width="29.5" height="53.8" fill="#3a3a3a" stroke="#111" stroke-width="1.8"/>
<rect x="987.5" y="424.3" width="29.1" height="105.5" fill="#f6c6a8" stroke="#111" stroke-width="1.8"/>
<rect x="1016.6" y="433.9" width="29.1" height="95.9" fill="#fde39a" stroke="#111" stroke-width="1.8"/>
<rect x="805" y="317.1" width="262.6" height="212.7" fill="none" stroke="#111" stroke-width="1.8"/>
<line x1="841.2" y1="497.5" x2="841.2" y2="500.5" stroke="#111" stroke-width="1.6"/>
<line x1="836.7" y1="497.5" x2="845.7" y2="497.5" stroke="#111" stroke-width="1.6"/>
<line x1="836.7" y1="500.5" x2="845.7" y2="500.5" stroke="#111" stroke-width="1.6"/>
<line x1="870.7" y1="489.8" x2="870.7" y2="492.4" stroke="#111" stroke-width="1.6"/>
<line x1="866.2" y1="489.8" x2="875.2" y2="489.8" stroke="#111" stroke-width="1.6"/>
<line x1="866.2" y1="492.4" x2="875.2" y2="492.4" stroke="#111" stroke-width="1.6"/>
<line x1="899.8" y1="485.4" x2="899.8" y2="488.6" stroke="#111" stroke-width="1.6"/>
<line x1="895.3" y1="485.4" x2="904.3" y2="485.4" stroke="#111" stroke-width="1.6"/>
<line x1="895.3" y1="488.6" x2="904.3" y2="488.6" stroke="#111" stroke-width="1.6"/>
<line x1="972.8" y1="471.6" x2="972.8" y2="479.1" stroke="#111" stroke-width="1.6"/>
<line x1="968.3" y1="471.6" x2="977.3" y2="471.6" stroke="#111" stroke-width="1.6"/>
<line x1="968.3" y1="479.1" x2="977.3" y2="479.1" stroke="#111" stroke-width="1.6"/>
<line x1="1001.9" y1="417.8" x2="1001.9" y2="430.5" stroke="#111" stroke-width="1.6"/>
<line x1="997.4" y1="417.8" x2="1006.4" y2="417.8" stroke="#111" stroke-width="1.6"/>
<line x1="997.4" y1="430.5" x2="1006.4" y2="430.5" stroke="#111" stroke-width="1.6"/>
<line x1="1031" y1="427" x2="1031" y2="440" stroke="#111" stroke-width="1.6"/>
<line x1="1026.5" y1="427" x2="1035.5" y2="427" stroke="#111" stroke-width="1.6"/>
<line x1="1026.5" y1="440" x2="1035.5" y2="440" stroke="#111" stroke-width="1.6"/>
<polyline points="841.2,495.5 841.2,464 884.7,464 884.7,478.4" fill="none" stroke="#111" stroke-width="1.8"/>
<line x1="853.2" y1="478.4" x2="915.5" y2="478.4" stroke="#111" stroke-width="1.8"/>
<text x="862.8" y="467.1" font-size="18.6" text-anchor="middle" stroke-width="0.45">***</text>
<polyline points="972.8,469.9 972.8,397.2 1014.9,397.2 1014.9,412.3" fill="none" stroke="#111" stroke-width="1.8"/>
<line x1="984" y1="412.3" x2="1046.4" y2="412.3" stroke="#111" stroke-width="1.8"/>
<text x="993.7" y="399.6" font-size="18.6" text-anchor="middle" stroke-width="0.45">***</text>
<text x="874.4" y="553" font-size="20.34" text-anchor="middle">Control</text>
<text x="995" y="553" font-size="20.34" text-anchor="middle">Drought</text>
<line x1="92.3" y1="1104.8" x2="98.3" y2="1104.8" stroke="#111" stroke-width="1.7"/>
<text x="79" y="1111.3" font-size="19.53" text-anchor="end">0%</text>
<line x1="92.3" y1="1053" x2="98.3" y2="1053" stroke="#111" stroke-width="1.7"/>
<text x="79" y="1059.5" font-size="19.53" text-anchor="end">10%</text>
<line x1="92.3" y1="1001.1" x2="98.3" y2="1001.1" stroke="#111" stroke-width="1.7"/>
<text x="79" y="1007.6" font-size="19.53" text-anchor="end">20%</text>
<line x1="92.3" y1="949.3" x2="98.3" y2="949.3" stroke="#111" stroke-width="1.7"/>
<text x="79" y="955.8" font-size="19.53" text-anchor="end">30%</text>
<line x1="92.3" y1="897.5" x2="98.3" y2="897.5" stroke="#111" stroke-width="1.7"/>
<text x="79" y="904" font-size="19.53" text-anchor="end">40%</text>
<text transform="translate(19.6 1003) rotate(-90)" font-size="20" text-anchor="middle" y="7.2">Survival rate</text>
<rect x="123.3" y="1018.5" width="35" height="86.3" fill="#fff" stroke="#111" stroke-width="1.8"/>
<rect x="209.7" y="937.6" width="34.9" height="167.2" fill="#fff" stroke="#111" stroke-width="1.8"/>
<rect x="296" y="943.5" width="35" height="161.3" fill="#fff" stroke="#111" stroke-width="1.8"/>
<rect x="98.3" y="897.5" width="258" height="207.3" fill="none" stroke="#111" stroke-width="1.8"/>
<line x1="140.8" y1="988.3" x2="140.8" y2="1049" stroke="#111" stroke-width="1.6"/>
<line x1="135.3" y1="988.3" x2="146.3" y2="988.3" stroke="#111" stroke-width="1.6"/>
<line x1="135.3" y1="1049" x2="146.3" y2="1049" stroke="#111" stroke-width="1.6"/>
<line x1="227.1" y1="927.7" x2="227.1" y2="947.6" stroke="#111" stroke-width="1.6"/>
<line x1="221.6" y1="927.7" x2="232.6" y2="927.7" stroke="#111" stroke-width="1.6"/>
<line x1="221.6" y1="947.6" x2="232.6" y2="947.6" stroke="#111" stroke-width="1.6"/>
<line x1="313.1" y1="933.2" x2="313.1" y2="953.4" stroke="#111" stroke-width="1.6"/>
<line x1="307.6" y1="933.2" x2="318.6" y2="933.2" stroke="#111" stroke-width="1.6"/>
<line x1="307.6" y1="953.4" x2="318.6" y2="953.4" stroke="#111" stroke-width="1.6"/>
<text x="227.1" y="927.3" font-size="18.6" text-anchor="middle" stroke-width="0.45">**</text>
<text x="314.1" y="933.1" font-size="18.6" text-anchor="middle" stroke-width="0.45">**</text>
<text x="137" y="1131.5" font-size="20.34" text-anchor="middle">GL-3</text>
<text x="227" y="1131.5" font-size="20.34" text-anchor="middle">#2</text>
<text x="312.4" y="1131.5" font-size="20.34" text-anchor="middle">#7</text>
<line x1="215.1" y1="1134.8" x2="329.6" y2="1134.8" stroke="#111" stroke-width="1.5"/>
<text x="271.7" y="1159" font-size="20.35" text-anchor="middle"><tspan font-style="italic">MdRAD5B</tspan> OE</text>
<line x1="417.1" y1="1107.5" x2="423.1" y2="1107.5" stroke="#111" stroke-width="1.7"/>
<text x="404" y="1114" font-size="19.53" text-anchor="end">0</text>
<line x1="417.1" y1="1077.4" x2="423.1" y2="1077.4" stroke="#111" stroke-width="1.7"/>
<text x="404" y="1083.9" font-size="19.53" text-anchor="end">2</text>
<line x1="417.1" y1="1047.3" x2="423.1" y2="1047.3" stroke="#111" stroke-width="1.7"/>
<text x="404" y="1053.8" font-size="19.53" text-anchor="end">4</text>
<line x1="417.1" y1="1017.2" x2="423.1" y2="1017.2" stroke="#111" stroke-width="1.7"/>
<text x="404" y="1023.7" font-size="19.53" text-anchor="end">6</text>
<line x1="417.1" y1="987.2" x2="423.1" y2="987.2" stroke="#111" stroke-width="1.7"/>
<text x="404" y="993.7" font-size="19.53" text-anchor="end">8</text>
<line x1="417.1" y1="957.1" x2="423.1" y2="957.1" stroke="#111" stroke-width="1.7"/>
<text x="404" y="963.6" font-size="19.53" text-anchor="end">10</text>
<line x1="417.1" y1="927" x2="423.1" y2="927" stroke="#111" stroke-width="1.7"/>
<text x="404" y="933.5" font-size="19.53" text-anchor="end">12</text>
<line x1="417.1" y1="896.9" x2="423.1" y2="896.9" stroke="#111" stroke-width="1.7"/>
<text x="404" y="903.4" font-size="19.53" text-anchor="end">14</text>
<text transform="translate(372.3 1002) rotate(-90)" font-size="20" text-anchor="middle" y="7.2">MDA (μmol/g FW)</text>
<rect x="446.6" y="1027" width="31.9" height="80.5" fill="#e6e6e6" stroke="#111" stroke-width="1.8"/>
<rect x="478.5" y="1061.3" width="32.5" height="46.2" fill="#8a9fc0" stroke="#111" stroke-width="1.8"/>
<rect x="511" y="1071.9" width="31.5" height="35.6" fill="#1f4e7c" stroke="#111" stroke-width="1.8"/>
<rect x="590.5" y="996.9" width="32.5" height="110.6" fill="#e6e6e6" stroke="#111" stroke-width="1.8"/>
<rect x="623" y="1028" width="31.9" height="79.5" fill="#8a9fc0" stroke="#111" stroke-width="1.8"/>
<rect x="654.9" y="1036" width="31.5" height="71.5" fill="#1f4e7c" stroke="#111" stroke-width="1.8"/>
<rect x="423.1" y="896.9" width="287.5" height="210.6" fill="none" stroke="#111" stroke-width="1.8"/>
<line x1="462.4" y1="1025.8" x2="462.4" y2="1028.2" stroke="#111" stroke-width="1.6"/>
<line x1="457.9" y1="1025.8" x2="466.9" y2="1025.8" stroke="#111" stroke-width="1.6"/>
<line x1="457.9" y1="1028.2" x2="466.9" y2="1028.2" stroke="#111" stroke-width="1.6"/>
<line x1="494.6" y1="1055.1" x2="494.6" y2="1068.2" stroke="#111" stroke-width="1.6"/>
<line x1="490.1" y1="1055.1" x2="499.1" y2="1055.1" stroke="#111" stroke-width="1.6"/>
<line x1="490.1" y1="1068.2" x2="499.1" y2="1068.2" stroke="#111" stroke-width="1.6"/>
<line x1="526.8" y1="1066.4" x2="526.8" y2="1077.4" stroke="#111" stroke-width="1.6"/>
<line x1="522.3" y1="1066.4" x2="531.3" y2="1066.4" stroke="#111" stroke-width="1.6"/>
<line x1="522.3" y1="1077.4" x2="531.3" y2="1077.4" stroke="#111" stroke-width="1.6"/>
<line x1="607" y1="989.4" x2="607" y2="1003.7" stroke="#111" stroke-width="1.6"/>
<line x1="602.5" y1="989.4" x2="611.5" y2="989.4" stroke="#111" stroke-width="1.6"/>
<line x1="602.5" y1="1003.7" x2="611.5" y2="1003.7" stroke="#111" stroke-width="1.6"/>
<line x1="639.5" y1="1021.9" x2="639.5" y2="1033.9" stroke="#111" stroke-width="1.6"/>
<line x1="635" y1="1021.9" x2="644" y2="1021.9" stroke="#111" stroke-width="1.6"/>
<line x1="635" y1="1033.9" x2="644" y2="1033.9" stroke="#111" stroke-width="1.6"/>
<line x1="671" y1="1026" x2="671" y2="1045.9" stroke="#111" stroke-width="1.6"/>
<line x1="666.5" y1="1026" x2="675.5" y2="1026" stroke="#111" stroke-width="1.6"/>
<line x1="666.5" y1="1045.9" x2="675.5" y2="1045.9" stroke="#111" stroke-width="1.6"/>
<polyline points="462.4,1023.3 462.4,985.6 510.3,985.6 510.3,1048.3" fill="none" stroke="#111" stroke-width="1.8"/>
<line x1="481.9" y1="1048.3" x2="541.2" y2="1048.3" stroke="#111" stroke-width="1.8"/>
<text x="482.9" y="990" font-size="18.6" text-anchor="middle" stroke-width="0.45">**</text>
<polyline points="607,988.3 607,981.5 654.2,981.5 654.2,1014" fill="none" stroke="#111" stroke-width="1.8"/>
<line x1="626.8" y1="1014" x2="685.7" y2="1014" stroke="#111" stroke-width="1.8"/>
<text x="629.9" y="983.8" font-size="18.6" text-anchor="middle" stroke-width="0.45">***</text>
<rect x="433.2" y="905.4" width="11" height="13.7" fill="#e6e6e6" stroke="#111" stroke-width="1.4"/>
<rect x="433.2" y="929.4" width="11" height="14" fill="#8a9fc0" stroke="#111" stroke-width="1.4"/>
<rect x="433.2" y="953" width="11" height="14" fill="#1f4e7c" stroke="#111" stroke-width="1.4"/>
<text x="453.8" y="919.5" font-size="20.34" text-anchor="start">GL-3</text>
<text x="453.8" y="943.5" font-size="20.35" text-anchor="start"><tspan font-style="italic">MdRAD5B</tspan> OE #2</text>
<text x="453.8" y="967" font-size="20.35" text-anchor="start"><tspan font-style="italic">MdRAD5B</tspan> OE #7</text>
<text x="491.1" y="1135.5" font-size="20.34" text-anchor="middle">Control</text>
<text x="628.5" y="1135.5" font-size="20.34" text-anchor="middle">Drought</text>
<line x1="799" y1="1107.5" x2="805" y2="1107.5" stroke="#111" stroke-width="1.7"/>
<text x="786" y="1114" font-size="19.53" text-anchor="end">0%</text>
<line x1="799" y1="1072.4" x2="805" y2="1072.4" stroke="#111" stroke-width="1.7"/>
<text x="786" y="1078.9" font-size="19.53" text-anchor="end">10%</text>
<line x1="799" y1="1037.2" x2="805" y2="1037.2" stroke="#111" stroke-width="1.7"/>
<text x="786" y="1043.7" font-size="19.53" text-anchor="end">20%</text>
<line x1="799" y1="1002.1" x2="805" y2="1002.1" stroke="#111" stroke-width="1.7"/>
<text x="786" y="1008.6" font-size="19.53" text-anchor="end">30%</text>
<line x1="799" y1="967" x2="805" y2="967" stroke="#111" stroke-width="1.7"/>
<text x="786" y="973.5" font-size="19.53" text-anchor="end">40%</text>
<line x1="799" y1="931.8" x2="805" y2="931.8" stroke="#111" stroke-width="1.7"/>
<text x="786" y="938.3" font-size="19.53" text-anchor="end">50%</text>
<line x1="799" y1="896.7" x2="805" y2="896.7" stroke="#111" stroke-width="1.7"/>
<text x="786" y="903.2" font-size="19.53" text-anchor="end">60%</text>
<text transform="translate(732.7 1003.6) rotate(-90)" font-size="20" text-anchor="middle" y="7.2">Ion leakage</text>
<rect x="826.5" y="1016" width="29.5" height="91.5" fill="#e6e6e6" stroke="#111" stroke-width="1.8"/>
<rect x="856" y="1025.3" width="29.4" height="82.2" fill="#8a9fc0" stroke="#111" stroke-width="1.8"/>
<rect x="885.4" y="1026" width="29.1" height="81.5" fill="#1f4e7c" stroke="#111" stroke-width="1.8"/>
<rect x="958" y="975.3" width="29.5" height="132.2" fill="#e6e6e6" stroke="#111" stroke-width="1.8"/>
<rect x="987.5" y="1009.6" width="29.1" height="97.9" fill="#8a9fc0" stroke="#111" stroke-width="1.8"/>
<rect x="1016.6" y="1008.2" width="29.1" height="99.3" fill="#1f4e7c" stroke="#111" stroke-width="1.8"/>
<rect x="805" y="896.7" width="262.6" height="210.8" fill="none" stroke="#111" stroke-width="1.8"/>
<line x1="841.2" y1="1009.9" x2="841.2" y2="1021.9" stroke="#111" stroke-width="1.6"/>
<line x1="836.7" y1="1009.9" x2="845.7" y2="1009.9" stroke="#111" stroke-width="1.6"/>
<line x1="836.7" y1="1021.9" x2="845.7" y2="1021.9" stroke="#111" stroke-width="1.6"/>
<line x1="870.7" y1="1024.2" x2="870.7" y2="1026.4" stroke="#111" stroke-width="1.6"/>
<line x1="866.2" y1="1024.2" x2="875.2" y2="1024.2" stroke="#111" stroke-width="1.6"/>
<line x1="866.2" y1="1026.4" x2="875.2" y2="1026.4" stroke="#111" stroke-width="1.6"/>
<line x1="899.8" y1="1022.9" x2="899.8" y2="1029.4" stroke="#111" stroke-width="1.6"/>
<line x1="895.3" y1="1022.9" x2="904.3" y2="1022.9" stroke="#111" stroke-width="1.6"/>
<line x1="895.3" y1="1029.4" x2="904.3" y2="1029.4" stroke="#111" stroke-width="1.6"/>
<line x1="972.8" y1="965.4" x2="972.8" y2="985.2" stroke="#111" stroke-width="1.6"/>
<line x1="968.3" y1="965.4" x2="977.3" y2="965.4" stroke="#111" stroke-width="1.6"/>
<line x1="968.3" y1="985.2" x2="977.3" y2="985.2" stroke="#111" stroke-width="1.6"/>
<line x1="1001.9" y1="992.4" x2="1001.9" y2="1027" stroke="#111" stroke-width="1.6"/>
<line x1="997.4" y1="992.4" x2="1006.4" y2="992.4" stroke="#111" stroke-width="1.6"/>
<line x1="997.4" y1="1027" x2="1006.4" y2="1027" stroke="#111" stroke-width="1.6"/>
<line x1="1031" y1="990.7" x2="1031" y2="1026" stroke="#111" stroke-width="1.6"/>
<line x1="1026.5" y1="990.7" x2="1035.5" y2="990.7" stroke="#111" stroke-width="1.6"/>
<line x1="1026.5" y1="1026" x2="1035.5" y2="1026" stroke="#111" stroke-width="1.6"/>
<polyline points="841.2,1010.6 841.2,979 898.4,979 898.4,1017.4" fill="none" stroke="#111" stroke-width="1.8"/>
<polyline points="841.2,992.4 869.3,992.4 869.3,1020.9" fill="none" stroke="#111" stroke-width="1.8"/>
<text x="868.3" y="984.5" font-size="18.6" text-anchor="middle" stroke-width="0.45">*</text>
<text x="855.6" y="998.2" font-size="18.6" text-anchor="middle" stroke-width="0.45">**</text>
<polyline points="972.8,960.9 972.8,936.3 1016.6,936.3 1016.6,983.9" fill="none" stroke="#111" stroke-width="1.8"/>
<line x1="990.9" y1="983.9" x2="1041.6" y2="983.9" stroke="#111" stroke-width="1.8"/>
<text x="997" y="940" font-size="18.6" text-anchor="middle" stroke-width="0.45">**</text>
<text x="870.3" y="1132.5" font-size="20.34" text-anchor="middle">Control</text>
<text x="990.9" y="1132.5" font-size="20.34" text-anchor="middle">Drought</text>
</svg></body></html>
